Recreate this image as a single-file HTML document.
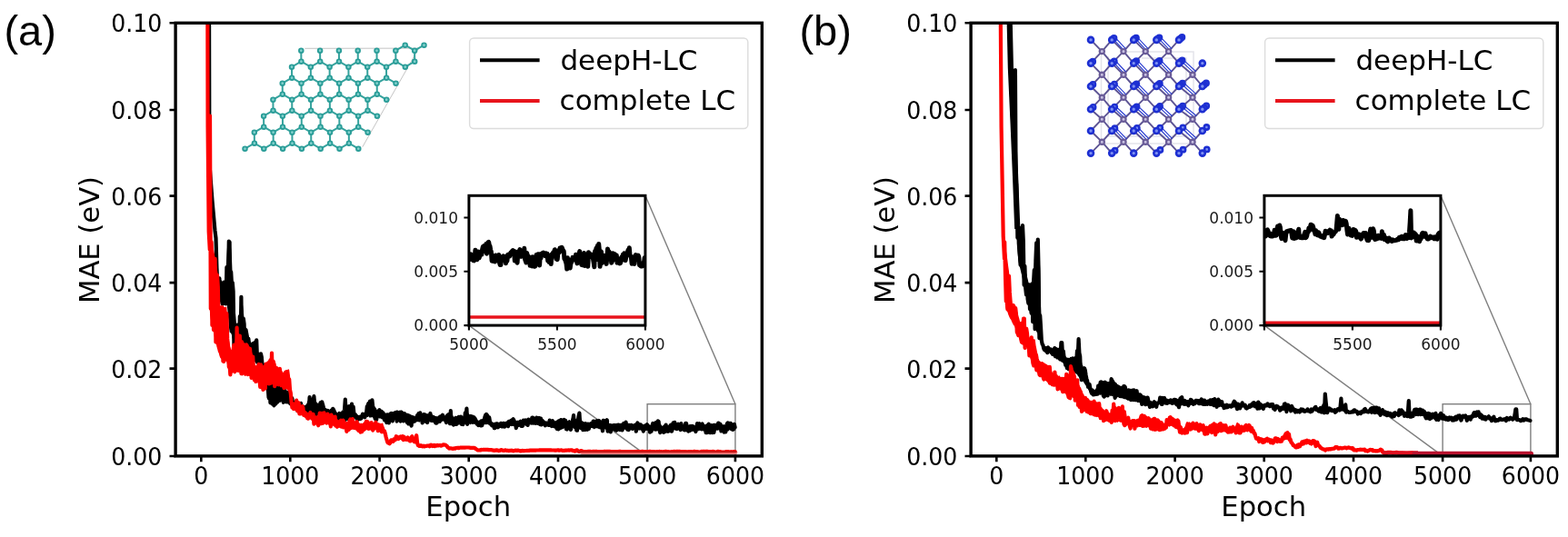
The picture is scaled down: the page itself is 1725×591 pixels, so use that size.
<!DOCTYPE html>
<html lang="en">
<head>
<meta charset="utf-8">
<title>MAE vs Epoch: deepH-LC and complete LC</title>
<style>
html,body{margin:0;padding:0;background:#fff;}
body{width:1725px;height:591px;overflow:hidden;}
svg{display:block;filter:blur(0.65px);}
</style>
</head>
<body>
<svg width="1725" height="591" viewBox="0 0 1725 591" role="img" aria-label="MAE versus epoch for deepH-LC and complete LC">
<rect width="1725" height="591" fill="#fff"/>
<g transform="translate(0.0,0)">
<path d="M221.30,501.9v6.4M319.30,501.9v6.4M417.60,501.9v6.4M515.70,501.9v6.4M614.00,501.9v6.4M712.10,501.9v6.4M808.90,501.9v6.4M193.1,502.00h-6.6M193.1,405.60h-6.6M193.1,311.10h-6.6M193.1,215.60h-6.6M193.1,121.00h-6.6M193.1,25.30h-6.6" stroke="#000" stroke-width="2.6" fill="none"/>
<g font-family="'DejaVu Sans','Liberation Sans',sans-serif" font-size="25.2" fill="#000">
<text transform="translate(221.3,532.6) scale(1,1.050)" text-anchor="middle">0</text>
<text transform="translate(319.3,532.6) scale(1,1.050)" text-anchor="middle">1000</text>
<text transform="translate(417.6,532.6) scale(1,1.050)" text-anchor="middle">2000</text>
<text transform="translate(515.7,532.6) scale(1,1.050)" text-anchor="middle">3000</text>
<text transform="translate(614.0,532.6) scale(1,1.050)" text-anchor="middle">4000</text>
<text transform="translate(712.1,532.6) scale(1,1.050)" text-anchor="middle">5000</text>
<text transform="translate(808.9,532.6) scale(1,1.050)" text-anchor="middle">6000</text>
<text transform="translate(178.4,511.9) scale(1,1.050)" text-anchor="end">0.00</text>
<text transform="translate(178.4,415.5) scale(1,1.050)" text-anchor="end">0.02</text>
<text transform="translate(178.4,321.0) scale(1,1.050)" text-anchor="end">0.04</text>
<text transform="translate(178.4,225.5) scale(1,1.050)" text-anchor="end">0.06</text>
<text transform="translate(178.4,130.9) scale(1,1.050)" text-anchor="end">0.08</text>
<text transform="translate(178.4,35.2) scale(1,1.050)" text-anchor="end">0.10</text>
</g>
<text x="515.2" y="567.8" text-anchor="middle" font-family="'DejaVu Sans','Liberation Sans',sans-serif" font-size="30.6">Epoch</text>
<text transform="translate(109.3,264) rotate(-90)" text-anchor="middle" font-family="'DejaVu Sans','Liberation Sans',sans-serif" font-size="30.6">MAE (eV)</text>
<g stroke="#7f7f7f" stroke-width="1.4" fill="none">
<rect x="712.1" y="444.7" width="96.8" height="57.2"/>
<path d="M515.9,358.1L712.1,501.9M709.9,215.3L808.9,444.7"/>
</g>
<rect x="516.6" y="42" width="306.2" height="99.5" rx="4.5" fill="#fff" fill-opacity="0.8" stroke="#dcdcdc" stroke-width="1.4"/>
<path d="M528,66.2H593.6" stroke="#000" stroke-width="3.9"/>
<path d="M528,111H593.6" stroke="#e8141c" stroke-width="3.9"/>
<g font-family="'DejaVu Sans','Liberation Sans',sans-serif" font-size="31.0" fill="#000"><text x="616.4" y="76.8">deepH-LC</text><text x="615.6" y="121.4">complete LC</text></g>
<path d="M515.9,358.1v5.5M515.9,358.1h-5.5M612.9,358.1v5.5M515.9,298.8h-5.5M709.9,358.1v5.5M515.9,239.5h-5.5" stroke="#000" stroke-width="2.1" fill="none"/>
<g font-family="'DejaVu Sans','Liberation Sans',sans-serif" font-size="17.0" fill="#1a1a1a">
<text x="515.9" y="384.8" text-anchor="middle">5000</text>
<text x="612.9" y="384.8" text-anchor="middle">5500</text>
<text x="709.9" y="384.8" text-anchor="middle">6000</text>
<text x="504" y="364.3" text-anchor="end">0.000</text>
<text x="504" y="305.0" text-anchor="end">0.005</text>
<text x="504" y="245.7" text-anchor="end">0.010</text>
</g>
</g>
<g transform="translate(875.0,0)">
<path d="M221.30,501.9v6.4M319.30,501.9v6.4M417.60,501.9v6.4M515.70,501.9v6.4M614.00,501.9v6.4M712.10,501.9v6.4M808.90,501.9v6.4M193.1,502.00h-6.6M193.1,405.60h-6.6M193.1,311.10h-6.6M193.1,215.60h-6.6M193.1,121.00h-6.6M193.1,25.30h-6.6" stroke="#000" stroke-width="2.6" fill="none"/>
<g font-family="'DejaVu Sans','Liberation Sans',sans-serif" font-size="25.2" fill="#000">
<text transform="translate(221.3,532.6) scale(1,1.050)" text-anchor="middle">0</text>
<text transform="translate(319.3,532.6) scale(1,1.050)" text-anchor="middle">1000</text>
<text transform="translate(417.6,532.6) scale(1,1.050)" text-anchor="middle">2000</text>
<text transform="translate(515.7,532.6) scale(1,1.050)" text-anchor="middle">3000</text>
<text transform="translate(614.0,532.6) scale(1,1.050)" text-anchor="middle">4000</text>
<text transform="translate(712.1,532.6) scale(1,1.050)" text-anchor="middle">5000</text>
<text transform="translate(808.9,532.6) scale(1,1.050)" text-anchor="middle">6000</text>
<text transform="translate(178.4,511.9) scale(1,1.050)" text-anchor="end">0.00</text>
<text transform="translate(178.4,415.5) scale(1,1.050)" text-anchor="end">0.02</text>
<text transform="translate(178.4,321.0) scale(1,1.050)" text-anchor="end">0.04</text>
<text transform="translate(178.4,225.5) scale(1,1.050)" text-anchor="end">0.06</text>
<text transform="translate(178.4,130.9) scale(1,1.050)" text-anchor="end">0.08</text>
<text transform="translate(178.4,35.2) scale(1,1.050)" text-anchor="end">0.10</text>
</g>
<text x="515.2" y="567.8" text-anchor="middle" font-family="'DejaVu Sans','Liberation Sans',sans-serif" font-size="30.6">Epoch</text>
<text transform="translate(109.3,264) rotate(-90)" text-anchor="middle" font-family="'DejaVu Sans','Liberation Sans',sans-serif" font-size="30.6">MAE (eV)</text>
<g stroke="#7f7f7f" stroke-width="1.4" fill="none">
<rect x="712.1" y="444.7" width="96.8" height="57.2"/>
<path d="M515.9,358.1L712.1,501.9M709.9,215.3L808.9,444.7"/>
</g>
<rect x="516.6" y="42" width="306.2" height="99.5" rx="4.5" fill="#fff" fill-opacity="0.8" stroke="#dcdcdc" stroke-width="1.4"/>
<path d="M528,66.2H593.6" stroke="#000" stroke-width="3.9"/>
<path d="M528,111H593.6" stroke="#e8141c" stroke-width="3.9"/>
<g font-family="'DejaVu Sans','Liberation Sans',sans-serif" font-size="31.0" fill="#000"><text x="616.4" y="76.8">deepH-LC</text><text x="615.6" y="121.4">complete LC</text></g>
<path d="M515.9,358.1v5.5M515.9,358.1h-5.5M612.9,358.1v5.5M515.9,298.8h-5.5M709.9,358.1v5.5M515.9,239.5h-5.5" stroke="#000" stroke-width="2.1" fill="none"/>
<g font-family="'DejaVu Sans','Liberation Sans',sans-serif" font-size="17.0" fill="#1a1a1a">
<text x="612.9" y="384.8" text-anchor="middle">5500</text>
<text x="709.9" y="384.8" text-anchor="middle">6000</text>
<text x="504" y="364.3" text-anchor="end">0.000</text>
<text x="504" y="305.0" text-anchor="end">0.005</text>
<text x="504" y="245.7" text-anchor="end">0.010</text>
</g>
</g>
<path d="M335.3,53.3L460.6,53.1L398.8,161.7" stroke="#c4c4c4" stroke-width="1" fill="none"/>
<path d="M279.9,157.7L269.5,163.7M279.9,157.7L290.3,163.7M279.9,157.7L279.8,145.7M290.2,139.7L279.8,145.7M290.2,139.7L300.6,145.7M290.2,139.7L290.1,127.7M300.5,121.7L290.1,127.7M300.5,121.7L310.9,127.7M300.5,121.7L300.4,109.7M310.8,103.7L300.4,109.7M310.8,103.7L321.2,109.7M310.8,103.7L310.7,91.7M321.1,85.7L310.7,91.7M321.1,85.7L331.5,91.7M321.1,85.7L321.0,73.7M331.4,67.7L321.0,73.7M331.4,67.7L341.8,73.7M331.4,67.7L331.3,55.7M300.7,157.7L290.3,163.7M300.7,157.7L311.1,163.7M300.7,157.7L300.6,145.7M311.0,139.7L300.6,145.7M311.0,139.7L321.4,145.7M311.0,139.7L310.9,127.7M321.3,121.7L310.9,127.7M321.3,121.7L331.7,127.7M321.3,121.7L321.2,109.7M331.6,103.7L321.2,109.7M331.6,103.7L342.0,109.7M331.6,103.7L331.5,91.7M341.9,85.7L331.5,91.7M341.9,85.7L352.3,91.7M341.9,85.7L341.8,73.7M352.2,67.7L341.8,73.7M352.2,67.7L362.6,73.7M352.2,67.7L352.1,55.7M321.5,157.7L311.1,163.7M321.5,157.7L331.9,163.7M321.5,157.7L321.4,145.7M331.8,139.7L321.4,145.7M331.8,139.7L342.2,145.7M331.8,139.7L331.7,127.7M342.1,121.7L331.7,127.7M342.1,121.7L352.5,127.7M342.1,121.7L342.0,109.7M352.4,103.7L342.0,109.7M352.4,103.7L362.8,109.7M352.4,103.7L352.3,91.7M362.7,85.7L352.3,91.7M362.7,85.7L373.1,91.7M362.7,85.7L362.6,73.7M373.0,67.7L362.6,73.7M373.0,67.7L383.4,73.7M373.0,67.7L372.9,55.7M342.3,157.7L331.9,163.7M342.3,157.7L352.7,163.7M342.3,157.7L342.2,145.7M352.6,139.7L342.2,145.7M352.6,139.7L363.0,145.7M352.6,139.7L352.5,127.7M362.9,121.7L352.5,127.7M362.9,121.7L373.3,127.7M362.9,121.7L362.8,109.7M373.2,103.7L362.8,109.7M373.2,103.7L383.6,109.7M373.2,103.7L373.1,91.7M383.5,85.7L373.1,91.7M383.5,85.7L393.9,91.7M383.5,85.7L383.4,73.7M393.8,67.7L383.4,73.7M393.8,67.7L404.2,73.7M393.8,67.7L393.7,55.7M363.1,157.7L352.7,163.7M363.1,157.7L373.5,163.7M363.1,157.7L363.0,145.7M373.4,139.7L363.0,145.7M373.4,139.7L383.8,145.7M373.4,139.7L373.3,127.7M383.7,121.7L373.3,127.7M383.7,121.7L394.1,127.7M383.7,121.7L383.6,109.7M394.0,103.7L383.6,109.7M394.0,103.7L404.4,109.7M394.0,103.7L393.9,91.7M404.3,85.7L393.9,91.7M404.3,85.7L414.7,91.7M404.3,85.7L404.2,73.7M414.6,67.7L404.2,73.7M414.6,67.7L425.0,73.7M414.6,67.7L414.5,55.7M383.9,157.7L373.5,163.7M383.9,157.7L394.3,163.7M383.9,157.7L383.8,145.7M394.2,139.7L383.8,145.7M394.2,139.7L404.6,145.7M394.2,139.7L394.1,127.7M404.5,121.7L394.1,127.7M404.5,121.7L414.9,127.7M404.5,121.7L404.4,109.7M414.8,103.7L404.4,109.7M414.8,103.7L425.2,109.7M414.8,103.7L414.7,91.7M425.1,85.7L414.7,91.7M425.1,85.7L435.5,91.7M425.1,85.7L425.0,73.7M435.4,67.7L425.0,73.7M435.4,67.7L445.8,73.7M435.4,67.7L435.3,55.7M445.7,49.7L435.3,55.7M445.7,49.7L456.1,55.7M456.2,67.7L445.8,73.7M456.2,67.7L456.1,55.7M466.5,49.7L456.1,55.7" stroke="#35a29d" stroke-width="2.0" fill="none"/>
<g fill="#86d2ce" stroke="#2a9d98" stroke-width="1.9">
<circle cx="269.5" cy="163.7" r="2.3"/>
<circle cx="279.8" cy="145.7" r="2.3"/>
<circle cx="290.1" cy="127.7" r="2.3"/>
<circle cx="300.4" cy="109.7" r="2.3"/>
<circle cx="310.7" cy="91.7" r="2.3"/>
<circle cx="321.0" cy="73.7" r="2.3"/>
<circle cx="331.3" cy="55.7" r="2.3"/>
<circle cx="290.3" cy="163.7" r="2.3"/>
<circle cx="300.6" cy="145.7" r="2.3"/>
<circle cx="310.9" cy="127.7" r="2.3"/>
<circle cx="321.2" cy="109.7" r="2.3"/>
<circle cx="331.5" cy="91.7" r="2.3"/>
<circle cx="341.8" cy="73.7" r="2.3"/>
<circle cx="352.1" cy="55.7" r="2.3"/>
<circle cx="311.1" cy="163.7" r="2.3"/>
<circle cx="321.4" cy="145.7" r="2.3"/>
<circle cx="331.7" cy="127.7" r="2.3"/>
<circle cx="342.0" cy="109.7" r="2.3"/>
<circle cx="352.3" cy="91.7" r="2.3"/>
<circle cx="362.6" cy="73.7" r="2.3"/>
<circle cx="372.9" cy="55.7" r="2.3"/>
<circle cx="331.9" cy="163.7" r="2.3"/>
<circle cx="342.2" cy="145.7" r="2.3"/>
<circle cx="352.5" cy="127.7" r="2.3"/>
<circle cx="362.8" cy="109.7" r="2.3"/>
<circle cx="373.1" cy="91.7" r="2.3"/>
<circle cx="383.4" cy="73.7" r="2.3"/>
<circle cx="393.7" cy="55.7" r="2.3"/>
<circle cx="352.7" cy="163.7" r="2.3"/>
<circle cx="363.0" cy="145.7" r="2.3"/>
<circle cx="373.3" cy="127.7" r="2.3"/>
<circle cx="383.6" cy="109.7" r="2.3"/>
<circle cx="393.9" cy="91.7" r="2.3"/>
<circle cx="404.2" cy="73.7" r="2.3"/>
<circle cx="414.5" cy="55.7" r="2.3"/>
<circle cx="373.5" cy="163.7" r="2.3"/>
<circle cx="383.8" cy="145.7" r="2.3"/>
<circle cx="394.1" cy="127.7" r="2.3"/>
<circle cx="404.4" cy="109.7" r="2.3"/>
<circle cx="414.7" cy="91.7" r="2.3"/>
<circle cx="425.0" cy="73.7" r="2.3"/>
<circle cx="435.3" cy="55.7" r="2.3"/>
<circle cx="394.3" cy="163.7" r="2.3"/>
<circle cx="404.6" cy="145.7" r="2.3"/>
<circle cx="414.9" cy="127.7" r="2.3"/>
<circle cx="425.2" cy="109.7" r="2.3"/>
<circle cx="435.5" cy="91.7" r="2.3"/>
<circle cx="445.8" cy="73.7" r="2.3"/>
<circle cx="456.1" cy="55.7" r="2.3"/>
<circle cx="279.9" cy="157.7" r="2.3"/>
<circle cx="290.2" cy="139.7" r="2.3"/>
<circle cx="300.5" cy="121.7" r="2.3"/>
<circle cx="310.8" cy="103.7" r="2.3"/>
<circle cx="321.1" cy="85.7" r="2.3"/>
<circle cx="331.4" cy="67.7" r="2.3"/>
<circle cx="300.7" cy="157.7" r="2.3"/>
<circle cx="311.0" cy="139.7" r="2.3"/>
<circle cx="321.3" cy="121.7" r="2.3"/>
<circle cx="331.6" cy="103.7" r="2.3"/>
<circle cx="341.9" cy="85.7" r="2.3"/>
<circle cx="352.2" cy="67.7" r="2.3"/>
<circle cx="321.5" cy="157.7" r="2.3"/>
<circle cx="331.8" cy="139.7" r="2.3"/>
<circle cx="342.1" cy="121.7" r="2.3"/>
<circle cx="352.4" cy="103.7" r="2.3"/>
<circle cx="362.7" cy="85.7" r="2.3"/>
<circle cx="373.0" cy="67.7" r="2.3"/>
<circle cx="342.3" cy="157.7" r="2.3"/>
<circle cx="352.6" cy="139.7" r="2.3"/>
<circle cx="362.9" cy="121.7" r="2.3"/>
<circle cx="373.2" cy="103.7" r="2.3"/>
<circle cx="383.5" cy="85.7" r="2.3"/>
<circle cx="393.8" cy="67.7" r="2.3"/>
<circle cx="363.1" cy="157.7" r="2.3"/>
<circle cx="373.4" cy="139.7" r="2.3"/>
<circle cx="383.7" cy="121.7" r="2.3"/>
<circle cx="394.0" cy="103.7" r="2.3"/>
<circle cx="404.3" cy="85.7" r="2.3"/>
<circle cx="414.6" cy="67.7" r="2.3"/>
<circle cx="383.9" cy="157.7" r="2.3"/>
<circle cx="394.2" cy="139.7" r="2.3"/>
<circle cx="404.5" cy="121.7" r="2.3"/>
<circle cx="414.8" cy="103.7" r="2.3"/>
<circle cx="425.1" cy="85.7" r="2.3"/>
<circle cx="435.4" cy="67.7" r="2.3"/>
<circle cx="445.7" cy="49.7" r="2.3"/>
<circle cx="456.2" cy="67.7" r="2.3"/>
<circle cx="466.5" cy="49.7" r="2.3"/>
</g>
<g stroke="#e4e4ea" stroke-width="1.5" fill="none"><path d="M1211.5,57V158M1219,62V150M1240,57H1313V157M1256,64H1305V150M1219,150H1305M1211.5,158H1313"/></g>
<path d="M1212.3,56.6L1200.0,43.9M1212.3,56.6L1200.0,69.6M1212.3,56.6L1223.2,43.9M1212.3,56.6L1223.2,69.6M1212.3,82.2L1200.0,69.6M1212.3,82.2L1200.0,95.0M1212.3,82.2L1223.2,69.6M1212.3,82.2L1223.2,95.0M1212.3,107.2L1200.0,95.0M1212.3,107.2L1200.0,120.2M1212.3,107.2L1223.2,95.0M1212.3,107.2L1223.2,120.2M1212.3,131.2L1200.0,120.2M1212.3,131.2L1200.0,144.0M1212.3,131.2L1223.2,120.2M1212.3,131.2L1223.2,144.0M1212.3,156.2L1200.0,144.0M1212.3,156.2L1200.0,168.6M1212.3,156.2L1223.2,144.0M1212.3,156.2L1223.2,168.6M1236.0,56.6L1223.2,43.9M1236.0,56.6L1223.2,69.6M1236.0,56.6L1247.2,43.9M1236.0,56.6L1247.2,69.6M1236.0,82.2L1223.2,69.6M1236.0,82.2L1223.2,95.0M1236.0,82.2L1247.2,69.6M1236.0,82.2L1247.2,95.0M1236.0,107.2L1223.2,95.0M1236.0,107.2L1223.2,120.2M1236.0,107.2L1247.2,95.0M1236.0,107.2L1247.2,120.2M1236.0,131.2L1223.2,120.2M1236.0,131.2L1223.2,144.0M1236.0,131.2L1247.2,120.2M1236.0,131.2L1247.2,144.0M1236.0,156.2L1223.2,144.0M1236.0,156.2L1223.2,168.6M1236.0,156.2L1247.2,144.0M1236.0,156.2L1247.2,168.6M1260.2,56.6L1247.2,43.9M1260.2,56.6L1247.2,69.6M1260.2,56.6L1272.3,43.9M1260.2,56.6L1272.3,69.6M1260.2,82.2L1247.2,69.6M1260.2,82.2L1247.2,95.0M1260.2,82.2L1272.3,69.6M1260.2,82.2L1272.3,95.0M1260.2,107.2L1247.2,95.0M1260.2,107.2L1247.2,120.2M1260.2,107.2L1272.3,95.0M1260.2,107.2L1272.3,120.2M1260.2,131.2L1247.2,120.2M1260.2,131.2L1247.2,144.0M1260.2,131.2L1272.3,120.2M1260.2,131.2L1272.3,144.0M1260.2,156.2L1247.2,144.0M1260.2,156.2L1247.2,168.6M1260.2,156.2L1272.3,144.0M1260.2,156.2L1272.3,168.6M1285.6,56.6L1272.3,43.9M1285.6,56.6L1272.3,69.6M1285.6,56.6L1297.0,43.9M1285.6,56.6L1297.0,69.6M1285.6,82.2L1272.3,69.6M1285.6,82.2L1272.3,95.0M1285.6,82.2L1297.0,69.6M1285.6,82.2L1297.0,95.0M1285.6,107.2L1272.3,95.0M1285.6,107.2L1272.3,120.2M1285.6,107.2L1297.0,95.0M1285.6,107.2L1297.0,120.2M1285.6,131.2L1272.3,120.2M1285.6,131.2L1272.3,144.0M1285.6,131.2L1297.0,120.2M1285.6,131.2L1297.0,144.0M1285.6,156.2L1272.3,144.0M1285.6,156.2L1272.3,168.6M1285.6,156.2L1297.0,144.0M1285.6,156.2L1297.0,168.6M1312.0,82.2L1297.0,69.6M1312.0,82.2L1297.0,95.0M1312.0,82.2L1322.8,69.6M1312.0,82.2L1322.8,95.0M1312.0,107.2L1297.0,95.0M1312.0,107.2L1297.0,120.2M1312.0,107.2L1322.8,95.0M1312.0,107.2L1322.8,120.2M1312.0,131.2L1297.0,120.2M1312.0,131.2L1297.0,144.0M1312.0,131.2L1322.8,120.2M1312.0,131.2L1322.8,144.0M1312.0,156.2L1297.0,144.0M1312.0,156.2L1297.0,168.6M1312.0,156.2L1322.8,144.0M1312.0,156.2L1322.8,168.6" stroke="#5d5494" stroke-width="1.9" fill="none" stroke-linecap="round"/>
<path d="M1237.0,55.9L1224.6,42.8M1238.8,54.1L1226.5,41.0M1237.1,81.3L1224.8,68.3M1239.0,79.5L1226.7,66.5M1237.3,106.2L1225.1,93.5M1239.1,104.4L1226.9,91.7M1237.5,130.1L1225.3,118.5M1239.3,128.2L1227.1,116.7M1237.7,154.9L1225.5,142.2M1239.5,153.1L1227.3,140.3M1261.5,55.6L1249.0,42.5M1263.3,53.8L1250.8,40.7M1261.6,81.1L1249.2,68.0M1263.4,79.3L1251.0,66.2M1261.8,106.0L1249.4,93.2M1263.6,104.1L1251.2,91.4M1262.0,129.8L1249.6,118.2M1263.8,128.0L1251.5,116.4M1262.1,154.7L1249.9,141.8M1264.0,152.8L1251.7,140.0M1287.1,55.4L1274.4,42.2M1289.0,53.6L1276.3,40.4M1287.3,80.9L1274.7,67.7M1289.1,79.0L1276.5,65.9M1287.5,105.7L1274.9,92.9M1289.3,103.9L1276.7,91.1M1287.7,129.6L1275.1,117.9M1289.5,127.7L1276.9,116.1M1287.8,154.4L1275.3,141.5M1289.6,152.6L1277.1,139.7M1314.0,80.6L1299.7,67.4M1315.8,78.8L1301.5,65.6M1314.2,105.5L1299.9,92.6M1316.0,103.6L1301.8,90.8M1314.3,129.3L1300.2,117.6M1316.2,127.5L1302.0,115.8M1314.5,154.2L1300.4,141.2M1316.3,152.3L1302.2,139.4" stroke="#2d3fd0" stroke-width="1.2" fill="none"/>
<g fill="#c9c2e2" stroke="#6a5c98" stroke-width="2.2">
<circle cx="1212.3" cy="56.6" r="2.6"/>
<circle cx="1212.3" cy="82.2" r="2.6"/>
<circle cx="1212.3" cy="107.2" r="2.6"/>
<circle cx="1212.3" cy="131.2" r="2.6"/>
<circle cx="1212.3" cy="156.2" r="2.6"/>
<circle cx="1236.0" cy="56.6" r="2.6"/>
<circle cx="1236.0" cy="82.2" r="2.6"/>
<circle cx="1236.0" cy="107.2" r="2.6"/>
<circle cx="1236.0" cy="131.2" r="2.6"/>
<circle cx="1236.0" cy="156.2" r="2.6"/>
<circle cx="1260.2" cy="56.6" r="2.6"/>
<circle cx="1260.2" cy="82.2" r="2.6"/>
<circle cx="1260.2" cy="107.2" r="2.6"/>
<circle cx="1260.2" cy="131.2" r="2.6"/>
<circle cx="1260.2" cy="156.2" r="2.6"/>
<circle cx="1285.6" cy="56.6" r="2.6"/>
<circle cx="1285.6" cy="82.2" r="2.6"/>
<circle cx="1285.6" cy="107.2" r="2.6"/>
<circle cx="1285.6" cy="131.2" r="2.6"/>
<circle cx="1285.6" cy="156.2" r="2.6"/>
<circle cx="1312.0" cy="82.2" r="2.6"/>
<circle cx="1312.0" cy="107.2" r="2.6"/>
<circle cx="1312.0" cy="131.2" r="2.6"/>
<circle cx="1312.0" cy="156.2" r="2.6"/>
</g>
<g fill="#7f92f2" stroke="#1d2fd2" stroke-width="2.6">
<circle cx="1200.0" cy="43.9" r="3.0"/>
<circle cx="1202.2" cy="67.7" r="2.6"/>
<circle cx="1200.0" cy="69.6" r="3.0"/>
<circle cx="1202.4" cy="92.9" r="2.6"/>
<circle cx="1200.0" cy="95.0" r="3.0"/>
<circle cx="1202.6" cy="117.9" r="2.6"/>
<circle cx="1200.0" cy="120.2" r="3.0"/>
<circle cx="1200.0" cy="144.0" r="3.0"/>
<circle cx="1200.0" cy="168.6" r="3.0"/>
<circle cx="1225.5" cy="41.9" r="2.6"/>
<circle cx="1223.2" cy="43.9" r="3.0"/>
<circle cx="1225.8" cy="67.4" r="2.6"/>
<circle cx="1223.2" cy="69.6" r="3.0"/>
<circle cx="1226.0" cy="92.6" r="2.6"/>
<circle cx="1223.2" cy="95.0" r="3.0"/>
<circle cx="1226.2" cy="117.6" r="2.6"/>
<circle cx="1223.2" cy="120.2" r="3.0"/>
<circle cx="1226.4" cy="141.2" r="2.6"/>
<circle cx="1223.2" cy="144.0" r="3.0"/>
<circle cx="1226.6" cy="165.7" r="2.6"/>
<circle cx="1223.2" cy="168.6" r="3.0"/>
<circle cx="1249.9" cy="41.6" r="2.6"/>
<circle cx="1248.5" cy="42.7" r="2.6"/>
<circle cx="1247.2" cy="43.9" r="3.0"/>
<circle cx="1250.1" cy="67.1" r="2.6"/>
<circle cx="1248.7" cy="68.3" r="2.6"/>
<circle cx="1247.2" cy="69.6" r="3.0"/>
<circle cx="1250.3" cy="92.3" r="2.6"/>
<circle cx="1248.8" cy="93.7" r="2.6"/>
<circle cx="1247.2" cy="95.0" r="3.0"/>
<circle cx="1250.5" cy="117.3" r="2.6"/>
<circle cx="1248.9" cy="118.8" r="2.6"/>
<circle cx="1247.2" cy="120.2" r="3.0"/>
<circle cx="1250.8" cy="140.9" r="2.6"/>
<circle cx="1247.2" cy="144.0" r="3.0"/>
<circle cx="1247.2" cy="168.6" r="3.0"/>
<circle cx="1275.4" cy="41.3" r="2.6"/>
<circle cx="1273.8" cy="42.6" r="2.6"/>
<circle cx="1272.3" cy="43.9" r="3.0"/>
<circle cx="1275.6" cy="66.8" r="2.6"/>
<circle cx="1273.9" cy="68.2" r="2.6"/>
<circle cx="1272.3" cy="69.6" r="3.0"/>
<circle cx="1275.8" cy="92.0" r="2.6"/>
<circle cx="1274.0" cy="93.5" r="2.6"/>
<circle cx="1272.3" cy="95.0" r="3.0"/>
<circle cx="1276.0" cy="117.0" r="2.6"/>
<circle cx="1274.2" cy="118.6" r="2.6"/>
<circle cx="1272.3" cy="120.2" r="3.0"/>
<circle cx="1276.2" cy="140.6" r="2.6"/>
<circle cx="1272.3" cy="144.0" r="3.0"/>
<circle cx="1276.4" cy="165.0" r="2.6"/>
<circle cx="1272.3" cy="168.6" r="3.0"/>
<circle cx="1300.4" cy="41.0" r="2.6"/>
<circle cx="1298.7" cy="42.4" r="2.6"/>
<circle cx="1297.0" cy="43.9" r="3.0"/>
<circle cx="1300.6" cy="66.5" r="2.6"/>
<circle cx="1298.8" cy="68.0" r="2.6"/>
<circle cx="1297.0" cy="69.6" r="3.0"/>
<circle cx="1300.9" cy="91.7" r="2.6"/>
<circle cx="1298.9" cy="93.3" r="2.6"/>
<circle cx="1297.0" cy="95.0" r="3.0"/>
<circle cx="1301.1" cy="116.7" r="2.6"/>
<circle cx="1299.0" cy="118.4" r="2.6"/>
<circle cx="1297.0" cy="120.2" r="3.0"/>
<circle cx="1301.3" cy="140.3" r="2.6"/>
<circle cx="1297.0" cy="144.0" r="3.0"/>
<circle cx="1301.5" cy="164.7" r="2.6"/>
<circle cx="1297.0" cy="168.6" r="3.0"/>
<circle cx="1322.8" cy="69.6" r="3.0"/>
<circle cx="1327.0" cy="91.4" r="2.6"/>
<circle cx="1324.9" cy="93.2" r="2.6"/>
<circle cx="1322.8" cy="95.0" r="3.0"/>
<circle cx="1327.2" cy="116.4" r="2.6"/>
<circle cx="1325.0" cy="118.3" r="2.6"/>
<circle cx="1322.8" cy="120.2" r="3.0"/>
<circle cx="1327.4" cy="140.0" r="2.6"/>
<circle cx="1322.8" cy="144.0" r="3.0"/>
<circle cx="1327.7" cy="164.4" r="2.6"/>
<circle cx="1322.8" cy="168.6" r="3.0"/>
</g>
<clipPath id="ca"><rect x="193.1" y="25.3" width="645.2" height="476.6"/></clipPath>
<clipPath id="cb"><rect x="1068.1" y="25.3" width="645.2" height="476.6"/></clipPath>
<g clip-path="url(#ca)">
<path d="M239.0,290.6L239.8,303.0L240.6,307.5L241.4,308.1L242.2,308.7L243.0,308.7L243.8,310.5L244.6,311.1L245.4,310.9L246.2,310.5L247.0,310.8L247.8,308.0L248.6,304.2L249.4,295.5L250.2,281.5L251.0,268.5L251.8,268.8L252.6,268.7L253.4,273.6L254.2,283.9L255.0,304.2L255.8,313.2L256.6,323.6L257.4,333.7L258.2,343.3L259.0,353.8L259.8,358.7L260.6,359.7L261.4,360.2L262.2,360.4L263.0,359.3L263.8,351.3L264.6,341.1L265.4,333.5L266.2,335.1L267.0,341.0L267.8,351.0L268.6,359.2L269.4,361.2L270.2,361.0L271.0,361.9L271.8,362.6L272.6,366.9L273.4,371.3L274.2,374.2L275.0,376.3L275.8,379.1L276.6,381.2L277.4,381.1L278.2,380.6L279.0,380.8L279.8,379.5L280.6,377.3L281.4,376.7L282.2,383.5L283.0,390.3L283.8,391.1L284.6,391.8L285.4,391.8L286.2,391.6L287.0,392.6L287.8,391.9L288.6,394.4L289.4,399.5L290.2,402.3L291.0,404.2L291.8,405.3L292.6,406.7L293.4,408.3L294.2,410.0L295.0,410.4L295.8,413.0L296.6,413.5L297.4,415.7L298.2,416.9L299.0,418.0L299.8,417.8L300.6,418.6L301.4,419.9L302.2,420.4L303.0,421.2L303.8,422.1L304.6,421.7L305.4,422.8L306.2,423.0L307.0,423.9L307.8,424.7L308.6,425.1L309.4,425.1L310.2,426.3L311.0,426.4L311.8,427.1L312.6,427.9L313.4,428.3L314.2,428.8L315.0,430.3L315.8,430.4L316.6,431.1L317.4,432.0L318.2,431.9L319.0,434.6L319.8,437.5L320.6,440.4L321.4,441.1L322.2,441.3L323.0,442.2L323.8,441.9L324.6,442.5L325.4,442.4L326.2,442.8L327.0,443.4L327.8,444.6L328.6,444.5L329.4,444.6L330.2,445.4L331.0,446.1L331.8,445.6L332.6,446.3L333.4,445.9L334.2,447.0L335.0,447.7L335.8,446.6L336.6,446.3L337.4,445.5L338.2,444.0L339.0,441.8L339.8,441.1L340.6,439.2L341.4,439.0L342.2,439.0L343.0,438.5L343.8,437.9L344.6,437.3L345.4,439.1L346.2,439.7L347.0,441.5L347.8,443.2L348.6,443.8L349.4,444.7L350.2,444.7L351.0,445.6L351.8,445.4L352.6,443.1L353.4,442.3L354.2,444.1L355.0,446.0L355.8,448.2L356.6,448.9L357.4,450.0L358.2,449.7L359.0,450.1L359.8,451.5L360.6,452.5L361.4,452.7L362.2,453.0L363.0,452.8L363.8,453.4L364.6,452.5L365.4,452.4L366.2,453.3L367.0,451.9L367.8,453.2L368.6,453.9L369.4,453.3L370.2,454.3L371.0,454.9L371.8,455.9L372.6,455.8L373.4,455.9L374.2,454.7L375.0,454.9L375.8,454.0L376.6,454.0L377.4,454.7L378.2,453.6L379.0,452.4L379.8,448.0L380.6,446.6L381.4,449.5L382.2,450.6L383.0,450.6L383.8,449.4L384.6,449.0L385.4,448.7L386.2,448.4L387.0,447.5L387.8,449.1L388.6,450.3L389.4,451.5L390.2,453.8L391.0,456.1L391.8,455.2L392.6,456.8L393.4,457.2L394.2,457.6L395.0,458.0L395.8,458.0L396.6,457.9L397.4,457.8L398.2,457.7L399.0,457.5L399.8,457.5L400.6,457.4L401.4,456.9L402.2,453.5L403.0,450.9L403.8,449.7L404.6,446.0L405.4,445.6L406.2,445.1L407.0,444.9L407.8,443.8L408.6,443.5L409.4,444.1L410.2,445.0L411.0,446.6L411.8,447.9L412.6,449.3L413.4,450.0L414.2,451.8L415.0,451.9L415.8,453.9L416.6,454.3L417.4,454.0L418.2,454.2L419.0,454.2L419.8,454.2L420.6,455.1L421.4,454.9L422.2,454.6L423.0,454.9L423.8,456.0L424.6,455.2L425.4,455.2L426.2,455.0L427.0,455.9L427.8,454.9L428.6,454.8L429.4,453.8L430.2,453.8L431.0,453.4L431.8,454.4L432.6,453.8L433.4,453.7L434.2,452.8L435.0,453.6L435.8,452.5L436.6,452.2L437.4,452.3L438.2,452.8L439.0,452.8L439.8,452.3L440.6,452.4L441.4,452.1L442.2,452.5L443.0,453.1L443.8,454.0L444.6,453.9L445.4,453.7L446.2,454.5L447.0,455.5L447.8,455.6L448.6,455.5L449.4,456.0L450.2,456.2L451.0,456.5L451.8,457.3L452.6,457.6L453.4,457.5L454.2,458.3L455.0,457.9L455.8,458.9L456.6,458.8L457.4,458.6L458.2,458.8L459.0,459.0L459.8,458.7L460.6,458.4L461.4,456.9L462.2,456.4L463.0,456.9L463.8,456.8L464.6,455.6L465.4,456.6L466.2,456.2L467.0,455.7L467.8,455.3L468.6,456.8L469.4,456.2L470.2,456.1L471.0,456.3L471.8,456.8L472.6,457.4L473.4,456.4L474.2,456.8L475.0,456.9L475.8,457.1L476.6,458.6L477.4,457.8L478.2,458.9L479.0,458.9L479.8,458.7L480.6,459.2L481.4,459.8L482.2,459.9L483.0,460.8L483.8,460.2L484.6,460.1L485.4,459.8L486.2,459.9L487.0,459.5L487.8,458.3L488.6,459.0L489.4,458.4L490.2,457.8L491.0,457.1L491.8,455.9L492.6,456.3L493.4,455.6L494.2,455.0L495.0,454.5L495.8,455.3L496.6,457.0L497.4,457.5L498.2,458.8L499.0,459.4L499.8,460.4L500.6,461.5L501.4,461.7L502.2,462.2L503.0,462.3L503.8,461.4L504.6,461.1L505.4,461.8L506.2,461.0L507.0,461.4L507.8,461.2L508.6,460.1L509.4,459.6L510.2,458.1L511.0,457.1L511.8,455.4L512.6,453.8L513.4,452.7L514.2,454.9L515.0,455.6L515.8,456.9L516.6,458.5L517.4,459.4L518.2,460.2L519.0,461.2L519.8,461.2L520.6,461.0L521.4,462.2L522.2,462.1L523.0,462.6L523.8,462.2L524.6,463.6L525.4,463.3L526.2,463.7L527.0,463.4L527.8,463.2L528.6,463.5L529.4,462.7L530.2,462.8L531.0,461.6L531.8,460.7L532.6,460.4L533.4,460.5L534.2,459.0L535.0,458.3L535.8,458.9L536.6,460.0L537.4,461.5L538.2,461.6L539.0,463.1L539.8,463.8L540.6,464.7L541.4,466.2L542.2,466.2L543.0,466.3L543.8,466.4L544.6,465.2L545.4,465.7L546.2,465.1L547.0,465.7L547.8,465.5L548.6,465.5L549.4,466.6L550.2,466.5L551.0,466.4L551.8,466.4L552.6,466.3L553.4,466.3L554.2,466.2L555.0,466.1L555.8,465.1L556.6,464.7L557.4,464.6L558.2,465.3L559.0,464.1L559.8,463.6L560.6,463.5L561.4,463.9L562.2,463.9L563.0,463.4L563.8,464.0L564.6,463.8L565.4,464.0L566.2,464.3L567.0,463.5L567.8,463.4L568.6,464.7L569.4,463.4L570.2,464.5L571.0,463.6L571.8,463.7L572.6,462.2L573.4,463.3L574.2,462.8L575.0,461.9L575.8,461.9L576.6,462.4L577.4,462.7L578.2,461.8L579.0,462.2L579.8,462.7L580.6,461.7L581.4,463.0L582.2,461.7L583.0,462.5L583.8,462.4L584.6,462.6L585.4,461.8L586.2,462.3L587.0,461.3L587.8,461.4L588.6,461.8L589.4,460.9L590.2,460.9L591.0,461.6L591.8,461.7L592.6,462.0L593.4,461.5L594.2,462.0L595.0,462.0L595.8,462.6L596.6,463.6L597.4,462.7L598.2,464.3L599.0,463.6L599.8,464.7L600.6,465.0L601.4,464.3L602.2,465.9L603.0,465.9L603.8,465.5L604.6,465.0L605.4,464.8L606.2,465.7L607.0,464.3L607.8,465.4L608.6,464.0L609.4,464.7L610.2,463.9L611.0,464.0L611.8,463.7L612.6,463.3L613.4,462.6L614.2,462.1L615.0,461.9L615.8,461.5L616.6,461.3L617.4,461.6L618.2,463.1L619.0,464.2L619.8,464.0L620.6,464.9L621.4,464.8L622.2,464.2L623.0,463.6L623.8,463.5L624.6,464.2L625.4,463.8L626.2,462.7L627.0,463.7L627.8,463.7L628.6,462.7L629.4,460.8L630.2,460.4L631.0,459.6L631.8,460.1L632.6,461.0L633.4,462.7L634.2,461.5L635.0,462.3L635.8,460.6L636.6,458.2L637.4,459.5L638.2,461.2L639.0,461.9L639.8,464.1L640.6,463.9L641.4,464.9L642.2,464.9L643.0,465.0L643.8,465.0L644.6,464.8L645.4,465.6L646.2,466.0L647.0,465.1L647.8,466.2L648.6,465.5L649.4,465.8L650.2,466.6L651.0,466.9L651.8,466.4L652.6,466.8L653.4,466.9L654.2,466.9L655.0,466.0L655.8,466.1L656.6,466.3L657.4,466.6L658.2,465.4L659.0,466.3L659.8,465.8L660.6,465.0L661.4,463.4L662.2,462.9L663.0,461.4L663.8,461.6L664.6,461.6L665.4,462.2L666.2,461.8L667.0,462.6L667.8,464.4L668.6,465.6L669.4,466.3L670.2,466.7L671.0,466.8L671.8,466.7L672.6,467.2L673.4,467.9L674.2,466.7L675.0,467.7L675.8,467.7L676.6,466.6L677.4,467.2L678.2,466.8L679.0,466.5L679.8,466.4L680.6,467.5L681.4,467.5L682.2,466.5L683.0,467.3L683.8,466.3L684.6,467.3L685.4,466.9L686.2,466.7L687.0,466.1L687.8,467.0L688.6,466.4L689.4,467.4L690.2,466.9L691.0,466.4L691.8,466.8L692.6,466.6L693.4,466.9L694.2,466.7L695.0,466.5L695.8,467.3L696.6,467.4L697.4,467.0L698.2,467.8L699.0,466.6L699.8,467.2L700.6,467.7L701.4,467.2L702.2,467.8L703.0,467.8L703.8,467.5L704.6,466.9L705.4,467.5L706.2,467.8L707.0,467.8L707.8,468.5L708.6,467.5L709.4,467.3L710.2,468.4L711.0,468.1L711.8,468.3L712.6,468.0L713.4,468.3L714.2,468.2L715.0,468.4L715.8,468.5L716.6,468.8L717.4,468.3L718.2,468.8L719.0,468.2L719.8,468.3L720.6,467.8L721.4,467.1L722.2,466.8L723.0,466.0L723.8,465.9L724.6,466.4L725.4,467.1L726.2,468.1L727.0,468.0L727.8,469.2L728.6,469.5L729.4,469.7L730.2,468.3L731.0,468.4L731.8,468.6L732.6,468.9L733.4,469.2L734.2,468.8L735.0,469.0L735.8,468.6L736.6,467.2L737.4,467.4L738.2,467.7L739.0,467.0L739.8,467.6L740.6,466.7L741.4,466.4L742.2,466.7L743.0,467.3L743.8,468.0L744.6,467.2L745.4,468.9L746.2,468.9L747.0,469.2L747.8,469.4L748.6,468.9L749.4,468.8L750.2,469.2L751.0,468.4L751.8,468.9L752.6,468.8L753.4,468.2L754.2,468.8L755.0,468.7L755.8,469.3L756.6,468.1L757.4,468.5L758.2,468.9L759.0,467.6L759.8,468.2L760.6,468.3L761.4,468.9L762.2,467.7L763.0,468.2L763.8,468.8L764.6,469.2L765.4,468.1L766.2,468.5L767.0,468.8L767.8,468.5L768.6,469.2L769.4,468.3L770.2,469.4L771.0,469.3L771.8,468.9L772.6,469.1L773.4,468.7L774.2,467.8L775.0,468.1L775.8,468.0L776.6,467.8L777.4,467.0L778.2,467.3L779.0,468.0L779.8,466.6L780.6,467.8L781.4,467.8L782.2,467.0L783.0,466.7L783.8,467.4L784.6,466.8L785.4,466.6L786.2,466.5L787.0,467.1L787.8,467.1L788.6,467.8L789.4,467.9L790.2,468.3L791.0,468.1L791.8,468.3L792.6,467.7L793.4,468.5L794.2,468.2L795.0,468.8L795.8,467.9L796.6,468.0L797.4,468.5L798.2,468.1L799.0,468.5L799.8,468.8L800.6,467.7L801.4,467.8L802.2,468.7L803.0,468.8L803.8,468.2L804.6,468.7L805.4,468.9L806.2,469.2L807.0,468.5L807.8,469.2L808.6,469.1L808.6,473.1L807.8,472.7L807.0,473.5L806.2,472.6L805.4,472.7L804.6,472.8L803.8,473.1L803.0,472.3L802.2,472.2L801.4,473.6L800.6,472.7L799.8,472.2L799.0,473.5L798.2,473.3L797.4,472.5L796.6,472.4L795.8,473.1L795.0,473.2L794.2,472.8L793.4,472.3L792.6,472.8L791.8,472.8L791.0,472.3L790.2,472.7L789.4,472.9L788.6,472.6L787.8,473.0L787.0,473.7L786.2,472.6L785.4,473.2L784.6,472.9L783.8,472.8L783.0,474.1L782.2,473.7L781.4,473.2L780.6,473.5L779.8,474.2L779.0,472.9L778.2,473.7L777.4,473.5L776.6,473.4L775.8,472.7L775.0,473.7L774.2,473.0L773.4,473.7L772.6,472.6L771.8,473.8L771.0,473.4L770.2,473.1L769.4,473.0L768.6,473.5L767.8,473.4L767.0,472.8L766.2,472.8L765.4,473.1L764.6,472.3L763.8,472.4L763.0,472.6L762.2,473.4L761.4,473.4L760.6,472.8L759.8,472.5L759.0,473.6L758.2,473.5L757.4,472.8L756.6,472.7L755.8,473.0L755.0,472.8L754.2,473.8L753.4,472.8L752.6,473.3L751.8,473.4L751.0,473.1L750.2,472.9L749.4,473.7L748.6,472.8L747.8,472.4L747.0,472.4L746.2,472.1L745.4,472.4L744.6,473.2L743.8,472.8L743.0,471.9L742.2,472.8L741.4,472.6L740.6,471.9L739.8,472.8L739.0,472.6L738.2,471.3L737.4,472.5L736.6,472.5L735.8,471.7L735.0,471.9L734.2,473.1L733.4,472.3L732.6,473.1L731.8,473.4L731.0,472.6L730.2,472.7L729.4,473.6L728.6,473.8L727.8,473.6L727.0,473.4L726.2,473.8L725.4,473.5L724.6,473.0L723.8,473.5L723.0,473.5L722.2,473.9L721.4,473.6L720.6,473.8L719.8,472.9L719.0,473.4L718.2,472.6L717.4,472.8L716.6,472.4L715.8,473.2L715.0,473.2L714.2,472.7L713.4,473.0L712.6,473.3L711.8,472.7L711.0,472.5L710.2,472.2L709.4,472.6L708.6,473.0L707.8,471.9L707.0,473.1L706.2,472.8L705.4,473.0L704.6,472.5L703.8,472.6L703.0,473.0L702.2,472.1L701.4,472.7L700.6,472.6L699.8,471.5L699.0,472.7L698.2,472.3L697.4,472.0L696.6,472.7L695.8,471.4L695.0,471.9L694.2,471.4L693.4,471.2L692.6,470.9L691.8,471.0L691.0,471.7L690.2,471.5L689.4,471.7L688.6,470.5L687.8,471.3L687.0,470.2L686.2,471.1L685.4,470.6L684.6,470.1L683.8,470.1L683.0,471.1L682.2,471.1L681.4,469.8L680.6,470.8L679.8,470.3L679.0,470.1L678.2,471.4L677.4,471.1L676.6,471.7L675.8,471.6L675.0,471.2L674.2,471.4L673.4,472.3L672.6,472.2L671.8,473.1L671.0,472.3L670.2,472.0L669.4,473.2L668.6,473.0L667.8,473.0L667.0,472.2L666.2,471.8L665.4,471.3L664.6,471.5L663.8,472.3L663.0,472.3L662.2,471.3L661.4,472.0L660.6,471.6L659.8,471.4L659.0,471.5L658.2,470.5L657.4,470.8L656.6,470.3L655.8,470.4L655.0,470.7L654.2,471.0L653.4,471.5L652.6,470.2L651.8,470.4L651.0,470.3L650.2,469.9L649.4,470.2L648.6,470.8L647.8,470.7L647.0,470.3L646.2,469.8L645.4,469.5L644.6,470.9L643.8,470.9L643.0,470.6L642.2,469.7L641.4,471.1L640.6,470.1L639.8,470.7L639.0,470.2L638.2,471.1L637.4,470.6L636.6,471.4L635.8,470.8L635.0,470.4L634.2,471.6L633.4,471.2L632.6,470.3L631.8,471.2L631.0,470.1L630.2,470.1L629.4,470.2L628.6,470.8L627.8,470.4L627.0,470.6L626.2,470.5L625.4,470.3L624.6,469.4L623.8,469.7L623.0,470.1L622.2,469.0L621.4,469.8L620.6,469.4L619.8,468.9L619.0,470.0L618.2,469.1L617.4,469.5L616.6,469.9L615.8,469.1L615.0,469.1L614.2,469.6L613.4,470.0L612.6,469.4L611.8,470.3L611.0,470.0L610.2,470.0L609.4,470.3L608.6,469.8L607.8,469.6L607.0,469.2L606.2,468.9L605.4,469.2L604.6,468.5L603.8,469.0L603.0,468.8L602.2,468.0L601.4,468.5L600.6,467.6L599.8,468.3L599.0,468.2L598.2,467.3L597.4,466.9L596.6,467.3L595.8,467.7L595.0,466.9L594.2,466.9L593.4,467.7L592.6,467.3L591.8,467.3L591.0,467.0L590.2,466.5L589.4,467.0L588.6,467.1L587.8,466.1L587.0,466.6L586.2,467.1L585.4,466.0L584.6,467.0L583.8,466.3L583.0,466.4L582.2,466.5L581.4,466.4L580.6,465.6L579.8,465.7L579.0,466.0L578.2,465.4L577.4,465.6L576.6,466.0L575.8,466.3L575.0,466.7L574.2,466.8L573.4,467.6L572.6,467.9L571.8,468.0L571.0,468.5L570.2,467.9L569.4,468.0L568.6,469.1L567.8,468.3L567.0,467.8L566.2,468.7L565.4,468.2L564.6,468.3L563.8,467.4L563.0,468.4L562.2,467.4L561.4,468.0L560.6,467.9L559.8,467.0L559.0,468.0L558.2,467.5L557.4,467.0L556.6,467.5L555.8,467.7L555.0,466.4L554.2,466.2L553.4,466.3L552.6,466.3L551.8,466.4L551.0,466.4L550.2,466.5L549.4,466.6L548.6,466.8L547.8,468.0L547.0,467.1L546.2,467.3L545.4,468.4L544.6,468.7L543.8,468.7L543.0,468.8L542.2,467.6L541.4,468.2L540.6,467.9L539.8,467.4L539.0,466.8L538.2,467.2L537.4,466.1L536.6,466.4L535.8,466.0L535.0,466.4L534.2,466.6L533.4,466.0L532.6,466.3L531.8,465.6L531.0,466.1L530.2,466.1L529.4,465.3L528.6,466.6L527.8,465.6L527.0,465.3L526.2,466.5L525.4,466.0L524.6,465.4L523.8,466.0L523.0,466.0L522.2,465.2L521.4,466.1L520.6,465.3L519.8,466.3L519.0,465.6L518.2,465.8L517.4,466.4L516.6,465.5L515.8,465.5L515.0,465.7L514.2,465.2L513.4,464.2L512.6,465.5L511.8,464.3L511.0,463.7L510.2,465.1L509.4,464.2L508.6,464.6L507.8,464.9L507.0,464.5L506.2,466.0L505.4,465.6L504.6,465.6L503.8,466.0L503.0,466.4L502.2,466.7L501.4,466.3L500.6,466.2L499.8,465.5L499.0,464.7L498.2,465.0L497.4,464.7L496.6,464.8L495.8,463.9L495.0,462.7L494.2,463.4L493.4,463.2L492.6,463.1L491.8,462.6L491.0,463.2L490.2,463.1L489.4,462.6L488.6,463.0L487.8,462.7L487.0,462.7L486.2,463.2L485.4,463.3L484.6,463.1L483.8,462.8L483.0,463.3L482.2,463.6L481.4,463.8L480.6,463.8L479.8,463.7L479.0,464.4L478.2,464.3L477.4,464.5L476.6,463.7L475.8,464.2L475.0,463.4L474.2,463.4L473.4,463.8L472.6,463.2L471.8,463.2L471.0,462.6L470.2,462.3L469.4,462.4L468.6,462.7L467.8,462.4L467.0,462.5L466.2,462.2L465.4,463.5L464.6,463.0L463.8,463.1L463.0,463.2L462.2,462.6L461.4,463.9L460.6,463.6L459.8,463.6L459.0,462.8L458.2,463.4L457.4,464.3L456.6,464.9L455.8,464.5L455.0,465.1L454.2,464.9L453.4,464.9L452.6,466.0L451.8,465.1L451.0,465.2L450.2,464.1L449.4,464.6L448.6,463.5L447.8,463.8L447.0,462.4L446.2,462.9L445.4,462.1L444.6,461.5L443.8,460.7L443.0,460.5L442.2,461.6L441.4,460.2L440.6,460.2L439.8,461.0L439.0,460.8L438.2,461.2L437.4,460.2L436.6,460.2L435.8,460.3L435.0,461.2L434.2,461.5L433.4,460.4L432.6,461.8L431.8,461.5L431.0,461.5L430.2,462.5L429.4,463.3L428.6,462.9L427.8,463.4L427.0,464.7L426.2,464.2L425.4,462.6L424.6,462.4L423.8,462.3L423.0,462.0L422.2,461.4L421.4,461.2L420.6,460.4L419.8,460.4L419.0,459.6L418.2,459.8L417.4,459.8L416.6,459.0L415.8,458.5L415.0,459.7L414.2,458.9L413.4,459.4L412.6,458.6L411.8,459.1L411.0,459.2L410.2,458.8L409.4,457.7L408.6,458.4L407.8,458.2L407.0,458.9L406.2,457.6L405.4,457.5L404.6,458.3L403.8,457.3L403.0,458.2L402.2,457.8L401.4,456.9L400.6,457.4L399.8,457.5L399.0,457.5L398.2,457.7L397.4,457.8L396.6,457.9L395.8,458.0L395.0,458.0L394.2,458.9L393.4,459.1L392.6,458.6L391.8,460.0L391.0,460.1L390.2,459.8L389.4,460.2L388.6,460.1L387.8,461.1L387.0,460.9L386.2,460.5L385.4,461.7L384.6,460.9L383.8,461.2L383.0,462.4L382.2,462.2L381.4,461.6L380.6,463.1L379.8,462.4L379.0,461.7L378.2,462.3L377.4,461.2L376.6,461.0L375.8,461.3L375.0,461.5L374.2,460.4L373.4,460.5L372.6,459.6L371.8,459.6L371.0,459.9L370.2,458.9L369.4,459.4L368.6,458.2L367.8,458.0L367.0,459.0L366.2,457.9L365.4,458.4L364.6,457.9L363.8,457.3L363.0,457.6L362.2,457.3L361.4,457.5L360.6,457.4L359.8,457.4L359.0,457.3L358.2,457.2L357.4,457.3L356.6,456.6L355.8,456.9L355.0,456.4L354.2,456.5L353.4,457.3L352.6,457.4L351.8,456.2L351.0,457.0L350.2,456.2L349.4,456.2L348.6,457.1L347.8,456.6L347.0,456.7L346.2,456.7L345.4,456.7L344.6,456.0L343.8,455.4L343.0,454.9L342.2,454.5L341.4,455.5L340.6,454.3L339.8,454.5L339.0,453.7L338.2,452.8L337.4,453.4L336.6,452.0L335.8,451.6L335.0,452.4L334.2,451.2L333.4,451.0L332.6,450.9L331.8,450.6L331.0,450.6L330.2,450.4L329.4,450.1L328.6,450.8L327.8,450.4L327.0,449.6L326.2,449.0L325.4,448.9L324.6,449.2L323.8,449.0L323.0,449.7L322.2,448.5L321.4,447.1L320.6,446.1L319.8,446.3L319.0,445.5L318.2,445.0L317.4,443.4L316.6,443.7L315.8,442.6L315.0,443.2L314.2,442.4L313.4,442.1L312.6,440.6L311.8,440.5L311.0,440.7L310.2,441.3L309.4,441.3L308.6,442.1L307.8,442.0L307.0,442.2L306.2,443.6L305.4,443.6L304.6,445.0L303.8,445.7L303.0,445.7L302.2,443.9L301.4,443.0L300.6,443.5L299.8,442.9L299.0,442.5L298.2,441.2L297.4,440.5L296.6,440.3L295.8,439.1L295.0,439.4L294.2,437.5L293.4,425.6L292.6,409.7L291.8,408.6L291.0,407.6L290.2,407.4L289.4,406.6L288.6,405.6L287.8,405.4L287.0,404.8L286.2,403.6L285.4,401.9L284.6,401.1L283.8,400.4L283.0,400.1L282.2,399.6L281.4,398.4L280.6,397.5L279.8,396.5L279.0,397.1L278.2,396.1L277.4,394.9L276.6,393.6L275.8,392.8L275.0,392.1L274.2,392.2L273.4,391.9L272.6,390.4L271.8,389.4L271.0,389.7L270.2,389.0L269.4,388.6L268.6,388.1L267.8,388.5L267.0,387.8L266.2,387.9L265.4,387.8L264.6,387.4L263.8,387.9L263.0,387.2L262.2,386.1L261.4,385.4L260.6,384.0L259.8,383.6L259.0,383.0L258.2,381.4L257.4,377.0L256.6,372.5L255.8,368.9L255.0,366.8L254.2,365.8L253.4,365.4L252.6,359.6L251.8,349.1L251.0,339.8L250.2,334.1L249.4,332.6L248.6,332.0L247.8,332.7L247.0,332.5L246.2,332.6L245.4,331.2L244.6,331.4L243.8,331.5L243.0,330.9L242.2,330.7L241.4,329.6L240.6,326.7L239.8,324.2L239.0,320.1Z" fill="#000" stroke="#000" stroke-width="1.5" stroke-linejoin="round"/>
<path d="M230.0,-10.0L230.4,180.0L233.5,221.0L236.5,254.0L237.5,262.0L238.6,300.0L239.0,314.3L239.8,325.0L240.6,328.2L241.4,306.3L242.2,328.3L243.0,326.0L243.8,330.2L244.6,334.4L245.4,334.3L246.2,310.7L247.0,322.7L247.8,326.2L248.6,334.3L249.4,294.1L250.2,327.8L251.0,318.6L251.8,265.5L252.6,266.5L253.4,341.9L254.2,299.3L255.0,313.7L255.8,311.1L256.6,320.7L257.4,379.5L258.2,374.3L259.0,376.9L259.8,359.4L260.6,375.0L261.4,357.6L262.2,357.5L263.0,384.3L263.8,348.2L264.6,375.2L265.4,326.9L266.2,384.7L267.0,383.8L267.8,350.6L268.6,356.5L269.4,390.3L270.2,384.3L271.0,379.1L271.8,391.2L272.6,391.2L273.4,372.9L274.2,386.6L275.0,378.9L275.8,390.2L276.6,389.0L277.4,390.2L278.2,378.1L279.0,387.6L279.8,387.3L280.6,376.7L281.4,390.4L282.2,374.3L283.0,395.8L283.8,389.3L284.6,399.8L285.4,392.8L286.2,398.1L287.0,389.4L287.8,392.9L288.6,402.4L289.4,407.8L290.2,402.2L291.0,403.4L291.8,409.2L292.6,410.5L293.4,411.2L294.2,410.8L295.0,419.0L295.8,417.9L296.6,411.5L297.4,443.3L298.2,413.8L299.0,416.0L299.8,444.6L300.6,444.3L301.4,446.3L302.2,417.5L303.0,444.3L303.8,424.3L304.6,422.7L305.4,427.2L306.2,420.5L307.0,428.4L307.8,433.8L308.6,430.8L309.4,437.9L310.2,434.6L311.0,430.6L311.8,442.8L312.6,436.7L313.4,435.3L314.2,433.3L315.0,442.4L315.8,435.6L316.6,437.3L317.4,437.7L318.2,438.3L319.0,431.4L319.8,440.2L320.6,438.8L321.4,438.5L322.2,445.9L323.0,446.9L323.8,447.8L324.6,443.6L325.4,449.0L326.2,448.4L327.0,451.8L327.8,446.8L328.6,449.8L329.4,450.1L330.2,444.3L331.0,444.0L331.8,449.9L332.6,447.6L333.4,450.0L334.2,448.8L335.0,450.0L335.8,451.1L336.6,448.5L337.4,450.2L338.2,449.4L339.0,455.9L339.8,450.7L340.6,437.0L341.4,450.5L342.2,447.9L343.0,445.6L343.8,440.0L344.6,443.9L345.4,436.2L346.2,445.3L347.0,456.4L347.8,447.8L348.6,446.1L349.4,448.7L350.2,448.0L351.0,454.5L351.8,445.9L352.6,443.2L353.4,443.9L354.2,442.4L355.0,445.0L355.8,448.1L356.6,454.0L357.4,456.0L358.2,454.2L359.0,452.3L359.8,452.8L360.6,451.9L361.4,457.2L362.2,456.2L363.0,453.7L363.8,458.3L364.6,451.5L365.4,457.2L366.2,449.8L367.0,451.0L367.8,452.8L368.6,461.6L369.4,459.2L370.2,456.5L371.0,460.0L371.8,462.2L372.6,457.4L373.4,455.0L374.2,459.5L375.0,459.4L375.8,456.8L376.6,456.5L377.4,453.3L378.2,456.4L379.0,451.2L379.8,439.6L380.6,453.3L381.4,449.1L382.2,457.2L383.0,447.8L383.8,447.3L384.6,455.4L385.4,464.0L386.2,450.3L387.0,444.6L387.8,455.0L388.6,447.6L389.4,454.8L390.2,457.9L391.0,457.0L391.8,458.1L392.6,461.3L393.4,458.9L394.2,461.5L395.0,459.2L395.8,458.8L396.6,460.9L397.4,460.4L398.2,458.3L399.0,455.7L399.8,457.9L400.6,456.0L401.4,459.3L402.2,456.1L403.0,455.4L403.8,447.5L404.6,446.3L405.4,443.8L406.2,450.3L407.0,441.7L407.8,442.3L408.6,457.1L409.4,440.3L410.2,448.0L411.0,451.3L411.8,450.1L412.6,460.6L413.4,461.3L414.2,461.7L415.0,457.4L415.8,454.8L416.6,452.3L417.4,451.2L418.2,452.2L419.0,453.2L419.8,453.0L420.6,457.5L421.4,454.2L422.2,457.9L423.0,462.4L423.8,459.7L424.6,460.8L425.4,465.0L426.2,456.9L427.0,460.3L427.8,465.5L428.6,458.4L429.4,458.6L430.2,458.6L431.0,459.0L431.8,463.5L432.6,458.4L433.4,457.3L434.2,459.2L435.0,457.5L435.8,457.2L436.6,463.6L437.4,460.2L438.2,456.8L439.0,455.3L439.8,461.5L440.6,463.6L441.4,460.9L442.2,462.8L443.0,457.7L443.8,463.5L444.6,458.3L445.4,457.7L446.2,456.6L447.0,459.2L447.8,464.9L448.6,458.7L449.4,466.5L450.2,462.1L451.0,462.1L451.8,460.7L452.6,468.6L453.4,461.3L454.2,462.2L455.0,463.6L455.8,462.1L456.6,461.7L457.4,461.6L458.2,460.7L459.0,457.1L459.8,457.2L460.6,455.1L461.4,458.0L462.2,454.4L463.0,458.1L463.8,457.4L464.6,465.4L465.4,459.0L466.2,456.1L467.0,461.8L467.8,456.6L468.6,464.0L469.4,463.8L470.2,465.0L471.0,457.9L471.8,458.7L472.6,458.7L473.4,455.0L474.2,461.6L475.0,462.9L475.8,463.0L476.6,461.4L477.4,459.7L478.2,460.7L479.0,465.2L479.8,465.7L480.6,465.5L481.4,461.9L482.2,462.8L483.0,459.5L483.8,464.0L484.6,458.4L485.4,461.4L486.2,461.1L487.0,456.7L487.8,459.0L488.6,460.7L489.4,460.8L490.2,462.8L491.0,465.0L491.8,458.2L492.6,457.1L493.4,456.2L494.2,463.1L495.0,466.1L495.8,452.1L496.6,466.1L497.4,462.4L498.2,462.7L499.0,467.6L499.8,466.5L500.6,463.9L501.4,459.8L502.2,466.9L503.0,466.2L503.8,462.1L504.6,458.9L505.4,464.7L506.2,465.4L507.0,458.6L507.8,466.8L508.6,466.8L509.4,467.1L510.2,460.9L511.0,464.9L511.8,454.4L512.6,457.5L513.4,449.6L514.2,466.8L515.0,458.8L515.8,458.5L516.6,460.5L517.4,458.1L518.2,458.2L519.0,461.6L519.8,458.6L520.6,462.1L521.4,459.2L522.2,460.2L523.0,461.5L523.8,463.4L524.6,466.6L525.4,465.8L526.2,468.1L527.0,465.6L527.8,467.5L528.6,468.2L529.4,463.4L530.2,468.3L531.0,466.0L531.8,464.5L532.6,463.6L533.4,458.9L534.2,456.7L535.0,455.9L535.8,456.9L536.6,458.0L537.4,459.3L538.2,459.4L539.0,464.0L539.8,466.3L540.6,467.6L541.4,468.3L542.2,466.8L543.0,468.2L543.8,471.2L544.6,471.1L545.4,467.9L546.2,467.9L547.0,466.5L547.8,470.3L548.6,467.6L549.4,469.0L550.2,468.9L551.0,465.8L551.8,469.3L552.6,469.4L553.4,466.0L554.2,465.8L555.0,469.7L555.8,468.6L556.6,468.2L557.4,465.6L558.2,467.2L559.0,469.2L559.8,463.9L560.6,466.9L561.4,466.6L562.2,462.9L563.0,466.6L563.8,462.1L564.6,461.3L565.4,462.8L566.2,466.0L567.0,465.5L567.8,471.1L568.6,467.9L569.4,465.3L570.2,468.0L571.0,465.3L571.8,464.4L572.6,465.8L573.4,468.9L574.2,469.0L575.0,468.7L575.8,462.7L576.6,464.0L577.4,465.5L578.2,462.5L579.0,466.8L579.8,462.5L580.6,467.9L581.4,461.6L582.2,463.4L583.0,463.0L583.8,465.0L584.6,463.9L585.4,459.5L586.2,459.5L587.0,462.4L587.8,463.3L588.6,465.6L589.4,465.4L590.2,459.6L591.0,463.7L591.8,463.2L592.6,460.1L593.4,460.2L594.2,467.1L595.0,460.7L595.8,467.4L596.6,462.9L597.4,464.9L598.2,465.9L599.0,465.1L599.8,468.3L600.6,465.7L601.4,465.9L602.2,466.6L603.0,466.9L603.8,467.9L604.6,462.7L605.4,464.1L606.2,465.4L607.0,469.0L607.8,463.0L608.6,466.1L609.4,468.0L610.2,469.4L611.0,466.2L611.8,467.6L612.6,471.8L613.4,471.2L614.2,472.3L615.0,471.6L615.8,465.7L616.6,471.1L617.4,462.2L618.2,468.3L619.0,470.0L619.8,465.0L620.6,462.0L621.4,466.3L622.2,462.9L623.0,472.3L623.8,472.5L624.6,470.7L625.4,466.0L626.2,467.8L627.0,467.5L627.8,473.0L628.6,470.3L629.4,465.7L630.2,462.7L631.0,457.2L631.8,467.4L632.6,466.4L633.4,466.9L634.2,473.6L635.0,473.7L635.8,463.6L636.6,458.0L637.4,454.6L638.2,467.0L639.0,471.2L639.8,468.6L640.6,466.0L641.4,473.2L642.2,469.1L643.0,473.0L643.8,473.0L644.6,468.7L645.4,472.2L646.2,472.7L647.0,468.8L647.8,472.0L648.6,468.7L649.4,469.2L650.2,466.2L651.0,466.3L651.8,468.2L652.6,463.6L653.4,463.5L654.2,467.3L655.0,468.4L655.8,463.8L656.6,463.2L657.4,463.4L658.2,467.2L659.0,463.0L659.8,467.2L660.6,468.8L661.4,469.9L662.2,469.5L663.0,474.3L663.8,467.1L664.6,466.6L665.4,469.1L666.2,464.8L667.0,465.8L667.8,462.2L668.6,474.7L669.4,473.1L670.2,472.7L671.0,469.3L671.8,475.3L672.6,471.3L673.4,472.2L674.2,470.9L675.0,469.5L675.8,468.2L676.6,472.8L677.4,471.9L678.2,473.7L679.0,469.5L679.8,472.7L680.6,467.6L681.4,469.9L682.2,473.0L683.0,470.6L683.8,470.5L684.6,473.4L685.4,469.6L686.2,466.0L687.0,470.7L687.8,466.4L688.6,464.7L689.4,470.8L690.2,472.5L691.0,470.5L691.8,473.0L692.6,468.3L693.4,469.0L694.2,468.1L695.0,470.0L695.8,471.8L696.6,469.8L697.4,470.7L698.2,470.1L699.0,467.6L699.8,474.7L700.6,467.8L701.4,465.4L702.2,467.3L703.0,469.3L703.8,470.0L704.6,467.3L705.4,468.1L706.2,469.6L707.0,471.0L707.8,474.6L708.6,471.1L709.4,469.6L710.2,472.1L711.0,468.1L711.8,467.2L712.6,468.1L713.4,472.0L714.2,470.3L715.0,475.7L715.8,471.0L716.6,474.8L717.4,469.1L718.2,466.0L719.0,470.1L719.8,471.0L720.6,472.4L721.4,465.1L722.2,469.4L723.0,468.4L723.8,463.4L724.6,464.0L725.4,472.2L726.2,476.1L727.0,472.3L727.8,475.2L728.6,474.5L729.4,471.8L730.2,475.9L731.0,472.1L731.8,474.9L732.6,467.5L733.4,474.3L734.2,471.3L735.0,474.8L735.8,472.2L736.6,473.9L737.4,470.3L738.2,467.6L739.0,474.7L739.8,471.5L740.6,465.4L741.4,468.8L742.2,464.8L743.0,468.1L743.8,469.5L744.6,472.1L745.4,469.5L746.2,466.7L747.0,470.5L747.8,471.0L748.6,473.0L749.4,466.2L750.2,469.3L751.0,471.8L751.8,472.6L752.6,473.0L753.4,473.4L754.2,465.9L755.0,465.9L755.8,469.7L756.6,473.9L757.4,474.5L758.2,470.6L759.0,473.9L759.8,472.2L760.6,472.9L761.4,469.0L762.2,472.4L763.0,472.7L763.8,472.5L764.6,471.3L765.4,475.0L766.2,471.9L767.0,466.1L767.8,468.8L768.6,467.2L769.4,466.3L770.2,469.1L771.0,470.1L771.8,467.3L772.6,466.5L773.4,470.3L774.2,469.4L775.0,469.3L775.8,470.8L776.6,476.2L777.4,473.2L778.2,476.1L779.0,471.4L779.8,466.7L780.6,472.7L781.4,476.2L782.2,471.0L783.0,470.3L783.8,476.1L784.6,470.4L785.4,476.0L786.2,470.2L787.0,470.2L787.8,469.3L788.6,467.7L789.4,471.2L790.2,465.6L791.0,466.0L791.8,468.8L792.6,466.9L793.4,474.5L794.2,469.3L795.0,471.6L795.8,473.9L796.6,475.5L797.4,475.2L798.2,475.4L799.0,473.3L799.8,466.4L800.6,465.5L801.4,465.9L802.2,465.8L803.0,469.1L803.8,465.9L804.6,467.5L805.4,472.6L806.2,472.9L807.0,471.7L807.8,466.9L808.6,470.2" fill="none" stroke="#000" stroke-width="4.2" stroke-linejoin="round" stroke-linecap="round"/>
<path d="M231.0,130.1L231.8,218.0L232.6,264.2L233.4,268.2L234.2,274.0L235.0,278.4L235.8,283.1L236.6,287.1L237.4,292.4L238.2,297.2L239.0,301.9L239.8,318.4L240.6,335.2L241.4,336.6L242.2,337.3L243.0,337.6L243.8,336.8L244.6,337.8L245.4,337.1L246.2,338.6L247.0,338.8L247.8,338.9L248.6,338.3L249.4,348.7L250.2,370.9L251.0,373.7L251.8,377.6L252.6,381.6L253.4,384.7L254.2,386.3L255.0,385.8L255.8,386.7L256.6,384.3L257.4,382.8L258.2,380.7L259.0,377.6L259.8,372.9L260.6,370.0L261.4,366.9L262.2,368.7L263.0,371.2L263.8,370.9L264.6,371.9L265.4,373.8L266.2,375.4L267.0,375.2L267.8,377.4L268.6,377.9L269.4,378.7L270.2,380.7L271.0,382.5L271.8,383.9L272.6,385.1L273.4,385.7L274.2,386.9L275.0,387.2L275.8,386.8L276.6,388.6L277.4,391.7L278.2,395.9L279.0,398.8L279.8,401.1L280.6,403.6L281.4,403.3L282.2,403.0L283.0,403.6L283.8,403.8L284.6,403.1L285.4,403.9L286.2,403.3L287.0,403.8L287.8,403.5L288.6,404.7L289.4,403.5L290.2,402.2L291.0,402.3L291.8,401.1L292.6,400.8L293.4,400.5L294.2,398.8L295.0,397.7L295.8,397.6L296.6,395.3L297.4,395.1L298.2,392.6L299.0,393.3L299.8,394.1L300.6,396.5L301.4,397.6L302.2,399.2L303.0,401.7L303.8,403.5L304.6,404.0L305.4,404.0L306.2,405.9L307.0,406.4L307.8,406.2L308.6,408.4L309.4,408.2L310.2,409.7L311.0,410.5L311.8,410.4L312.6,410.1L313.4,409.4L314.2,408.5L315.0,407.8L315.8,407.7L316.6,407.7L317.4,407.1L318.2,412.9L319.0,421.2L319.8,433.1L320.6,441.3L321.4,443.0L322.2,444.1L323.0,443.2L323.8,443.3L324.6,442.8L325.4,443.1L326.2,443.6L327.0,443.9L327.8,443.1L328.6,444.0L329.4,445.1L330.2,445.9L331.0,447.0L331.8,448.7L332.6,449.8L333.4,450.3L334.2,452.0L335.0,452.0L335.8,453.4L336.6,453.3L337.4,453.9L338.2,455.3L339.0,454.5L339.8,455.1L340.6,456.2L341.4,457.2L342.2,456.7L343.0,458.0L343.8,458.6L344.6,458.4L345.4,459.5L346.2,458.6L347.0,458.1L347.8,457.9L348.6,458.5L349.4,458.5L350.2,457.7L351.0,457.8L351.8,457.7L352.6,456.9L353.4,456.2L354.2,457.3L355.0,456.9L355.8,456.9L356.6,457.3L357.4,456.6L358.2,456.8L359.0,457.3L359.8,458.3L360.6,458.6L361.4,458.0L362.2,457.7L363.0,458.6L363.8,459.5L364.6,460.1L365.4,459.8L366.2,460.4L367.0,460.8L367.8,460.3L368.6,460.9L369.4,461.8L370.2,462.0L371.0,462.1L371.8,462.8L372.6,463.2L373.4,464.1L374.2,464.4L375.0,463.8L375.8,464.4L376.6,465.4L377.4,465.7L378.2,464.8L379.0,466.0L379.8,465.6L380.6,465.8L381.4,464.6L382.2,464.9L383.0,464.6L383.8,464.4L384.6,464.2L385.4,463.5L386.2,463.3L387.0,464.0L387.8,463.3L388.6,464.4L389.4,464.0L390.2,464.6L391.0,464.1L391.8,465.4L392.6,465.2L393.4,466.3L394.2,466.5L395.0,466.1L395.8,466.8L396.6,467.1L397.4,466.4L398.2,467.0L399.0,466.7L399.8,466.0L400.6,465.8L401.4,465.9L402.2,465.7L403.0,466.6L403.8,466.4L404.6,465.7L405.4,465.9L406.2,466.4L407.0,465.7L407.8,465.7L408.6,465.5L409.4,465.2L410.2,466.2L411.0,465.9L411.8,465.6L412.6,466.2L413.4,466.5L414.2,466.2L415.0,467.0L415.8,467.2L416.6,466.9L417.4,467.4L418.2,466.8L419.0,466.7L419.8,467.2L420.6,466.4L421.4,469.1L422.2,470.5L423.0,473.9L423.8,476.7L424.6,480.1L425.4,483.5L426.2,485.8L427.0,486.6L427.8,486.7L428.6,486.8L429.4,486.6L430.2,485.9L431.0,485.3L431.8,484.8L432.6,484.2L433.4,483.7L434.2,483.3L435.0,483.3L435.8,483.3L436.6,483.3L437.4,483.3L438.2,483.3L439.0,483.3L439.8,483.3L440.6,483.3L441.4,483.3L442.2,483.3L443.0,483.3L443.8,483.3L444.6,483.3L445.4,483.3L446.2,483.3L447.0,483.3L447.8,483.3L448.6,483.3L449.4,483.3L450.2,483.3L451.0,483.3L451.8,483.3L452.6,483.3L453.4,483.3L454.2,483.3L455.0,483.3L455.8,483.3L456.6,483.3L457.4,483.3L458.2,485.7L459.0,488.3L459.8,490.0L460.6,490.4L461.4,490.4L462.2,490.4L463.0,490.4L463.8,490.4L464.6,490.4L465.4,490.4L466.2,490.4L467.0,490.4L467.8,490.4L468.6,490.4L469.4,490.4L470.2,490.4L471.0,490.4L471.8,490.4L472.6,490.4L473.4,490.4L474.2,490.4L475.0,490.4L475.8,490.4L476.6,490.4L477.4,490.4L478.2,490.4L479.0,490.4L479.8,490.4L480.6,490.4L481.4,490.4L482.2,490.4L483.0,490.4L483.8,490.4L484.6,490.4L485.4,490.4L486.2,490.4L487.0,490.4L487.8,490.4L488.6,490.4L489.4,490.4L490.2,490.4L491.0,490.8L491.8,491.7L492.6,492.3L493.4,493.0L494.2,493.3L495.0,493.3L495.8,493.2L496.6,493.2L497.4,493.2L498.2,493.2L499.0,493.2L499.8,493.2L500.6,493.2L501.4,493.1L502.2,493.1L503.0,493.1L503.8,493.1L504.6,493.1L505.4,493.1L506.2,493.0L507.0,493.0L507.8,493.0L508.6,493.0L509.4,493.0L510.2,493.0L511.0,493.0L511.8,492.9L512.6,492.9L513.4,492.9L514.2,492.9L515.0,492.9L515.8,492.9L516.6,492.8L517.4,492.8L518.2,492.8L519.0,492.8L519.8,492.8L520.6,492.8L521.4,492.8L522.2,493.1L523.0,493.6L523.8,494.1L524.6,494.7L525.4,495.1L526.2,495.2L527.0,495.2L527.8,495.2L528.6,495.2L529.4,495.2L530.2,495.3L531.0,495.3L531.8,495.3L532.6,495.3L533.4,495.3L534.2,495.3L535.0,495.4L535.8,495.4L536.6,495.4L537.4,495.4L538.2,495.4L539.0,495.4L539.8,495.4L540.6,495.5L541.4,495.5L542.2,495.5L543.0,495.5L543.8,495.5L544.6,495.5L545.4,495.6L546.2,495.6L547.0,495.6L547.8,495.6L548.6,495.6L549.4,495.6L550.2,495.7L551.0,495.7L551.8,495.7L552.6,495.7L553.4,495.7L554.2,495.7L555.0,495.8L555.8,495.8L556.6,495.8L557.4,495.8L558.2,495.8L559.0,495.8L559.8,495.9L560.6,495.9L561.4,495.9L562.2,495.9L563.0,495.9L563.8,495.9L564.6,496.0L565.4,496.0L566.2,496.0L567.0,496.0L567.8,496.0L568.6,496.0L569.4,496.0L570.2,496.0L571.0,496.0L571.8,496.0L572.6,496.0L573.4,495.9L574.2,495.9L575.0,495.9L575.8,495.9L576.6,495.9L577.4,495.8L578.2,495.8L579.0,495.8L579.8,495.8L580.6,495.8L581.4,495.7L582.2,495.7L583.0,495.7L583.8,495.7L584.6,495.7L585.4,495.6L586.2,495.6L587.0,495.6L587.8,495.6L588.6,495.6L589.4,495.5L590.2,495.5L591.0,495.5L591.8,495.5L592.6,495.5L593.4,495.4L594.2,495.4L595.0,495.4L595.8,495.4L596.6,495.4L597.4,495.3L598.2,495.3L599.0,495.3L599.8,495.3L600.6,495.3L601.4,495.3L602.2,495.3L603.0,495.4L603.8,495.4L604.6,495.4L605.4,495.4L606.2,495.4L607.0,495.5L607.8,495.5L608.6,495.5L609.4,495.5L610.2,495.5L611.0,495.5L611.8,495.6L612.6,495.6L613.4,495.6L614.2,495.6L615.0,495.6L615.8,495.7L616.6,495.7L617.4,495.7L618.2,495.7L619.0,495.7L619.8,495.7L620.6,495.8L621.4,495.8L622.2,495.8L623.0,495.8L623.8,495.8L624.6,495.9L625.4,495.9L626.2,495.9L627.0,495.9L627.8,495.9L628.6,495.9L629.4,496.0L630.2,496.0L631.0,496.0L631.8,496.0L632.6,496.0L633.4,496.1L634.2,496.1L635.0,496.1L635.8,496.1L636.6,496.1L637.4,496.1L638.2,496.2L639.0,496.2L639.8,496.6L640.6,496.9L641.4,497.0L642.2,497.0L643.0,497.0L643.8,497.0L644.6,497.0L645.4,497.0L646.2,497.0L647.0,497.0L647.8,497.0L648.6,497.0L649.4,497.0L650.2,497.0L651.0,497.0L651.8,497.0L652.6,497.0L653.4,497.0L654.2,497.0L655.0,497.0L655.8,497.0L656.6,497.0L657.4,497.0L658.2,497.0L659.0,497.0L659.8,497.0L660.6,497.0L661.4,497.0L662.2,497.0L663.0,497.0L663.8,497.0L664.6,497.0L665.4,497.0L666.2,497.0L667.0,497.0L667.8,497.0L668.6,497.1L669.4,497.1L670.2,497.1L671.0,497.1L671.8,497.1L672.6,497.1L673.4,497.1L674.2,497.1L675.0,497.1L675.8,497.1L676.6,497.1L677.4,497.1L678.2,497.1L679.0,497.1L679.8,497.1L680.6,497.1L681.4,497.1L682.2,497.1L683.0,497.1L683.8,497.1L684.6,497.1L685.4,497.1L686.2,497.1L687.0,497.1L687.8,497.1L688.6,497.1L689.4,497.1L690.2,497.1L691.0,497.1L691.8,497.1L692.6,497.1L693.4,497.1L694.2,497.1L695.0,497.1L695.8,497.1L696.6,497.1L697.4,497.1L698.2,497.1L699.0,497.1L699.8,497.1L700.6,497.1L701.4,497.1L702.2,497.1L703.0,497.1L703.8,497.1L704.6,497.1L705.4,497.1L706.2,497.1L707.0,497.1L707.8,497.1L708.6,497.1L709.4,497.1L710.2,497.1L711.0,497.1L711.8,497.1L712.6,497.1L713.4,497.1L714.2,497.1L715.0,497.1L715.8,497.1L716.6,497.1L717.4,497.1L718.2,497.1L719.0,497.1L719.8,497.1L720.6,497.1L721.4,497.1L722.2,497.1L723.0,497.1L723.8,497.1L724.6,497.1L725.4,497.2L726.2,497.2L727.0,497.2L727.8,497.2L728.6,497.2L729.4,497.2L730.2,497.2L731.0,497.2L731.8,497.2L732.6,497.2L733.4,497.2L734.2,497.2L735.0,497.2L735.8,497.2L736.6,497.2L737.4,497.2L738.2,497.2L739.0,497.2L739.8,497.2L740.6,497.2L741.4,497.2L742.2,497.2L743.0,497.2L743.8,497.2L744.6,497.2L745.4,497.2L746.2,497.2L747.0,497.2L747.8,497.2L748.6,497.2L749.4,497.2L750.2,497.2L751.0,497.2L751.8,497.2L752.6,497.2L753.4,497.2L754.2,497.2L755.0,497.2L755.8,497.2L756.6,497.2L757.4,497.2L758.2,497.2L759.0,497.2L759.8,497.2L760.6,497.2L761.4,497.2L762.2,497.2L763.0,497.2L763.8,497.2L764.6,497.2L765.4,497.2L766.2,497.2L767.0,497.2L767.8,497.2L768.6,497.2L769.4,497.2L770.2,497.2L771.0,497.2L771.8,497.2L772.6,497.2L773.4,497.2L774.2,497.2L775.0,497.2L775.8,497.2L776.6,497.2L777.4,497.2L778.2,497.2L779.0,497.2L779.8,497.2L780.6,497.2L781.4,497.2L782.2,497.3L783.0,497.3L783.8,497.3L784.6,497.3L785.4,497.3L786.2,497.3L787.0,497.3L787.8,497.3L788.6,497.3L789.4,497.3L790.2,497.3L791.0,497.3L791.8,497.3L792.6,497.3L793.4,497.3L794.2,497.3L795.0,497.3L795.8,497.3L796.6,497.3L797.4,497.3L798.2,497.3L799.0,497.3L799.8,497.3L800.6,497.3L801.4,497.3L802.2,497.3L803.0,497.3L803.8,497.3L804.6,497.3L805.4,497.3L806.2,497.3L807.0,497.3L807.8,497.3L808.6,497.3L808.6,497.3L807.8,497.3L807.0,497.3L806.2,497.3L805.4,497.3L804.6,497.3L803.8,497.3L803.0,497.3L802.2,497.3L801.4,497.3L800.6,497.3L799.8,497.3L799.0,497.3L798.2,497.3L797.4,497.3L796.6,497.3L795.8,497.3L795.0,497.3L794.2,497.3L793.4,497.3L792.6,497.3L791.8,497.3L791.0,497.3L790.2,497.3L789.4,497.3L788.6,497.3L787.8,497.3L787.0,497.3L786.2,497.3L785.4,497.3L784.6,497.3L783.8,497.3L783.0,497.3L782.2,497.3L781.4,497.2L780.6,497.2L779.8,497.2L779.0,497.2L778.2,497.2L777.4,497.2L776.6,497.2L775.8,497.2L775.0,497.2L774.2,497.2L773.4,497.2L772.6,497.2L771.8,497.2L771.0,497.2L770.2,497.2L769.4,497.2L768.6,497.2L767.8,497.2L767.0,497.2L766.2,497.2L765.4,497.2L764.6,497.2L763.8,497.2L763.0,497.2L762.2,497.2L761.4,497.2L760.6,497.2L759.8,497.2L759.0,497.2L758.2,497.2L757.4,497.2L756.6,497.2L755.8,497.2L755.0,497.2L754.2,497.2L753.4,497.2L752.6,497.2L751.8,497.2L751.0,497.2L750.2,497.2L749.4,497.2L748.6,497.2L747.8,497.2L747.0,497.2L746.2,497.2L745.4,497.2L744.6,497.2L743.8,497.2L743.0,497.2L742.2,497.2L741.4,497.2L740.6,497.2L739.8,497.2L739.0,497.2L738.2,497.2L737.4,497.2L736.6,497.2L735.8,497.2L735.0,497.2L734.2,497.2L733.4,497.2L732.6,497.2L731.8,497.2L731.0,497.2L730.2,497.2L729.4,497.2L728.6,497.2L727.8,497.2L727.0,497.2L726.2,497.2L725.4,497.2L724.6,497.1L723.8,497.1L723.0,497.1L722.2,497.1L721.4,497.1L720.6,497.1L719.8,497.1L719.0,497.1L718.2,497.1L717.4,497.1L716.6,497.1L715.8,497.1L715.0,497.1L714.2,497.1L713.4,497.1L712.6,497.1L711.8,497.1L711.0,497.1L710.2,497.1L709.4,497.1L708.6,497.1L707.8,497.1L707.0,497.1L706.2,497.1L705.4,497.1L704.6,497.1L703.8,497.1L703.0,497.1L702.2,497.1L701.4,497.1L700.6,497.1L699.8,497.1L699.0,497.1L698.2,497.1L697.4,497.1L696.6,497.1L695.8,497.1L695.0,497.1L694.2,497.1L693.4,497.1L692.6,497.1L691.8,497.1L691.0,497.1L690.2,497.1L689.4,497.1L688.6,497.1L687.8,497.1L687.0,497.1L686.2,497.1L685.4,497.1L684.6,497.1L683.8,497.1L683.0,497.1L682.2,497.1L681.4,497.1L680.6,497.1L679.8,497.1L679.0,497.1L678.2,497.1L677.4,497.1L676.6,497.1L675.8,497.1L675.0,497.1L674.2,497.1L673.4,497.1L672.6,497.1L671.8,497.1L671.0,497.1L670.2,497.1L669.4,497.1L668.6,497.1L667.8,497.0L667.0,497.0L666.2,497.0L665.4,497.0L664.6,497.0L663.8,497.0L663.0,497.0L662.2,497.0L661.4,497.0L660.6,497.0L659.8,497.0L659.0,497.0L658.2,497.0L657.4,497.0L656.6,497.0L655.8,497.0L655.0,497.0L654.2,497.0L653.4,497.0L652.6,497.0L651.8,497.0L651.0,497.0L650.2,497.0L649.4,497.0L648.6,497.0L647.8,497.0L647.0,497.0L646.2,497.0L645.4,497.0L644.6,497.0L643.8,497.0L643.0,497.0L642.2,497.0L641.4,497.0L640.6,496.9L639.8,496.6L639.0,496.2L638.2,496.2L637.4,496.1L636.6,496.1L635.8,496.1L635.0,496.1L634.2,496.1L633.4,496.1L632.6,496.0L631.8,496.0L631.0,496.0L630.2,496.0L629.4,496.0L628.6,495.9L627.8,495.9L627.0,495.9L626.2,495.9L625.4,495.9L624.6,495.9L623.8,495.8L623.0,495.8L622.2,495.8L621.4,495.8L620.6,495.8L619.8,495.7L619.0,495.7L618.2,495.7L617.4,495.7L616.6,495.7L615.8,495.7L615.0,495.6L614.2,495.6L613.4,495.6L612.6,495.6L611.8,495.6L611.0,495.5L610.2,495.5L609.4,495.5L608.6,495.5L607.8,495.5L607.0,495.5L606.2,495.4L605.4,495.4L604.6,495.4L603.8,495.4L603.0,495.4L602.2,495.3L601.4,495.3L600.6,495.3L599.8,495.3L599.0,495.3L598.2,495.3L597.4,495.3L596.6,495.4L595.8,495.4L595.0,495.4L594.2,495.4L593.4,495.4L592.6,495.5L591.8,495.5L591.0,495.5L590.2,495.5L589.4,495.5L588.6,495.6L587.8,495.6L587.0,495.6L586.2,495.6L585.4,495.6L584.6,495.7L583.8,495.7L583.0,495.7L582.2,495.7L581.4,495.7L580.6,495.8L579.8,495.8L579.0,495.8L578.2,495.8L577.4,495.8L576.6,495.9L575.8,495.9L575.0,495.9L574.2,495.9L573.4,495.9L572.6,496.0L571.8,496.0L571.0,496.0L570.2,496.0L569.4,496.0L568.6,496.0L567.8,496.0L567.0,496.0L566.2,496.0L565.4,496.0L564.6,496.0L563.8,495.9L563.0,495.9L562.2,495.9L561.4,495.9L560.6,495.9L559.8,495.9L559.0,495.8L558.2,495.8L557.4,495.8L556.6,495.8L555.8,495.8L555.0,495.8L554.2,495.7L553.4,495.7L552.6,495.7L551.8,495.7L551.0,495.7L550.2,495.7L549.4,495.6L548.6,495.6L547.8,495.6L547.0,495.6L546.2,495.6L545.4,495.6L544.6,495.5L543.8,495.5L543.0,495.5L542.2,495.5L541.4,495.5L540.6,495.5L539.8,495.4L539.0,495.4L538.2,495.4L537.4,495.4L536.6,495.4L535.8,495.4L535.0,495.4L534.2,495.3L533.4,495.3L532.6,495.3L531.8,495.3L531.0,495.3L530.2,495.3L529.4,495.2L528.6,495.2L527.8,495.2L527.0,495.2L526.2,495.2L525.4,495.1L524.6,494.7L523.8,494.1L523.0,493.6L522.2,493.1L521.4,492.8L520.6,492.8L519.8,492.8L519.0,492.8L518.2,492.8L517.4,492.8L516.6,492.8L515.8,492.9L515.0,492.9L514.2,492.9L513.4,492.9L512.6,492.9L511.8,492.9L511.0,493.0L510.2,493.0L509.4,493.0L508.6,493.0L507.8,493.0L507.0,493.0L506.2,493.0L505.4,493.1L504.6,493.1L503.8,493.1L503.0,493.1L502.2,493.1L501.4,493.1L500.6,493.2L499.8,493.2L499.0,493.2L498.2,493.2L497.4,493.2L496.6,493.2L495.8,493.2L495.0,493.3L494.2,493.3L493.4,493.0L492.6,492.3L491.8,491.7L491.0,490.8L490.2,490.4L489.4,490.4L488.6,490.4L487.8,490.4L487.0,490.4L486.2,490.4L485.4,490.4L484.6,490.4L483.8,490.4L483.0,490.4L482.2,490.4L481.4,490.4L480.6,490.4L479.8,490.4L479.0,490.4L478.2,490.4L477.4,490.4L476.6,490.4L475.8,490.4L475.0,490.4L474.2,490.4L473.4,490.4L472.6,490.4L471.8,490.4L471.0,490.4L470.2,490.4L469.4,490.4L468.6,490.4L467.8,490.4L467.0,490.4L466.2,490.4L465.4,490.4L464.6,490.4L463.8,490.4L463.0,490.4L462.2,490.4L461.4,490.4L460.6,490.4L459.8,490.0L459.0,488.3L458.2,485.7L457.4,483.3L456.6,483.3L455.8,483.3L455.0,483.3L454.2,483.3L453.4,483.3L452.6,483.3L451.8,483.3L451.0,483.3L450.2,483.3L449.4,483.3L448.6,483.3L447.8,483.3L447.0,483.3L446.2,483.3L445.4,483.3L444.6,483.3L443.8,483.3L443.0,483.3L442.2,483.3L441.4,483.3L440.6,483.3L439.8,483.3L439.0,483.3L438.2,483.3L437.4,483.3L436.6,483.3L435.8,483.3L435.0,483.3L434.2,483.3L433.4,483.7L432.6,484.2L431.8,484.8L431.0,485.3L430.2,485.9L429.4,486.6L428.6,486.8L427.8,486.7L427.0,486.6L426.2,485.8L425.4,483.5L424.6,480.1L423.8,476.7L423.0,473.9L422.2,472.1L421.4,472.9L420.6,472.7L419.8,472.8L419.0,471.9L418.2,472.9L417.4,472.1L416.6,471.9L415.8,471.3L415.0,472.4L414.2,471.7L413.4,472.0L412.6,471.1L411.8,471.6L411.0,470.9L410.2,470.8L409.4,470.8L408.6,471.4L407.8,471.2L407.0,472.2L406.2,471.0L405.4,471.6L404.6,471.4L403.8,472.4L403.0,471.8L402.2,472.8L401.4,471.8L400.6,471.8L399.8,473.1L399.0,473.0L398.2,472.0L397.4,472.7L396.6,472.4L395.8,472.6L395.0,473.3L394.2,472.8L393.4,473.3L392.6,472.8L391.8,473.0L391.0,472.0L390.2,472.4L389.4,472.2L388.6,471.9L387.8,471.8L387.0,471.8L386.2,472.4L385.4,472.5L384.6,472.0L383.8,471.9L383.0,472.0L382.2,471.8L381.4,472.9L380.6,472.4L379.8,472.5L379.0,471.8L378.2,471.1L377.4,471.8L376.6,470.6L375.8,471.1L375.0,470.8L374.2,470.3L373.4,469.7L372.6,469.6L371.8,469.9L371.0,468.7L370.2,468.9L369.4,469.2L368.6,468.1L367.8,468.6L367.0,468.4L366.2,467.2L365.4,467.3L364.6,466.1L363.8,467.0L363.0,465.7L362.2,466.3L361.4,466.9L360.6,465.7L359.8,466.7L359.0,467.0L358.2,465.7L357.4,466.0L356.6,465.8L355.8,467.1L355.0,466.5L354.2,467.0L353.4,466.9L352.6,467.0L351.8,467.3L351.0,467.5L350.2,467.3L349.4,466.9L348.6,466.6L347.8,466.6L347.0,465.5L346.2,464.3L345.4,463.6L344.6,464.0L343.8,461.9L343.0,462.1L342.2,461.6L341.4,460.1L340.6,459.7L339.8,459.5L339.0,457.8L338.2,457.4L337.4,456.2L336.6,455.5L335.8,456.1L335.0,454.5L334.2,453.9L333.4,452.8L332.6,452.1L331.8,453.1L331.0,453.0L330.2,451.8L329.4,452.9L328.6,452.5L327.8,452.4L327.0,452.9L326.2,452.6L325.4,451.7L324.6,451.1L323.8,450.0L323.0,449.0L322.2,448.5L321.4,445.9L320.6,441.3L319.8,433.1L319.0,430.1L318.2,430.0L317.4,429.2L316.6,428.8L315.8,427.8L315.0,427.6L314.2,426.9L313.4,426.4L312.6,426.3L311.8,425.1L311.0,424.8L310.2,425.7L309.4,425.0L308.6,425.5L307.8,424.2L307.0,424.1L306.2,424.8L305.4,423.8L304.6,424.0L303.8,423.4L303.0,422.8L302.2,423.0L301.4,422.2L300.6,420.0L299.8,419.5L299.0,419.7L298.2,418.2L297.4,418.8L296.6,418.6L295.8,419.9L295.0,420.0L294.2,420.0L293.4,420.5L292.6,423.2L291.8,424.6L291.0,426.3L290.2,426.6L289.4,426.0L288.6,426.0L287.8,424.2L287.0,424.4L286.2,423.3L285.4,422.4L284.6,420.7L283.8,420.7L283.0,419.3L282.2,417.7L281.4,417.6L280.6,416.1L279.8,415.7L279.0,414.0L278.2,413.5L277.4,413.9L276.6,414.0L275.8,413.0L275.0,413.0L274.2,413.3L273.4,412.5L272.6,413.5L271.8,412.6L271.0,413.0L270.2,412.4L269.4,413.1L268.6,411.0L267.8,411.3L267.0,409.5L266.2,409.9L265.4,408.0L264.6,408.1L263.8,406.2L263.0,405.3L262.2,405.5L261.4,404.6L260.6,404.8L259.8,404.3L259.0,405.2L258.2,406.7L257.4,408.0L256.6,408.9L255.8,408.8L255.0,410.4L254.2,410.7L253.4,412.8L252.6,412.3L251.8,408.1L251.0,402.1L250.2,398.4L249.4,397.1L248.6,396.9L247.8,395.8L247.0,395.1L246.2,394.8L245.4,394.4L244.6,394.7L243.8,394.3L243.0,393.4L242.2,391.4L241.4,388.3L240.6,386.9L239.8,383.6L239.0,380.7L238.2,376.6L237.4,374.0L236.6,370.3L235.8,366.6L235.0,362.9L234.2,359.7L233.4,355.7L232.6,351.6L231.8,346.6L231.0,324.7Z" fill="#ff0000" stroke="#ff0000" stroke-width="1.5" stroke-linejoin="round"/>
<path d="M228.3,-10.0L228.6,140.0L229.7,255.0L230.8,275.0L231.0,127.5L231.8,339.7L232.6,266.4L233.4,358.0L234.2,287.0L235.0,363.1L235.8,328.5L236.6,284.9L237.4,376.5L238.2,376.7L239.0,302.8L239.8,315.9L240.6,355.4L241.4,338.3L242.2,347.9L243.0,374.9L243.8,390.0L244.6,347.3L245.4,397.4L246.2,397.9L247.0,353.9L247.8,394.8L248.6,352.0L249.4,345.2L250.2,372.9L251.0,382.2L251.8,403.7L252.6,395.0L253.4,412.3L254.2,396.2L255.0,387.2L255.8,397.2L256.6,385.0L257.4,379.5L258.2,409.3L259.0,404.1L259.8,407.6L260.6,360.7L261.4,397.9L262.2,407.9L263.0,400.5L263.8,369.5L264.6,400.7L265.4,411.1L266.2,411.3L267.0,409.1L267.8,405.8L268.6,410.5L269.4,404.1L270.2,405.5L271.0,379.3L271.8,380.6L272.6,385.5L273.4,383.0L274.2,394.2L275.0,383.9L275.8,394.3L276.6,415.8L277.4,406.2L278.2,392.5L279.0,407.0L279.8,418.1L280.6,411.8L281.4,420.0L282.2,409.1L283.0,403.7L283.8,405.0L284.6,400.9L285.4,416.1L286.2,425.9L287.0,401.3L287.8,426.2L288.6,420.1L289.4,428.9L290.2,423.8L291.0,427.7L291.8,427.5L292.6,400.6L293.4,404.5L294.2,400.3L295.0,418.0L295.8,422.4L296.6,422.0L297.4,397.1L298.2,421.6L299.0,388.6L299.8,416.9L300.6,397.6L301.4,400.8L302.2,425.1L303.0,420.0L303.8,422.7L304.6,414.5L305.4,412.6L306.2,409.2L307.0,413.9L307.8,405.8L308.6,412.9L309.4,422.2L310.2,418.6L311.0,421.1L311.8,424.2L312.6,427.1L313.4,418.0L314.2,409.6L315.0,409.9L315.8,425.5L316.6,420.9L317.4,418.1L318.2,417.5L319.0,428.9L319.8,432.7L320.6,442.0L321.4,448.5L322.2,447.3L323.0,450.0L323.8,448.9L324.6,447.1L325.4,446.6L326.2,440.6L327.0,451.3L327.8,452.6L328.6,443.3L329.4,455.3L330.2,450.3L331.0,455.3L331.8,451.1L332.6,447.1L333.4,449.0L334.2,456.9L335.0,453.8L335.8,454.9L336.6,458.2L337.4,456.1L338.2,460.4L339.0,460.7L339.8,457.8L340.6,457.5L341.4,454.0L342.2,458.1L343.0,457.6L343.8,456.9L344.6,456.1L345.4,466.7L346.2,461.5L347.0,462.0L347.8,463.1L348.6,460.8L349.4,466.4L350.2,468.2L351.0,459.9L351.8,454.5L352.6,462.5L353.4,466.2L354.2,454.9L355.0,455.3L355.8,461.1L356.6,454.4L357.4,461.2L358.2,460.7L359.0,457.2L359.8,457.3L360.6,455.7L361.4,463.1L362.2,462.6L363.0,457.8L363.8,469.3L364.6,456.7L365.4,459.7L366.2,465.1L367.0,459.4L367.8,463.5L368.6,458.5L369.4,468.6L370.2,466.5L371.0,469.8L371.8,467.9L372.6,468.6L373.4,467.7L374.2,463.5L375.0,462.7L375.8,467.2L376.6,465.5L377.4,462.6L378.2,464.1L379.0,465.7L379.8,467.6L380.6,469.2L381.4,474.9L382.2,472.6L383.0,468.5L383.8,472.9L384.6,462.9L385.4,461.5L386.2,471.0L387.0,466.5L387.8,461.0L388.6,468.1L389.4,468.2L390.2,468.2L391.0,466.6L391.8,465.2L392.6,464.2L393.4,468.6L394.2,473.8L395.0,469.8L395.8,473.8L396.6,475.5L397.4,475.2L398.2,475.1L399.0,472.5L399.8,471.5L400.6,472.7L401.4,470.7L402.2,465.4L403.0,463.8L403.8,464.0L404.6,464.4L405.4,471.8L406.2,468.8L407.0,471.5L407.8,470.4L408.6,465.1L409.4,469.8L410.2,473.6L411.0,470.1L411.8,471.7L412.6,468.7L413.4,464.7L414.2,470.1L415.0,468.7L415.8,474.2L416.6,467.4L417.4,469.2L418.2,471.6L419.0,473.9L419.8,475.2L420.6,474.2L421.4,475.0L422.2,475.5L423.0,474.5L423.8,477.2L424.6,480.8L425.4,483.6L426.2,486.4L427.0,487.5L427.8,487.4L428.6,488.2L429.4,487.3L430.2,484.3L431.0,484.6L431.8,485.2L432.6,485.8L433.4,483.2L434.2,483.0L435.0,483.9L435.8,480.2L436.6,481.7L437.4,480.9L438.2,483.0L439.0,481.3L439.8,481.3L440.6,480.5L441.4,481.0L442.2,482.5L443.0,480.2L443.8,484.2L444.6,480.7L445.4,482.8L446.2,483.2L447.0,483.8L447.8,482.7L448.6,481.5L449.4,484.2L450.2,482.6L451.0,485.3L451.8,485.3L452.6,481.1L453.4,480.2L454.2,484.3L455.0,484.7L455.8,486.2L456.6,486.3L457.4,483.4L458.2,479.2L459.0,486.7L459.8,490.0L460.6,490.4L461.4,491.0L462.2,490.9L463.0,490.2L463.8,490.8L464.6,491.4L465.4,490.9L466.2,490.7L467.0,491.4L467.8,491.0L468.6,490.9L469.4,490.8L470.2,490.6L471.0,490.7L471.8,490.5L472.6,491.3L473.4,490.1L474.2,489.6L475.0,490.4L475.8,491.0L476.6,490.4L477.4,490.0L478.2,491.0L479.0,490.1L479.8,490.6L480.6,490.4L481.4,489.9L482.2,490.5L483.0,490.3L483.8,490.0L484.6,490.4L485.4,490.6L486.2,490.3L487.0,489.7L487.8,489.3L488.6,489.5L489.4,489.5L490.2,489.7L491.0,490.5L491.8,491.0L492.6,492.4L493.4,492.7L494.2,493.6L495.0,493.3L495.8,493.3L496.6,493.5L497.4,493.7L498.2,493.8L499.0,493.7L499.8,493.4L500.6,493.6L501.4,493.1L502.2,493.0L503.0,492.9L503.8,492.9L504.6,493.1L505.4,492.9L506.2,492.6L507.0,492.6L507.8,492.7L508.6,492.7L509.4,492.6L510.2,492.6L511.0,492.5L511.8,492.6L512.6,492.5L513.4,492.5L514.2,492.5L515.0,492.5L515.8,492.5L516.6,492.7L517.4,492.8L518.2,492.9L519.0,492.9L519.8,492.8L520.6,492.9L521.4,492.8L522.2,493.1L523.0,493.6L523.8,494.2L524.6,494.7L525.4,495.4L526.2,495.5L527.0,495.5L527.8,495.4L528.6,495.5L529.4,494.9L530.2,495.0L531.0,495.0L531.8,494.8L532.6,494.9L533.4,494.9L534.2,494.9L535.0,494.9L535.8,494.9L536.6,494.9L537.4,495.1L538.2,495.2L539.0,495.0L539.8,495.0L540.6,495.2L541.4,495.3L542.2,495.6L543.0,495.7L543.8,495.8L544.6,495.7L545.4,495.6L546.2,495.4L547.0,495.4L547.8,495.7L548.6,496.1L549.4,496.0L550.2,495.7L551.0,495.2L551.8,495.2L552.6,495.6L553.4,495.8L554.2,496.0L555.0,495.7L555.8,495.4L556.6,495.6L557.4,495.9L558.2,495.7L559.0,495.9L559.8,496.2L560.6,495.8L561.4,495.9L562.2,496.0L563.0,495.7L563.8,496.1L564.6,496.4L565.4,496.1L566.2,495.9L567.0,495.6L567.8,495.6L568.6,496.0L569.4,495.6L570.2,495.6L571.0,495.9L571.8,496.2L572.6,496.3L573.4,496.3L574.2,496.0L575.0,495.9L575.8,496.2L576.6,496.2L577.4,496.0L578.2,496.0L579.0,496.0L579.8,495.9L580.6,496.0L581.4,495.9L582.2,495.8L583.0,495.7L583.8,495.6L584.6,495.6L585.4,495.7L586.2,495.7L587.0,495.7L587.8,495.6L588.6,495.6L589.4,495.6L590.2,495.5L591.0,495.5L591.8,495.5L592.6,495.5L593.4,495.4L594.2,495.4L595.0,495.4L595.8,495.4L596.6,495.4L597.4,495.3L598.2,495.3L599.0,495.3L599.8,495.3L600.6,495.3L601.4,495.3L602.2,495.3L603.0,495.4L603.8,495.4L604.6,495.4L605.4,495.4L606.2,495.4L607.0,495.5L607.8,495.5L608.6,495.5L609.4,495.5L610.2,495.6L611.0,495.5L611.8,495.6L612.6,495.5L613.4,495.4L614.2,495.4L615.0,495.6L615.8,495.6L616.6,495.5L617.4,495.4L618.2,495.5L619.0,496.0L619.8,495.8L620.6,495.8L621.4,495.8L622.2,495.6L623.0,495.7L623.8,495.6L624.6,495.5L625.4,495.4L626.2,495.7L627.0,495.5L627.8,495.4L628.6,495.4L629.4,495.4L630.2,496.0L631.0,496.2L631.8,496.1L632.6,496.6L633.4,495.7L634.2,495.4L635.0,495.4L635.8,496.5L636.6,496.3L637.4,497.0L638.2,496.7L639.0,496.2L639.8,496.1L640.6,496.8L641.4,496.9L642.2,497.0L643.0,497.0L643.8,497.0L644.6,497.1L645.4,497.0L646.2,497.0L647.0,496.9L647.8,496.9L648.6,496.9L649.4,496.9L650.2,497.0L651.0,497.0L651.8,497.1L652.6,496.9L653.4,497.0L654.2,496.9L655.0,497.0L655.8,496.9L656.6,496.9L657.4,497.2L658.2,497.2L659.0,497.1L659.8,497.2L660.6,497.1L661.4,497.1L662.2,497.1L663.0,497.0L663.8,497.0L664.6,496.9L665.4,496.9L666.2,497.0L667.0,496.9L667.8,496.9L668.6,496.9L669.4,496.9L670.2,496.9L671.0,496.9L671.8,497.0L672.6,497.1L673.4,497.0L674.2,497.0L675.0,497.2L675.8,497.2L676.6,497.0L677.4,497.1L678.2,497.2L679.0,497.1L679.8,497.1L680.6,497.1L681.4,496.9L682.2,496.9L683.0,497.1L683.8,497.1L684.6,497.0L685.4,497.1L686.2,497.0L687.0,497.0L687.8,497.1L688.6,497.1L689.4,497.1L690.2,497.1L691.0,497.1L691.8,497.2L692.6,497.1L693.4,497.2L694.2,497.1L695.0,497.0L695.8,497.1L696.6,497.0L697.4,497.2L698.2,497.2L699.0,496.9L699.8,497.2L700.6,496.9L701.4,497.0L702.2,497.0L703.0,497.0L703.8,497.2L704.6,497.0L705.4,497.0L706.2,496.9L707.0,496.9L707.8,497.0L708.6,497.1L709.4,497.3L710.2,497.0L711.0,497.3L711.8,497.1L712.6,497.3L713.4,497.2L714.2,496.9L715.0,496.9L715.8,497.1L716.6,497.3L717.4,497.2L718.2,497.2L719.0,497.2L719.8,497.2L720.6,497.3L721.4,497.3L722.2,497.2L723.0,497.2L723.8,497.1L724.6,497.2L725.4,496.9L726.2,497.4L727.0,497.2L727.8,497.2L728.6,497.3L729.4,497.3L730.2,497.2L731.0,497.3L731.8,496.9L732.6,496.9L733.4,497.1L734.2,497.2L735.0,497.0L735.8,497.4L736.6,497.4L737.4,497.4L738.2,497.2L739.0,497.2L739.8,497.2L740.6,497.0L741.4,496.9L742.2,496.9L743.0,497.2L743.8,496.9L744.6,496.9L745.4,496.9L746.2,497.0L747.0,496.9L747.8,496.9L748.6,497.0L749.4,497.2L750.2,497.3L751.0,497.2L751.8,497.1L752.6,497.0L753.4,497.3L754.2,497.2L755.0,497.1L755.8,497.4L756.6,497.5L757.4,497.2L758.2,497.3L759.0,497.0L759.8,497.2L760.6,497.2L761.4,497.3L762.2,497.3L763.0,497.1L763.8,496.9L764.6,497.1L765.4,497.0L766.2,497.1L767.0,497.0L767.8,497.2L768.6,497.4L769.4,497.6L770.2,497.5L771.0,497.4L771.8,496.9L772.6,497.0L773.4,496.9L774.2,496.9L775.0,496.9L775.8,497.0L776.6,496.9L777.4,497.1L778.2,496.9L779.0,497.1L779.8,497.2L780.6,497.0L781.4,497.1L782.2,497.1L783.0,497.4L783.8,497.1L784.6,496.9L785.4,497.2L786.2,497.3L787.0,497.6L787.8,497.6L788.6,497.3L789.4,496.9L790.2,496.9L791.0,497.3L791.8,497.2L792.6,497.1L793.4,497.4L794.2,497.6L795.0,497.6L795.8,497.6L796.6,497.7L797.4,497.5L798.2,497.3L799.0,497.0L799.8,497.1L800.6,497.0L801.4,497.1L802.2,497.4L803.0,497.6L803.8,497.4L804.6,497.2L805.4,497.6L806.2,497.6L807.0,497.2L807.8,497.1L808.6,497.2" fill="none" stroke="#ff0000" stroke-width="4.2" stroke-linejoin="round" stroke-linecap="round"/>
<path d="M640,498.1H809.5" stroke="#ee7c7c" stroke-width="3.8" stroke-linecap="round"/>
<path d="M636,497.1H809.5" stroke="#cc1212" stroke-width="2.3" stroke-linecap="round"/>
</g>
<g clip-path="url(#cb)">
<path d="M1109.9,-10L1111.9,75L1114.6,135L1116.9,190L1119.3,252" stroke="#000" stroke-width="6.2" fill="none" stroke-linejoin="round"/>
<path d="M1119.4,202.2L1120.2,238.7L1121.0,253.1L1121.8,252.5L1122.6,252.5L1123.4,251.8L1124.2,250.2L1125.0,255.6L1125.8,263.8L1126.6,267.9L1127.4,294.6L1128.2,300.3L1129.0,303.7L1129.8,307.0L1130.6,310.3L1131.4,312.5L1132.2,313.6L1133.0,317.0L1133.8,316.2L1134.6,316.5L1135.4,314.4L1136.2,310.4L1137.0,304.1L1137.8,297.0L1138.6,290.0L1139.4,280.3L1140.2,270.0L1141.0,265.9L1141.8,265.6L1142.6,265.7L1143.4,296.0L1144.2,335.1L1145.0,358.4L1145.8,369.2L1146.6,377.1L1147.4,379.9L1148.2,381.1L1149.0,381.9L1149.8,382.3L1150.6,382.2L1151.4,381.8L1152.2,382.6L1153.0,381.8L1153.8,382.9L1154.6,382.8L1155.4,384.0L1156.2,384.6L1157.0,384.3L1157.8,385.0L1158.6,384.6L1159.4,385.7L1160.2,386.2L1161.0,385.9L1161.8,386.0L1162.6,386.8L1163.4,386.8L1164.2,387.3L1165.0,387.4L1165.8,386.5L1166.6,383.4L1167.4,381.3L1168.2,383.0L1169.0,388.4L1169.8,389.1L1170.6,390.5L1171.4,392.0L1172.2,393.2L1173.0,394.1L1173.8,394.3L1174.6,394.6L1175.4,394.4L1176.2,394.8L1177.0,394.6L1177.8,393.5L1178.6,394.1L1179.4,393.1L1180.2,393.3L1181.0,393.2L1181.8,393.2L1182.6,393.1L1183.4,393.2L1184.2,393.1L1185.0,388.4L1185.8,383.9L1186.6,378.6L1187.4,384.3L1188.2,392.6L1189.0,397.1L1189.8,401.4L1190.6,402.5L1191.4,405.1L1192.2,407.0L1193.0,408.1L1193.8,410.1L1194.6,414.5L1195.4,417.2L1196.2,420.4L1197.0,424.2L1197.8,424.9L1198.6,426.2L1199.4,426.8L1200.2,427.3L1201.0,427.8L1201.8,428.3L1202.6,428.3L1203.4,429.8L1204.2,430.7L1205.0,430.2L1205.8,430.1L1206.6,429.5L1207.4,428.0L1208.2,426.4L1209.0,425.7L1209.8,423.0L1210.6,422.4L1211.4,420.9L1212.2,420.6L1213.0,420.3L1213.8,420.0L1214.6,420.1L1215.4,419.3L1216.2,419.5L1217.0,420.2L1217.8,420.5L1218.6,420.7L1219.4,422.3L1220.2,421.2L1221.0,421.0L1221.8,420.3L1222.6,419.9L1223.4,418.7L1224.2,418.6L1225.0,419.1L1225.8,420.4L1226.6,421.8L1227.4,421.5L1228.2,422.6L1229.0,424.2L1229.8,423.7L1230.6,425.1L1231.4,424.7L1232.2,425.6L1233.0,425.4L1233.8,425.7L1234.6,427.2L1235.4,427.2L1236.2,427.8L1237.0,428.3L1237.8,427.9L1238.6,428.0L1239.4,428.3L1240.2,429.8L1241.0,429.2L1241.8,430.2L1242.6,430.3L1243.4,430.7L1244.2,430.4L1245.0,431.4L1245.8,431.5L1246.6,432.0L1247.4,431.4L1248.2,431.4L1249.0,431.9L1249.8,433.1L1250.6,433.5L1251.4,432.9L1252.2,434.2L1253.0,434.7L1253.8,434.6L1254.6,434.8L1255.4,435.3L1256.2,436.5L1257.0,436.2L1257.8,436.7L1258.6,436.4L1259.4,438.0L1260.2,438.6L1261.0,439.2L1261.8,439.9L1262.6,440.2L1263.4,440.7L1264.2,441.0L1265.0,442.0L1265.8,442.8L1266.6,443.1L1267.4,444.4L1268.2,443.5L1269.0,445.0L1269.8,445.3L1270.6,445.2L1271.4,445.4L1272.2,445.1L1273.0,446.1L1273.8,445.5L1274.6,444.4L1275.4,442.6L1276.2,441.0L1277.0,438.4L1277.8,436.6L1278.6,436.6L1279.4,436.9L1280.2,436.6L1281.0,438.0L1281.8,438.1L1282.6,438.5L1283.4,439.9L1284.2,439.4L1285.0,440.0L1285.8,440.7L1286.6,441.4L1287.4,441.1L1288.2,442.2L1289.0,442.5L1289.8,441.7L1290.6,439.3L1291.4,438.6L1292.2,438.6L1293.0,439.1L1293.8,439.2L1294.6,439.7L1295.4,439.6L1296.2,439.9L1297.0,439.4L1297.8,440.3L1298.6,440.5L1299.4,439.5L1300.2,439.4L1301.0,439.8L1301.8,440.6L1302.6,439.7L1303.4,439.8L1304.2,441.0L1305.0,441.6L1305.8,440.6L1306.6,441.6L1307.4,441.9L1308.2,442.0L1309.0,442.8L1309.8,442.0L1310.6,442.8L1311.4,443.5L1312.2,444.1L1313.0,444.3L1313.8,444.3L1314.6,444.3L1315.4,444.2L1316.2,444.1L1317.0,443.0L1317.8,442.4L1318.6,442.9L1319.4,442.3L1320.2,442.0L1321.0,442.6L1321.8,442.0L1322.6,442.2L1323.4,440.7L1324.2,441.7L1325.0,440.5L1325.8,441.3L1326.6,440.6L1327.4,441.1L1328.2,441.5L1329.0,441.6L1329.8,440.4L1330.6,440.7L1331.4,441.8L1332.2,441.1L1333.0,440.7L1333.8,441.3L1334.6,440.8L1335.4,441.4L1336.2,441.7L1337.0,441.8L1337.8,441.4L1338.6,440.6L1339.4,441.3L1340.2,441.5L1341.0,440.9L1341.8,441.7L1342.6,441.4L1343.4,442.1L1344.2,442.9L1345.0,445.1L1345.8,444.7L1346.6,446.6L1347.4,446.8L1348.2,446.9L1349.0,446.8L1349.8,446.7L1350.6,446.6L1351.4,446.6L1352.2,445.5L1353.0,446.2L1353.8,446.0L1354.6,444.9L1355.4,445.2L1356.2,444.3L1357.0,444.2L1357.8,444.1L1358.6,444.8L1359.4,444.3L1360.2,445.1L1361.0,444.8L1361.8,444.7L1362.6,445.6L1363.4,444.8L1364.2,445.6L1365.0,445.6L1365.8,446.7L1366.6,446.8L1367.4,446.8L1368.2,446.9L1369.0,447.0L1369.8,447.1L1370.6,447.2L1371.4,447.2L1372.2,447.3L1373.0,447.4L1373.8,447.5L1374.6,447.5L1375.4,447.5L1376.2,447.4L1377.0,447.3L1377.8,447.2L1378.6,446.1L1379.4,445.5L1380.2,446.0L1381.0,445.2L1381.8,445.4L1382.6,445.2L1383.4,443.8L1384.2,443.8L1385.0,443.4L1385.8,443.7L1386.6,444.7L1387.4,443.9L1388.2,444.5L1389.0,445.3L1389.8,445.5L1390.6,445.5L1391.4,445.3L1392.2,446.2L1393.0,446.7L1393.8,446.8L1394.6,446.9L1395.4,447.0L1396.2,447.1L1397.0,447.2L1397.8,447.2L1398.6,447.3L1399.4,447.5L1400.2,447.6L1401.0,447.8L1401.8,448.0L1402.6,448.1L1403.4,448.3L1404.2,448.5L1405.0,448.6L1405.8,448.8L1406.6,449.0L1407.4,449.1L1408.2,449.3L1409.0,449.4L1409.8,449.4L1410.6,448.8L1411.4,447.4L1412.2,447.8L1413.0,447.2L1413.8,446.3L1414.6,446.4L1415.4,445.8L1416.2,445.5L1417.0,445.2L1417.8,446.1L1418.6,446.1L1419.4,447.2L1420.2,447.8L1421.0,448.4L1421.8,448.9L1422.6,450.4L1423.4,450.7L1424.2,451.0L1425.0,451.3L1425.8,451.4L1426.6,451.5L1427.4,451.6L1428.2,451.6L1429.0,451.7L1429.8,451.8L1430.6,451.9L1431.4,452.0L1432.2,452.0L1433.0,452.1L1433.8,452.2L1434.6,452.2L1435.4,452.3L1436.2,452.3L1437.0,452.2L1437.8,452.1L1438.6,452.0L1439.4,451.9L1440.2,451.8L1441.0,451.7L1441.8,451.5L1442.6,451.3L1443.4,451.1L1444.2,451.0L1445.0,450.8L1445.8,450.6L1446.6,450.4L1447.4,450.2L1448.2,450.1L1449.0,449.9L1449.8,449.8L1450.6,449.6L1451.4,449.4L1452.2,447.5L1453.0,448.3L1453.8,447.6L1454.6,446.7L1455.4,444.9L1456.2,444.9L1457.0,442.0L1457.8,436.9L1458.6,440.1L1459.4,447.1L1460.2,450.8L1461.0,450.6L1461.8,451.8L1462.6,452.0L1463.4,452.2L1464.2,452.3L1465.0,452.5L1465.8,452.6L1466.6,452.6L1467.4,452.5L1468.2,452.5L1469.0,452.4L1469.8,452.3L1470.6,452.3L1471.4,452.2L1472.2,452.1L1473.0,452.1L1473.8,452.0L1474.6,449.5L1475.4,442.1L1476.2,446.9L1477.0,451.2L1477.8,451.5L1478.6,451.6L1479.4,451.7L1480.2,449.7L1481.0,451.5L1481.8,452.3L1482.6,452.9L1483.4,453.0L1484.2,453.0L1485.0,453.1L1485.8,453.1L1486.6,453.1L1487.4,453.2L1488.2,453.2L1489.0,453.3L1489.8,453.3L1490.6,453.3L1491.4,453.4L1492.2,453.4L1493.0,453.4L1493.8,453.5L1494.6,453.5L1495.4,453.6L1496.2,453.6L1497.0,453.6L1497.8,453.6L1498.6,453.6L1499.4,453.6L1500.2,453.6L1501.0,453.5L1501.8,453.5L1502.6,453.1L1503.4,452.0L1504.2,452.8L1505.0,452.3L1505.8,452.7L1506.6,452.4L1507.4,452.8L1508.2,451.3L1509.0,451.9L1509.8,451.5L1510.6,452.0L1511.4,451.3L1512.2,450.9L1513.0,451.2L1513.8,451.5L1514.6,450.9L1515.4,451.5L1516.2,452.4L1517.0,451.7L1517.8,452.3L1518.6,451.8L1519.4,452.9L1520.2,451.7L1521.0,453.1L1521.8,453.0L1522.6,453.5L1523.4,453.1L1524.2,452.3L1525.0,452.4L1525.8,453.2L1526.6,453.3L1527.4,453.2L1528.2,454.2L1529.0,454.2L1529.8,453.5L1530.6,454.6L1531.4,454.4L1532.2,454.6L1533.0,453.7L1533.8,453.4L1534.6,454.6L1535.4,453.5L1536.2,453.8L1537.0,454.4L1537.8,454.6L1538.6,454.2L1539.4,453.9L1540.2,454.7L1541.0,453.9L1541.8,454.6L1542.6,453.9L1543.4,453.7L1544.2,454.0L1545.0,454.4L1545.8,454.1L1546.6,453.5L1547.4,453.5L1548.2,452.3L1549.0,447.6L1549.8,443.4L1550.6,450.4L1551.4,453.0L1552.2,453.5L1553.0,453.8L1553.8,453.4L1554.6,454.4L1555.4,454.3L1556.2,453.9L1557.0,454.1L1557.8,453.5L1558.6,453.6L1559.4,453.6L1560.2,453.5L1561.0,452.3L1561.8,453.2L1562.6,453.3L1563.4,453.3L1564.2,453.6L1565.0,453.1L1565.8,453.3L1566.6,453.6L1567.4,454.0L1568.2,453.1L1569.0,454.3L1569.8,453.7L1570.6,453.9L1571.4,453.5L1572.2,454.2L1573.0,453.9L1573.8,455.0L1574.6,454.8L1575.4,455.3L1576.2,454.3L1577.0,454.6L1577.8,455.3L1578.6,455.9L1579.4,455.8L1580.2,456.4L1581.0,456.4L1581.8,456.9L1582.6,456.4L1583.4,457.8L1584.2,456.9L1585.0,457.3L1585.8,457.5L1586.6,458.9L1587.4,459.1L1588.2,459.2L1589.0,459.4L1589.8,459.5L1590.6,459.6L1591.4,459.7L1592.2,459.7L1593.0,459.8L1593.8,459.9L1594.6,459.9L1595.4,460.0L1596.2,460.1L1597.0,460.1L1597.8,460.2L1598.6,460.2L1599.4,460.2L1600.2,460.2L1601.0,460.2L1601.8,460.2L1602.6,460.2L1603.4,460.2L1604.2,460.2L1605.0,460.2L1605.8,460.2L1606.6,460.2L1607.4,460.2L1608.2,460.1L1609.0,460.0L1609.8,459.9L1610.6,459.8L1611.4,459.7L1612.2,459.6L1613.0,459.5L1613.8,459.4L1614.6,457.8L1615.4,457.9L1616.2,457.5L1617.0,458.0L1617.8,457.9L1618.6,457.3L1619.4,457.8L1620.2,456.6L1621.0,456.4L1621.8,457.2L1622.6,456.2L1623.4,456.4L1624.2,456.1L1625.0,455.8L1625.8,455.5L1626.6,455.5L1627.4,455.1L1628.2,455.0L1629.0,454.7L1629.8,455.3L1630.6,455.8L1631.4,457.4L1632.2,457.8L1633.0,458.2L1633.8,458.5L1634.6,458.9L1635.4,459.2L1636.2,459.4L1637.0,459.6L1637.8,459.8L1638.6,460.0L1639.4,460.2L1640.2,460.5L1641.0,460.7L1641.8,460.8L1642.6,460.9L1643.4,461.0L1644.2,461.1L1645.0,461.3L1645.8,461.4L1646.6,461.5L1647.4,461.6L1648.2,461.7L1649.0,461.8L1649.8,461.8L1650.6,461.8L1651.4,461.8L1652.2,461.8L1653.0,461.8L1653.8,461.8L1654.6,461.8L1655.4,461.8L1656.2,461.8L1657.0,461.8L1657.8,461.8L1658.6,461.8L1659.4,461.8L1660.2,461.8L1661.0,461.8L1661.8,461.7L1662.6,461.7L1663.4,461.7L1664.2,461.7L1665.0,461.6L1665.8,461.1L1666.6,457.1L1667.4,453.9L1668.2,454.6L1669.0,458.9L1669.8,462.0L1670.6,462.1L1671.4,462.1L1672.2,462.1L1673.0,462.2L1673.8,462.2L1674.6,462.2L1675.4,462.3L1676.2,462.3L1677.0,462.3L1677.8,462.4L1678.6,462.4L1679.4,462.4L1680.2,462.5L1681.0,462.5L1681.8,462.5L1682.6,462.5L1683.4,462.5L1683.4,462.5L1682.6,462.5L1681.8,462.5L1681.0,462.5L1680.2,462.5L1679.4,462.4L1678.6,462.4L1677.8,462.4L1677.0,462.3L1676.2,462.3L1675.4,462.3L1674.6,462.2L1673.8,462.2L1673.0,462.2L1672.2,462.1L1671.4,462.1L1670.6,462.1L1669.8,462.0L1669.0,461.1L1668.2,461.0L1667.4,462.0L1666.6,461.3L1665.8,461.1L1665.0,461.6L1664.2,461.7L1663.4,461.7L1662.6,461.7L1661.8,461.7L1661.0,461.8L1660.2,461.8L1659.4,461.8L1658.6,461.8L1657.8,461.8L1657.0,461.8L1656.2,461.8L1655.4,461.8L1654.6,461.8L1653.8,461.8L1653.0,461.8L1652.2,461.8L1651.4,461.8L1650.6,461.8L1649.8,461.8L1649.0,461.8L1648.2,461.7L1647.4,461.6L1646.6,461.5L1645.8,461.4L1645.0,461.3L1644.2,461.1L1643.4,461.0L1642.6,460.9L1641.8,460.8L1641.0,460.7L1640.2,460.5L1639.4,460.2L1638.6,460.0L1637.8,459.8L1637.0,459.6L1636.2,459.4L1635.4,459.2L1634.6,458.9L1633.8,458.5L1633.0,458.2L1632.2,457.8L1631.4,457.4L1630.6,458.4L1629.8,457.7L1629.0,457.9L1628.2,457.5L1627.4,457.9L1626.6,457.8L1625.8,457.6L1625.0,458.2L1624.2,458.5L1623.4,458.0L1622.6,458.7L1621.8,458.7L1621.0,459.3L1620.2,459.0L1619.4,459.4L1618.6,459.6L1617.8,459.0L1617.0,460.3L1616.2,460.4L1615.4,460.6L1614.6,460.7L1613.8,459.4L1613.0,459.5L1612.2,459.6L1611.4,459.7L1610.6,459.8L1609.8,459.9L1609.0,460.0L1608.2,460.1L1607.4,460.2L1606.6,460.2L1605.8,460.2L1605.0,460.2L1604.2,460.2L1603.4,460.2L1602.6,460.2L1601.8,460.2L1601.0,460.2L1600.2,460.2L1599.4,460.2L1598.6,460.2L1597.8,460.2L1597.0,460.1L1596.2,460.1L1595.4,460.0L1594.6,459.9L1593.8,459.9L1593.0,459.8L1592.2,459.7L1591.4,459.7L1590.6,459.6L1589.8,459.5L1589.0,459.4L1588.2,459.2L1587.4,459.1L1586.6,458.9L1585.8,459.5L1585.0,459.3L1584.2,459.1L1583.4,458.6L1582.6,459.5L1581.8,458.9L1581.0,458.6L1580.2,459.8L1579.4,458.5L1578.6,458.8L1577.8,458.6L1577.0,458.8L1576.2,458.5L1575.4,458.5L1574.6,457.9L1573.8,458.2L1573.0,458.5L1572.2,457.9L1571.4,457.7L1570.6,458.7L1569.8,457.8L1569.0,457.9L1568.2,457.8L1567.4,457.9L1566.6,457.2L1565.8,457.4L1565.0,457.3L1564.2,457.3L1563.4,457.2L1562.6,457.6L1561.8,456.5L1561.0,457.0L1560.2,457.5L1559.4,457.2L1558.6,457.1L1557.8,457.4L1557.0,456.7L1556.2,456.6L1555.4,456.6L1554.6,456.3L1553.8,457.1L1553.0,456.3L1552.2,456.6L1551.4,456.0L1550.6,455.9L1549.8,455.8L1549.0,455.6L1548.2,456.0L1547.4,456.2L1546.6,456.5L1545.8,455.4L1545.0,455.2L1544.2,455.5L1543.4,455.7L1542.6,456.2L1541.8,455.2L1541.0,456.2L1540.2,455.1L1539.4,456.3L1538.6,455.9L1537.8,456.4L1537.0,455.2L1536.2,456.2L1535.4,456.2L1534.6,455.5L1533.8,456.2L1533.0,455.2L1532.2,456.1L1531.4,456.4L1530.6,455.2L1529.8,456.4L1529.0,455.6L1528.2,455.0L1527.4,455.3L1526.6,456.3L1525.8,456.0L1525.0,455.3L1524.2,456.1L1523.4,455.2L1522.6,455.2L1521.8,455.8L1521.0,455.4L1520.2,455.4L1519.4,455.2L1518.6,455.3L1517.8,454.7L1517.0,455.9L1516.2,455.8L1515.4,454.7L1514.6,454.6L1513.8,455.0L1513.0,455.3L1512.2,455.4L1511.4,455.0L1510.6,454.7L1509.8,454.3L1509.0,455.4L1508.2,453.9L1507.4,454.6L1506.6,454.0L1505.8,454.7L1505.0,453.8L1504.2,453.7L1503.4,454.4L1502.6,454.1L1501.8,453.5L1501.0,453.5L1500.2,453.6L1499.4,453.6L1498.6,453.6L1497.8,453.6L1497.0,453.6L1496.2,453.6L1495.4,453.6L1494.6,453.5L1493.8,453.5L1493.0,453.4L1492.2,453.4L1491.4,453.4L1490.6,453.3L1489.8,453.3L1489.0,453.3L1488.2,453.2L1487.4,453.2L1486.6,453.1L1485.8,453.1L1485.0,453.1L1484.2,453.0L1483.4,453.0L1482.6,452.9L1481.8,452.3L1481.0,451.5L1480.2,452.3L1479.4,451.7L1478.6,451.6L1477.8,451.5L1477.0,451.2L1476.2,451.6L1475.4,451.6L1474.6,451.3L1473.8,452.0L1473.0,452.1L1472.2,452.1L1471.4,452.2L1470.6,452.3L1469.8,452.3L1469.0,452.4L1468.2,452.5L1467.4,452.5L1466.6,452.6L1465.8,452.6L1465.0,452.5L1464.2,452.3L1463.4,452.2L1462.6,452.0L1461.8,451.8L1461.0,452.6L1460.2,451.9L1459.4,452.4L1458.6,451.9L1457.8,451.9L1457.0,451.2L1456.2,452.1L1455.4,451.7L1454.6,450.5L1453.8,450.4L1453.0,450.8L1452.2,450.8L1451.4,449.4L1450.6,449.6L1449.8,449.8L1449.0,449.9L1448.2,450.1L1447.4,450.2L1446.6,450.4L1445.8,450.6L1445.0,450.8L1444.2,451.0L1443.4,451.1L1442.6,451.3L1441.8,451.5L1441.0,451.7L1440.2,451.8L1439.4,451.9L1438.6,452.0L1437.8,452.1L1437.0,452.2L1436.2,452.3L1435.4,452.3L1434.6,452.2L1433.8,452.2L1433.0,452.1L1432.2,452.0L1431.4,452.0L1430.6,451.9L1429.8,451.8L1429.0,451.7L1428.2,451.6L1427.4,451.6L1426.6,451.5L1425.8,451.4L1425.0,451.3L1424.2,451.0L1423.4,450.7L1422.6,450.4L1421.8,451.1L1421.0,451.0L1420.2,450.7L1419.4,451.2L1418.6,451.3L1417.8,451.1L1417.0,450.4L1416.2,451.2L1415.4,451.1L1414.6,451.5L1413.8,450.6L1413.0,450.9L1412.2,451.4L1411.4,450.5L1410.6,450.5L1409.8,449.4L1409.0,449.4L1408.2,449.3L1407.4,449.1L1406.6,449.0L1405.8,448.8L1405.0,448.6L1404.2,448.5L1403.4,448.3L1402.6,448.1L1401.8,448.0L1401.0,447.8L1400.2,447.6L1399.4,447.5L1398.6,447.3L1397.8,447.2L1397.0,447.2L1396.2,447.1L1395.4,447.0L1394.6,446.9L1393.8,446.8L1393.0,446.7L1392.2,447.9L1391.4,447.9L1390.6,447.0L1389.8,447.8L1389.0,447.4L1388.2,447.4L1387.4,448.0L1386.6,447.3L1385.8,448.3L1385.0,448.5L1384.2,448.7L1383.4,447.5L1382.6,448.0L1381.8,447.8L1381.0,447.7L1380.2,448.7L1379.4,447.5L1378.6,447.7L1377.8,447.2L1377.0,447.3L1376.2,447.4L1375.4,447.5L1374.6,447.5L1373.8,447.5L1373.0,447.4L1372.2,447.3L1371.4,447.2L1370.6,447.2L1369.8,447.1L1369.0,447.0L1368.2,446.9L1367.4,446.8L1366.6,446.8L1365.8,446.7L1365.0,447.0L1364.2,446.9L1363.4,446.7L1362.6,447.0L1361.8,447.5L1361.0,447.6L1360.2,447.2L1359.4,447.0L1358.6,447.7L1357.8,447.1L1357.0,448.0L1356.2,446.6L1355.4,447.9L1354.6,447.3L1353.8,447.2L1353.0,447.3L1352.2,446.8L1351.4,446.6L1350.6,446.6L1349.8,446.7L1349.0,446.8L1348.2,446.9L1347.4,446.8L1346.6,446.6L1345.8,446.7L1345.0,446.3L1344.2,446.9L1343.4,447.0L1342.6,446.2L1341.8,447.4L1341.0,447.3L1340.2,447.0L1339.4,447.2L1338.6,446.3L1337.8,445.7L1337.0,446.6L1336.2,446.5L1335.4,446.3L1334.6,446.1L1333.8,445.4L1333.0,446.4L1332.2,445.6L1331.4,446.2L1330.6,446.1L1329.8,445.2L1329.0,445.9L1328.2,446.2L1327.4,445.3L1326.6,446.1L1325.8,445.8L1325.0,445.2L1324.2,445.3L1323.4,444.9L1322.6,445.7L1321.8,445.6L1321.0,444.9L1320.2,445.4L1319.4,445.6L1318.6,445.4L1317.8,445.1L1317.0,444.2L1316.2,444.1L1315.4,444.2L1314.6,444.3L1313.8,444.3L1313.0,444.3L1312.2,444.1L1311.4,444.2L1310.6,445.1L1309.8,444.9L1309.0,445.1L1308.2,444.7L1307.4,445.4L1306.6,444.4L1305.8,445.0L1305.0,444.9L1304.2,445.5L1303.4,445.4L1302.6,445.8L1301.8,444.7L1301.0,444.9L1300.2,445.6L1299.4,445.6L1298.6,446.0L1297.8,446.2L1297.0,444.9L1296.2,445.6L1295.4,446.0L1294.6,445.2L1293.8,445.6L1293.0,445.4L1292.2,443.9L1291.4,444.5L1290.6,444.5L1289.8,444.8L1289.0,444.0L1288.2,444.6L1287.4,443.9L1286.6,444.0L1285.8,443.3L1285.0,443.1L1284.2,443.9L1283.4,442.6L1282.6,442.8L1281.8,442.9L1281.0,442.5L1280.2,443.4L1279.4,442.0L1278.6,442.1L1277.8,442.1L1277.0,443.2L1276.2,443.5L1275.4,444.0L1274.6,444.4L1273.8,445.5L1273.0,446.1L1272.2,447.3L1271.4,447.2L1270.6,446.5L1269.8,447.4L1269.0,446.7L1268.2,446.8L1267.4,447.3L1266.6,447.1L1265.8,446.2L1265.0,446.9L1264.2,445.8L1263.4,446.5L1262.6,444.9L1261.8,445.0L1261.0,444.2L1260.2,445.3L1259.4,444.1L1258.6,444.3L1257.8,443.6L1257.0,443.1L1256.2,442.9L1255.4,442.8L1254.6,443.1L1253.8,442.4L1253.0,442.1L1252.2,442.3L1251.4,442.3L1250.6,441.5L1249.8,440.8L1249.0,441.6L1248.2,440.9L1247.4,441.3L1246.6,441.4L1245.8,440.6L1245.0,440.3L1244.2,440.2L1243.4,440.6L1242.6,439.9L1241.8,439.3L1241.0,440.2L1240.2,439.1L1239.4,439.3L1238.6,438.5L1237.8,438.4L1237.0,438.6L1236.2,437.8L1235.4,438.0L1234.6,437.4L1233.8,437.5L1233.0,437.5L1232.2,437.3L1231.4,437.3L1230.6,435.9L1229.8,436.4L1229.0,436.2L1228.2,435.5L1227.4,436.1L1226.6,435.0L1225.8,435.5L1225.0,434.8L1224.2,435.0L1223.4,435.3L1222.6,433.9L1221.8,435.1L1221.0,434.3L1220.2,433.9L1219.4,434.0L1218.6,434.5L1217.8,434.1L1217.0,433.3L1216.2,434.4L1215.4,433.6L1214.6,433.8L1213.8,433.0L1213.0,434.0L1212.2,433.8L1211.4,433.6L1210.6,433.9L1209.8,433.3L1209.0,433.2L1208.2,433.6L1207.4,432.7L1206.6,432.2L1205.8,433.0L1205.0,432.6L1204.2,432.6L1203.4,432.2L1202.6,432.1L1201.8,431.7L1201.0,431.6L1200.2,431.6L1199.4,431.3L1198.6,429.6L1197.8,428.2L1197.0,426.9L1196.2,425.2L1195.4,423.9L1194.6,423.2L1193.8,421.9L1193.0,420.6L1192.2,419.3L1191.4,418.5L1190.6,416.7L1189.8,415.6L1189.0,415.1L1188.2,415.4L1187.4,414.0L1186.6,413.7L1185.8,412.1L1185.0,411.1L1184.2,410.9L1183.4,409.7L1182.6,409.9L1181.8,407.9L1181.0,407.5L1180.2,407.2L1179.4,406.2L1178.6,405.8L1177.8,404.6L1177.0,405.1L1176.2,404.8L1175.4,403.8L1174.6,403.1L1173.8,402.5L1173.0,401.4L1172.2,401.1L1171.4,400.5L1170.6,400.2L1169.8,398.5L1169.0,397.7L1168.2,398.0L1167.4,397.3L1166.6,396.5L1165.8,396.8L1165.0,396.0L1164.2,394.6L1163.4,394.7L1162.6,394.7L1161.8,393.8L1161.0,393.0L1160.2,393.5L1159.4,391.9L1158.6,391.4L1157.8,390.7L1157.0,390.7L1156.2,388.7L1155.4,388.9L1154.6,387.6L1153.8,387.0L1153.0,386.1L1152.2,385.7L1151.4,384.5L1150.6,383.5L1149.8,382.3L1149.0,381.9L1148.2,381.1L1147.4,379.9L1146.6,377.1L1145.8,375.3L1145.0,373.5L1144.2,370.6L1143.4,369.5L1142.6,368.1L1141.8,365.1L1141.0,364.9L1140.2,362.7L1139.4,361.1L1138.6,360.0L1137.8,357.4L1137.0,354.4L1136.2,351.3L1135.4,348.1L1134.6,346.7L1133.8,343.7L1133.0,341.2L1132.2,338.1L1131.4,334.2L1130.6,330.3L1129.8,325.9L1129.0,321.9L1128.2,318.2L1127.4,314.9L1126.6,310.7L1125.8,307.3L1125.0,303.4L1124.2,300.2L1123.4,296.9L1122.6,293.3L1121.8,290.4L1121.0,285.3L1120.2,277.3L1119.4,267.8Z" fill="#000" stroke="#000" stroke-width="1.5" stroke-linejoin="round"/>
<path d="M1109.7,-10.0L1112.0,80.0L1114.2,135.0L1116.2,165.0L1116.9,77.0L1117.5,180.0L1119.2,250.0L1119.4,261.8L1120.2,252.3L1121.0,264.5L1121.8,279.5L1122.6,291.7L1123.4,250.9L1124.2,252.9L1125.0,248.1L1125.8,265.0L1126.6,313.8L1127.4,292.9L1128.2,316.8L1129.0,324.4L1129.8,314.4L1130.6,329.2L1131.4,333.9L1132.2,313.3L1133.0,340.1L1133.8,333.0L1134.6,344.5L1135.4,312.4L1136.2,354.2L1137.0,311.6L1137.8,297.0L1138.6,362.1L1139.4,287.0L1140.2,267.4L1141.0,310.3L1141.8,263.5L1142.6,298.1L1143.4,372.2L1144.2,347.1L1145.0,359.7L1145.8,374.4L1146.6,378.6L1147.4,379.8L1148.2,383.4L1149.0,384.9L1149.8,383.0L1150.6,386.3L1151.4,384.3L1152.2,388.1L1153.0,382.4L1153.8,384.2L1154.6,384.4L1155.4,385.4L1156.2,384.5L1157.0,386.6L1157.8,389.5L1158.6,387.9L1159.4,387.5L1160.2,383.1L1161.0,387.8L1161.8,384.1L1162.6,386.9L1163.4,389.4L1164.2,384.9L1165.0,386.3L1165.8,394.3L1166.6,392.9L1167.4,377.0L1168.2,377.0L1169.0,390.3L1169.8,386.6L1170.6,394.0L1171.4,395.8L1172.2,401.8L1173.0,398.8L1173.8,405.0L1174.6,402.1L1175.4,406.1L1176.2,404.4L1177.0,401.2L1177.8,401.7L1178.6,408.3L1179.4,398.2L1180.2,395.5L1181.0,399.0L1181.8,407.4L1182.6,407.5L1183.4,394.9L1184.2,398.4L1185.0,386.0L1185.8,391.9L1186.6,373.0L1187.4,388.5L1188.2,392.3L1189.0,413.3L1189.8,418.2L1190.6,411.8L1191.4,409.3L1192.2,409.5L1193.0,405.2L1193.8,407.5L1194.6,412.9L1195.4,417.0L1196.2,419.2L1197.0,425.7L1197.8,422.7L1198.6,423.1L1199.4,427.5L1200.2,430.8L1201.0,432.9L1201.8,433.2L1202.6,434.4L1203.4,431.0L1204.2,434.1L1205.0,432.3L1205.8,433.9L1206.6,429.4L1207.4,433.7L1208.2,424.5L1209.0,430.5L1209.8,432.3L1210.6,420.8L1211.4,420.3L1212.2,421.0L1213.0,422.9L1213.8,435.4L1214.6,436.5L1215.4,435.9L1216.2,427.1L1217.0,430.2L1217.8,429.6L1218.6,435.5L1219.4,422.1L1220.2,423.8L1221.0,431.4L1221.8,427.0L1222.6,417.1L1223.4,419.1L1224.2,420.2L1225.0,430.9L1225.8,430.2L1226.6,437.9L1227.4,435.3L1228.2,435.2L1229.0,430.8L1229.8,428.9L1230.6,427.0L1231.4,430.1L1232.2,428.6L1233.0,430.3L1233.8,428.5L1234.6,434.9L1235.4,431.3L1236.2,425.2L1237.0,425.1L1237.8,426.1L1238.6,430.4L1239.4,435.6L1240.2,429.9L1241.0,431.6L1241.8,429.4L1242.6,435.5L1243.4,429.8L1244.2,440.2L1245.0,438.7L1245.8,429.5L1246.6,434.8L1247.4,429.3L1248.2,430.2L1249.0,436.6L1249.8,434.6L1250.6,430.2L1251.4,437.3L1252.2,440.2L1253.0,439.8L1253.8,434.3L1254.6,434.6L1255.4,436.1L1256.2,444.9L1257.0,437.7L1257.8,437.1L1258.6,438.2L1259.4,437.7L1260.2,445.2L1261.0,444.7L1261.8,437.8L1262.6,437.6L1263.4,441.1L1264.2,445.0L1265.0,447.9L1265.8,443.1L1266.6,447.2L1267.4,446.1L1268.2,447.3L1269.0,443.3L1269.8,442.3L1270.6,443.3L1271.4,444.8L1272.2,447.8L1273.0,443.5L1273.8,443.5L1274.6,443.3L1275.4,443.0L1276.2,437.7L1277.0,439.9L1277.8,444.9L1278.6,444.8L1279.4,440.1L1280.2,440.8L1281.0,438.1L1281.8,441.8L1282.6,443.6L1283.4,441.5L1284.2,443.8L1285.0,442.9L1285.8,441.7L1286.6,441.0L1287.4,442.5L1288.2,440.5L1289.0,443.1L1289.8,443.8L1290.6,440.7L1291.4,441.7L1292.2,440.9L1293.0,439.9L1293.8,444.1L1294.6,445.2L1295.4,442.5L1296.2,446.1L1297.0,448.2L1297.8,441.7L1298.6,438.3L1299.4,437.9L1300.2,437.2L1301.0,442.3L1301.8,441.9L1302.6,444.7L1303.4,441.0L1304.2,444.8L1305.0,442.2L1305.8,444.7L1306.6,442.1L1307.4,446.4L1308.2,442.6L1309.0,443.6L1309.8,439.9L1310.6,440.2L1311.4,441.1L1312.2,444.1L1313.0,444.8L1313.8,444.3L1314.6,444.1L1315.4,440.9L1316.2,442.5L1317.0,440.9L1317.8,441.7L1318.6,441.1L1319.4,443.7L1320.2,443.8L1321.0,441.4L1321.8,439.4L1322.6,441.2L1323.4,442.1L1324.2,444.9L1325.0,440.5L1325.8,445.0L1326.6,442.0L1327.4,443.6L1328.2,443.7L1329.0,441.8L1329.8,442.7L1330.6,443.3L1331.4,440.3L1332.2,443.9L1333.0,443.4L1333.8,440.1L1334.6,441.2L1335.4,446.2L1336.2,439.2L1337.0,443.6L1337.8,442.8L1338.6,447.8L1339.4,445.3L1340.2,439.6L1341.0,440.8L1341.8,441.4L1342.6,443.5L1343.4,443.2L1344.2,442.2L1345.0,446.3L1345.8,446.5L1346.6,449.1L1347.4,447.5L1348.2,446.3L1349.0,448.3L1349.8,445.7L1350.6,448.0L1351.4,446.4L1352.2,447.1L1353.0,446.4L1353.8,447.3L1354.6,447.7L1355.4,446.8L1356.2,445.4L1357.0,443.1L1357.8,441.8L1358.6,442.6L1359.4,443.8L1360.2,446.3L1361.0,450.1L1361.8,444.7L1362.6,448.2L1363.4,445.4L1364.2,449.4L1365.0,445.8L1365.8,446.9L1366.6,443.4L1367.4,446.3L1368.2,446.6L1369.0,446.5L1369.8,445.8L1370.6,449.0L1371.4,449.5L1372.2,448.9L1373.0,448.4L1373.8,448.1L1374.6,446.3L1375.4,447.7L1376.2,445.7L1377.0,446.6L1377.8,444.6L1378.6,443.4L1379.4,443.1L1380.2,444.0L1381.0,444.1L1381.8,445.5L1382.6,446.4L1383.4,449.7L1384.2,442.6L1385.0,443.7L1385.8,449.4L1386.6,447.5L1387.4,446.4L1388.2,447.8L1389.0,448.3L1389.8,449.9L1390.6,446.8L1391.4,445.8L1392.2,446.2L1393.0,445.4L1393.8,446.4L1394.6,444.5L1395.4,445.1L1396.2,446.4L1397.0,447.2L1397.8,446.9L1398.6,445.2L1399.4,445.1L1400.2,445.2L1401.0,449.7L1401.8,449.1L1402.6,450.8L1403.4,448.5L1404.2,446.8L1405.0,447.1L1405.8,447.6L1406.6,449.0L1407.4,448.9L1408.2,451.7L1409.0,451.0L1409.8,448.6L1410.6,448.7L1411.4,449.5L1412.2,448.1L1413.0,444.5L1413.8,444.4L1414.6,446.9L1415.4,453.1L1416.2,446.7L1417.0,445.7L1417.8,447.9L1418.6,450.3L1419.4,449.5L1420.2,452.3L1421.0,446.8L1421.8,448.8L1422.6,449.6L1423.4,451.6L1424.2,450.9L1425.0,453.5L1425.8,451.5L1426.6,451.9L1427.4,453.3L1428.2,451.9L1429.0,452.2L1429.8,453.5L1430.6,452.3L1431.4,450.4L1432.2,450.9L1433.0,450.7L1433.8,452.3L1434.6,451.7L1435.4,452.8L1436.2,451.8L1437.0,452.0L1437.8,452.1L1438.6,450.5L1439.4,452.3L1440.2,451.9L1441.0,451.7L1441.8,453.2L1442.6,450.5L1443.4,452.6L1444.2,450.8L1445.0,450.4L1445.8,450.2L1446.6,448.4L1447.4,448.0L1448.2,450.9L1449.0,450.2L1449.8,451.4L1450.6,452.5L1451.4,452.7L1452.2,449.6L1453.0,449.8L1453.8,453.5L1454.6,449.6L1455.4,453.5L1456.2,449.6L1457.0,454.3L1457.8,433.5L1458.6,441.9L1459.4,449.3L1460.2,454.2L1461.0,451.6L1461.8,451.6L1462.6,449.4L1463.4,451.2L1464.2,450.4L1465.0,452.0L1465.8,452.2L1466.6,451.7L1467.4,452.0L1468.2,451.3L1469.0,453.8L1469.8,453.0L1470.6,452.2L1471.4,450.3L1472.2,450.2L1473.0,450.1L1473.8,451.5L1474.6,447.1L1475.4,438.6L1476.2,449.2L1477.0,450.4L1477.8,449.3L1478.6,450.3L1479.4,451.7L1480.2,445.3L1481.0,453.6L1481.8,452.4L1482.6,453.0L1483.4,453.4L1484.2,453.8L1485.0,453.8L1485.8,453.7L1486.6,453.7L1487.4,453.5L1488.2,452.5L1489.0,453.3L1489.8,451.4L1490.6,451.6L1491.4,452.8L1492.2,452.6L1493.0,453.1L1493.8,455.5L1494.6,454.2L1495.4,454.4L1496.2,453.7L1497.0,455.1L1497.8,453.9L1498.6,452.7L1499.4,453.4L1500.2,453.5L1501.0,450.5L1501.8,450.0L1502.6,451.9L1503.4,452.2L1504.2,452.9L1505.0,453.3L1505.8,452.7L1506.6,452.5L1507.4,450.9L1508.2,449.7L1509.0,449.2L1509.8,449.2L1510.6,452.9L1511.4,448.9L1512.2,449.3L1513.0,450.6L1513.8,448.6L1514.6,448.7L1515.4,451.3L1516.2,453.8L1517.0,449.3L1517.8,452.9L1518.6,456.8L1519.4,454.1L1520.2,454.7L1521.0,451.1L1521.8,452.7L1522.6,455.4L1523.4,456.1L1524.2,453.7L1525.0,454.3L1525.8,457.2L1526.6,454.7L1527.4,454.7L1528.2,456.7L1529.0,455.3L1529.8,457.3L1530.6,456.8L1531.4,458.6L1532.2,458.6L1533.0,457.8L1533.8,458.1L1534.6,454.3L1535.4,455.1L1536.2,455.6L1537.0,455.0L1537.8,454.9L1538.6,457.1L1539.4,451.3L1540.2,452.4L1541.0,455.7L1541.8,451.3L1542.6,454.8L1543.4,453.2L1544.2,454.6L1545.0,457.8L1545.8,456.9L1546.6,457.3L1547.4,454.9L1548.2,458.1L1549.0,452.7L1549.8,441.1L1550.6,458.4L1551.4,458.7L1552.2,456.1L1553.0,458.5L1553.8,455.4L1554.6,457.9L1555.4,453.4L1556.2,450.8L1557.0,455.2L1557.8,450.6L1558.6,450.5L1559.4,451.7L1560.2,453.8L1561.0,454.3L1561.8,450.5L1562.6,450.6L1563.4,455.0L1564.2,451.6L1565.0,451.6L1565.8,454.2L1566.6,452.6L1567.4,455.4L1568.2,459.0L1569.0,460.3L1569.8,457.4L1570.6,460.0L1571.4,455.5L1572.2,457.6L1573.0,461.1L1573.8,457.4L1574.6,460.2L1575.4,457.1L1576.2,456.8L1577.0,457.1L1577.8,458.2L1578.6,459.9L1579.4,454.8L1580.2,461.8L1581.0,461.5L1581.8,459.8L1582.6,462.0L1583.4,456.9L1584.2,458.1L1585.0,454.9L1585.8,456.8L1586.6,460.6L1587.4,457.2L1588.2,457.3L1589.0,461.2L1589.8,459.5L1590.6,461.6L1591.4,459.7L1592.2,460.4L1593.0,462.1L1593.8,462.0L1594.6,459.4L1595.4,460.3L1596.2,461.1L1597.0,459.7L1597.8,462.5L1598.6,461.2L1599.4,462.5L1600.2,459.7L1601.0,461.9L1601.8,458.7L1602.6,461.5L1603.4,459.6L1604.2,457.7L1605.0,458.8L1605.8,457.4L1606.6,460.0L1607.4,462.6L1608.2,460.7L1609.0,459.5L1609.8,457.7L1610.6,458.4L1611.4,458.5L1612.2,457.5L1613.0,459.7L1613.8,462.8L1614.6,460.3L1615.4,459.8L1616.2,460.8L1617.0,461.2L1617.8,461.6L1618.6,458.5L1619.4,458.9L1620.2,458.4L1621.0,455.5L1621.8,454.1L1622.6,454.1L1623.4,457.6L1624.2,457.1L1625.0,453.5L1625.8,456.2L1626.6,453.3L1627.4,457.5L1628.2,459.0L1629.0,458.0L1629.8,457.7L1630.6,460.6L1631.4,460.6L1632.2,458.8L1633.0,461.2L1633.8,459.0L1634.6,461.5L1635.4,460.0L1636.2,459.6L1637.0,459.2L1637.8,458.3L1638.6,460.6L1639.4,460.0L1640.2,461.2L1641.0,463.1L1641.8,461.8L1642.6,459.9L1643.4,458.8L1644.2,461.8L1645.0,463.3L1645.8,463.1L1646.6,462.2L1647.4,462.5L1648.2,462.6L1649.0,461.9L1649.8,460.8L1650.6,460.7L1651.4,461.8L1652.2,461.9L1653.0,461.8L1653.8,461.7L1654.6,461.4L1655.4,461.3L1656.2,461.1L1657.0,463.1L1657.8,460.0L1658.6,460.5L1659.4,461.5L1660.2,461.6L1661.0,460.4L1661.8,459.7L1662.6,460.7L1663.4,460.6L1664.2,461.6L1665.0,461.0L1665.8,460.0L1666.6,455.5L1667.4,450.4L1668.2,450.4L1669.0,462.1L1669.8,461.9L1670.6,462.0L1671.4,462.1L1672.2,462.5L1673.0,463.2L1673.8,462.7L1674.6,462.2L1675.4,461.1L1676.2,462.6L1677.0,462.1L1677.8,461.4L1678.6,461.3L1679.4,461.4L1680.2,462.0L1681.0,462.3L1681.8,462.5L1682.6,462.6L1683.4,462.9" fill="none" stroke="#000" stroke-width="4.2" stroke-linejoin="round" stroke-linecap="round"/>
<path d="M1105.2,269.0L1106.0,275.1L1106.8,280.3L1107.6,286.3L1108.4,292.8L1109.2,298.4L1110.0,307.0L1110.8,318.8L1111.6,327.9L1112.4,332.1L1113.2,335.0L1114.0,337.2L1114.8,339.4L1115.6,340.1L1116.4,340.4L1117.2,341.1L1118.0,342.9L1118.8,344.7L1119.6,348.1L1120.4,350.3L1121.2,353.5L1122.0,356.5L1122.8,358.6L1123.6,359.0L1124.4,358.2L1125.2,358.5L1126.0,355.4L1126.8,356.0L1127.6,359.1L1128.4,361.0L1129.2,363.9L1130.0,365.0L1130.8,367.5L1131.6,371.0L1132.4,372.7L1133.2,374.5L1134.0,373.8L1134.8,373.6L1135.6,373.8L1136.4,373.9L1137.2,374.0L1138.0,373.9L1138.8,380.1L1139.6,384.1L1140.4,388.2L1141.2,390.2L1142.0,394.7L1142.8,397.3L1143.6,397.8L1144.4,398.8L1145.2,399.1L1146.0,399.1L1146.8,398.8L1147.6,399.6L1148.4,399.9L1149.2,400.6L1150.0,401.5L1150.8,401.3L1151.6,402.0L1152.4,402.6L1153.2,402.4L1154.0,403.7L1154.8,405.4L1155.6,407.7L1156.4,408.9L1157.2,410.5L1158.0,411.3L1158.8,411.4L1159.6,411.5L1160.4,412.5L1161.2,413.1L1162.0,413.5L1162.8,412.9L1163.6,414.7L1164.4,414.9L1165.2,414.1L1166.0,415.3L1166.8,415.5L1167.6,415.9L1168.4,415.5L1169.2,416.0L1170.0,415.7L1170.8,415.5L1171.6,415.1L1172.4,414.9L1173.2,413.8L1174.0,413.5L1174.8,412.8L1175.6,412.8L1176.4,411.7L1177.2,409.2L1178.0,407.7L1178.8,408.4L1179.6,411.2L1180.4,413.2L1181.2,415.5L1182.0,416.4L1182.8,416.8L1183.6,418.0L1184.4,420.3L1185.2,421.8L1186.0,423.3L1186.8,424.0L1187.6,426.1L1188.4,427.0L1189.2,429.0L1190.0,430.6L1190.8,433.1L1191.6,434.4L1192.4,436.4L1193.2,437.6L1194.0,440.0L1194.8,441.2L1195.6,442.5L1196.4,442.5L1197.2,442.2L1198.0,443.0L1198.8,442.9L1199.6,441.7L1200.4,441.6L1201.2,441.7L1202.0,442.0L1202.8,441.9L1203.6,442.5L1204.4,443.9L1205.2,444.0L1206.0,443.7L1206.8,444.3L1207.6,445.2L1208.4,446.5L1209.2,447.5L1210.0,447.1L1210.8,448.7L1211.6,448.7L1212.4,450.1L1213.2,450.4L1214.0,451.5L1214.8,452.7L1215.6,452.8L1216.4,453.6L1217.2,455.1L1218.0,456.3L1218.8,456.0L1219.6,456.9L1220.4,456.9L1221.2,457.5L1222.0,455.6L1222.8,453.4L1223.6,452.1L1224.4,451.0L1225.2,449.2L1226.0,448.7L1226.8,450.5L1227.6,452.0L1228.4,453.0L1229.2,452.7L1230.0,451.5L1230.8,450.9L1231.6,451.6L1232.4,451.7L1233.2,450.1L1234.0,450.3L1234.8,450.3L1235.6,451.0L1236.4,451.3L1237.2,452.3L1238.0,452.3L1238.8,457.6L1239.6,461.7L1240.4,462.8L1241.2,462.2L1242.0,462.0L1242.8,462.8L1243.6,462.7L1244.4,463.5L1245.2,463.2L1246.0,462.8L1246.8,462.9L1247.6,462.9L1248.4,462.8L1249.2,463.4L1250.0,462.5L1250.8,462.8L1251.6,463.6L1252.4,462.2L1253.2,461.7L1254.0,461.8L1254.8,461.2L1255.6,459.9L1256.4,459.8L1257.2,459.4L1258.0,459.3L1258.8,460.2L1259.6,461.0L1260.4,462.4L1261.2,463.1L1262.0,462.7L1262.8,462.9L1263.6,462.6L1264.4,463.1L1265.2,461.7L1266.0,460.9L1266.8,461.3L1267.6,460.7L1268.4,460.2L1269.2,459.6L1270.0,459.8L1270.8,459.5L1271.6,460.6L1272.4,461.2L1273.2,461.3L1274.0,461.0L1274.8,461.8L1275.6,462.7L1276.4,463.7L1277.2,463.8L1278.0,463.8L1278.8,464.4L1279.6,466.5L1280.4,467.1L1281.2,467.0L1282.0,465.8L1282.8,466.4L1283.6,465.1L1284.4,464.6L1285.2,463.7L1286.0,463.2L1286.8,461.4L1287.6,462.4L1288.4,462.6L1289.2,462.9L1290.0,462.9L1290.8,463.1L1291.6,462.9L1292.4,464.4L1293.2,464.6L1294.0,464.1L1294.8,465.4L1295.6,465.9L1296.4,466.5L1297.2,467.8L1298.0,468.4L1298.8,468.7L1299.6,469.8L1300.4,472.0L1301.2,473.1L1302.0,473.4L1302.8,472.1L1303.6,471.5L1304.4,469.3L1305.2,466.4L1306.0,464.8L1306.8,465.2L1307.6,465.5L1308.4,465.1L1309.2,465.9L1310.0,466.6L1310.8,465.9L1311.6,465.9L1312.4,467.0L1313.2,466.6L1314.0,467.5L1314.8,468.5L1315.6,468.4L1316.4,469.2L1317.2,468.7L1318.0,469.8L1318.8,469.9L1319.6,470.3L1320.4,469.9L1321.2,470.7L1322.0,470.7L1322.8,470.6L1323.6,470.1L1324.4,470.9L1325.2,470.2L1326.0,470.8L1326.8,469.5L1327.6,469.3L1328.4,470.0L1329.2,469.6L1330.0,469.8L1330.8,469.0L1331.6,468.5L1332.4,468.5L1333.2,468.4L1334.0,467.8L1334.8,467.5L1335.6,467.7L1336.4,467.6L1337.2,467.5L1338.0,466.2L1338.8,467.1L1339.6,466.9L1340.4,466.2L1341.2,465.6L1342.0,466.9L1342.8,466.8L1343.6,468.2L1344.4,469.4L1345.2,468.8L1346.0,469.1L1346.8,469.9L1347.6,470.1L1348.4,470.9L1349.2,470.8L1350.0,471.3L1350.8,472.1L1351.6,471.3L1352.4,472.2L1353.2,471.8L1354.0,471.7L1354.8,471.5L1355.6,471.8L1356.4,471.9L1357.2,471.3L1358.0,471.4L1358.8,470.3L1359.6,469.1L1360.4,467.5L1361.2,465.6L1362.0,467.2L1362.8,469.5L1363.6,470.4L1364.4,470.4L1365.2,470.2L1366.0,471.0L1366.8,470.7L1367.6,470.1L1368.4,470.1L1369.2,470.4L1370.0,470.7L1370.8,470.3L1371.6,470.6L1372.4,470.7L1373.2,470.1L1374.0,470.2L1374.8,471.3L1375.6,470.5L1376.4,472.0L1377.2,473.7L1378.0,474.2L1378.8,474.8L1379.6,475.9L1380.4,477.7L1381.2,480.5L1382.0,482.9L1382.8,484.0L1383.6,484.3L1384.4,484.5L1385.2,484.9L1386.0,485.0L1386.8,485.0L1387.6,485.1L1388.4,485.1L1389.2,485.1L1390.0,485.1L1390.8,485.2L1391.6,485.2L1392.4,485.2L1393.2,485.2L1394.0,485.2L1394.8,485.3L1395.6,485.3L1396.4,485.3L1397.2,485.3L1398.0,485.3L1398.8,485.3L1399.6,485.2L1400.4,485.1L1401.2,485.0L1402.0,484.8L1402.8,484.7L1403.6,484.6L1404.4,484.5L1405.2,484.4L1406.0,484.3L1406.8,484.2L1407.6,484.0L1408.4,483.9L1409.2,483.8L1410.0,483.4L1410.8,481.7L1411.6,480.9L1412.4,480.7L1413.2,479.5L1414.0,479.4L1414.8,478.6L1415.6,477.8L1416.4,477.3L1417.2,477.4L1418.0,478.3L1418.8,481.9L1419.6,483.7L1420.4,485.3L1421.2,486.8L1422.0,488.5L1422.8,489.9L1423.6,490.3L1424.4,490.4L1425.2,490.4L1426.0,490.3L1426.8,489.9L1427.6,489.6L1428.4,489.2L1429.2,488.9L1430.0,488.5L1430.8,488.2L1431.6,487.8L1432.4,487.6L1433.2,487.5L1434.0,487.6L1434.8,487.6L1435.6,487.7L1436.4,487.7L1437.2,487.7L1438.0,487.8L1438.8,487.8L1439.6,487.9L1440.4,487.9L1441.2,487.9L1442.0,488.0L1442.8,488.0L1443.6,488.1L1444.4,488.1L1445.2,488.1L1446.0,488.2L1446.8,488.2L1447.6,488.3L1448.4,488.3L1449.2,488.8L1450.0,489.5L1450.8,490.2L1451.6,490.9L1452.4,491.7L1453.2,492.5L1454.0,493.2L1454.8,493.9L1455.6,494.4L1456.4,494.6L1457.2,494.7L1458.0,494.7L1458.8,494.6L1459.6,494.4L1460.4,494.2L1461.2,494.0L1462.0,493.9L1462.8,493.7L1463.6,493.5L1464.4,493.3L1465.2,493.1L1466.0,493.0L1466.8,492.9L1467.6,492.9L1468.4,492.9L1469.2,492.9L1470.0,492.9L1470.8,492.9L1471.6,492.9L1472.4,492.9L1473.2,492.9L1474.0,492.9L1474.8,492.9L1475.6,492.9L1476.4,492.9L1477.2,492.9L1478.0,492.9L1478.8,492.9L1479.6,492.9L1480.4,492.9L1481.2,493.0L1482.0,493.0L1482.8,493.0L1483.6,493.0L1484.4,493.0L1485.2,493.1L1486.0,493.1L1486.8,493.1L1487.6,493.3L1488.4,494.1L1489.2,494.4L1490.0,495.2L1490.8,495.6L1491.6,495.6L1492.4,495.6L1493.2,495.6L1494.0,495.6L1494.8,495.6L1495.6,495.6L1496.4,495.6L1497.2,495.6L1498.0,495.6L1498.8,495.6L1499.6,495.6L1500.4,495.6L1501.2,495.6L1502.0,495.6L1502.8,495.6L1503.6,495.6L1504.4,495.6L1505.2,495.6L1506.0,495.6L1506.8,495.6L1507.6,495.6L1508.4,495.6L1509.2,495.6L1510.0,495.6L1510.8,495.6L1511.6,495.6L1512.4,495.6L1513.2,495.6L1514.0,495.6L1514.8,495.6L1515.6,495.6L1516.4,495.6L1517.2,495.6L1518.0,495.6L1518.8,495.6L1519.6,495.8L1520.4,496.9L1521.2,497.2L1522.0,497.8L1522.8,498.5L1523.6,498.5L1524.4,498.5L1525.2,498.5L1526.0,498.5L1526.8,498.5L1527.6,498.5L1528.4,498.5L1529.2,498.5L1530.0,498.5L1530.8,498.5L1531.6,498.5L1532.4,498.5L1533.2,498.6L1534.0,498.6L1534.8,498.6L1535.6,498.6L1536.4,498.6L1537.2,498.6L1538.0,498.6L1538.8,498.6L1539.6,498.6L1540.4,498.6L1541.2,498.6L1542.0,498.6L1542.8,498.6L1543.6,498.6L1544.4,498.6L1545.2,498.6L1546.0,498.6L1546.8,498.6L1547.6,498.6L1548.4,498.6L1549.2,498.6L1550.0,498.6L1550.8,498.6L1551.6,498.6L1552.4,498.6L1553.2,498.6L1554.0,498.7L1554.8,498.7L1555.6,498.8L1556.4,499.2L1557.2,499.4L1558.0,499.5L1558.8,499.5L1559.6,499.5L1560.4,499.5L1561.2,499.5L1562.0,499.5L1562.8,499.5L1563.6,499.5L1564.4,499.5L1565.2,499.5L1566.0,499.5L1566.8,499.5L1567.6,499.5L1568.4,499.5L1569.2,499.5L1570.0,499.5L1570.8,499.5L1571.6,499.5L1572.4,499.5L1573.2,499.5L1574.0,499.5L1574.8,499.5L1575.6,499.5L1576.4,499.5L1577.2,499.5L1578.0,499.5L1578.8,499.5L1579.6,499.5L1580.4,499.5L1581.2,499.5L1582.0,499.5L1582.8,499.5L1583.6,499.5L1584.4,499.5L1585.2,499.5L1586.0,499.5L1586.8,499.5L1587.6,499.5L1588.4,499.5L1589.2,499.5L1590.0,499.5L1590.8,499.5L1591.6,499.5L1592.4,499.5L1593.2,499.5L1594.0,499.5L1594.8,499.5L1595.6,499.5L1596.4,499.5L1597.2,499.5L1598.0,499.5L1598.8,499.5L1599.6,499.5L1600.4,499.5L1601.2,499.5L1602.0,499.5L1602.8,499.5L1603.6,499.5L1604.4,499.5L1605.2,499.5L1606.0,499.5L1606.8,499.5L1607.6,499.5L1608.4,499.5L1609.2,499.5L1610.0,499.5L1610.8,499.5L1611.6,499.5L1612.4,499.5L1613.2,499.5L1614.0,499.5L1614.8,499.5L1615.6,499.5L1616.4,499.5L1617.2,499.5L1618.0,499.5L1618.8,499.5L1619.6,499.5L1620.4,499.5L1621.2,499.5L1622.0,499.5L1622.8,499.5L1623.6,499.5L1624.4,499.5L1625.2,499.5L1626.0,499.5L1626.8,499.5L1627.6,499.5L1628.4,499.5L1629.2,499.5L1630.0,499.5L1630.8,499.5L1631.6,499.5L1632.4,499.5L1633.2,499.5L1634.0,499.5L1634.8,499.5L1635.6,499.5L1636.4,499.5L1637.2,499.5L1638.0,499.5L1638.8,499.5L1639.6,499.5L1640.4,499.5L1641.2,499.5L1642.0,499.5L1642.8,499.5L1643.6,499.5L1644.4,499.5L1645.2,499.5L1646.0,499.5L1646.8,499.5L1647.6,499.5L1648.4,499.5L1649.2,499.5L1650.0,499.5L1650.8,499.5L1651.6,499.5L1652.4,499.5L1653.2,499.5L1654.0,499.5L1654.8,499.5L1655.6,499.5L1656.4,499.5L1657.2,499.5L1658.0,499.5L1658.8,499.5L1659.6,499.5L1660.4,499.5L1661.2,499.5L1662.0,499.5L1662.8,499.5L1663.6,499.5L1664.4,499.5L1665.2,499.5L1666.0,499.5L1666.8,499.5L1667.6,499.5L1668.4,499.5L1669.2,499.5L1670.0,499.5L1670.8,499.5L1671.6,499.5L1672.4,499.5L1673.2,499.5L1674.0,499.5L1674.8,499.5L1675.6,499.5L1676.4,499.5L1677.2,499.5L1678.0,499.5L1678.8,499.5L1679.6,499.5L1680.4,499.5L1681.2,499.5L1682.0,499.5L1682.8,499.5L1683.6,499.5L1683.6,499.5L1682.8,499.5L1682.0,499.5L1681.2,499.5L1680.4,499.5L1679.6,499.5L1678.8,499.5L1678.0,499.5L1677.2,499.5L1676.4,499.5L1675.6,499.5L1674.8,499.5L1674.0,499.5L1673.2,499.5L1672.4,499.5L1671.6,499.5L1670.8,499.5L1670.0,499.5L1669.2,499.5L1668.4,499.5L1667.6,499.5L1666.8,499.5L1666.0,499.5L1665.2,499.5L1664.4,499.5L1663.6,499.5L1662.8,499.5L1662.0,499.5L1661.2,499.5L1660.4,499.5L1659.6,499.5L1658.8,499.5L1658.0,499.5L1657.2,499.5L1656.4,499.5L1655.6,499.5L1654.8,499.5L1654.0,499.5L1653.2,499.5L1652.4,499.5L1651.6,499.5L1650.8,499.5L1650.0,499.5L1649.2,499.5L1648.4,499.5L1647.6,499.5L1646.8,499.5L1646.0,499.5L1645.2,499.5L1644.4,499.5L1643.6,499.5L1642.8,499.5L1642.0,499.5L1641.2,499.5L1640.4,499.5L1639.6,499.5L1638.8,499.5L1638.0,499.5L1637.2,499.5L1636.4,499.5L1635.6,499.5L1634.8,499.5L1634.0,499.5L1633.2,499.5L1632.4,499.5L1631.6,499.5L1630.8,499.5L1630.0,499.5L1629.2,499.5L1628.4,499.5L1627.6,499.5L1626.8,499.5L1626.0,499.5L1625.2,499.5L1624.4,499.5L1623.6,499.5L1622.8,499.5L1622.0,499.5L1621.2,499.5L1620.4,499.5L1619.6,499.5L1618.8,499.5L1618.0,499.5L1617.2,499.5L1616.4,499.5L1615.6,499.5L1614.8,499.5L1614.0,499.5L1613.2,499.5L1612.4,499.5L1611.6,499.5L1610.8,499.5L1610.0,499.5L1609.2,499.5L1608.4,499.5L1607.6,499.5L1606.8,499.5L1606.0,499.5L1605.2,499.5L1604.4,499.5L1603.6,499.5L1602.8,499.5L1602.0,499.5L1601.2,499.5L1600.4,499.5L1599.6,499.5L1598.8,499.5L1598.0,499.5L1597.2,499.5L1596.4,499.5L1595.6,499.5L1594.8,499.5L1594.0,499.5L1593.2,499.5L1592.4,499.5L1591.6,499.5L1590.8,499.5L1590.0,499.5L1589.2,499.5L1588.4,499.5L1587.6,499.5L1586.8,499.5L1586.0,499.5L1585.2,499.5L1584.4,499.5L1583.6,499.5L1582.8,499.5L1582.0,499.5L1581.2,499.5L1580.4,499.5L1579.6,499.5L1578.8,499.5L1578.0,499.5L1577.2,499.5L1576.4,499.5L1575.6,499.5L1574.8,499.5L1574.0,499.5L1573.2,499.5L1572.4,499.5L1571.6,499.5L1570.8,499.5L1570.0,499.5L1569.2,499.5L1568.4,499.5L1567.6,499.5L1566.8,499.5L1566.0,499.5L1565.2,499.5L1564.4,499.5L1563.6,499.5L1562.8,499.5L1562.0,499.5L1561.2,499.5L1560.4,499.5L1559.6,499.5L1558.8,499.5L1558.0,499.5L1557.2,499.4L1556.4,499.2L1555.6,498.8L1554.8,498.7L1554.0,498.7L1553.2,498.6L1552.4,498.6L1551.6,498.6L1550.8,498.6L1550.0,498.6L1549.2,498.6L1548.4,498.6L1547.6,498.6L1546.8,498.6L1546.0,498.6L1545.2,498.6L1544.4,498.6L1543.6,498.6L1542.8,498.6L1542.0,498.6L1541.2,498.6L1540.4,498.6L1539.6,498.6L1538.8,498.6L1538.0,498.6L1537.2,498.6L1536.4,498.6L1535.6,498.6L1534.8,498.6L1534.0,498.6L1533.2,498.6L1532.4,498.5L1531.6,498.5L1530.8,498.5L1530.0,498.5L1529.2,498.5L1528.4,498.5L1527.6,498.5L1526.8,498.5L1526.0,498.5L1525.2,498.5L1524.4,498.5L1523.6,498.5L1522.8,498.5L1522.0,497.8L1521.2,497.2L1520.4,496.9L1519.6,495.8L1518.8,495.6L1518.0,495.6L1517.2,495.6L1516.4,495.6L1515.6,495.6L1514.8,495.6L1514.0,495.6L1513.2,495.6L1512.4,495.6L1511.6,495.6L1510.8,495.6L1510.0,495.6L1509.2,495.6L1508.4,495.6L1507.6,495.6L1506.8,495.6L1506.0,495.6L1505.2,495.6L1504.4,495.6L1503.6,495.6L1502.8,495.6L1502.0,495.6L1501.2,495.6L1500.4,495.6L1499.6,495.6L1498.8,495.6L1498.0,495.6L1497.2,495.6L1496.4,495.6L1495.6,495.6L1494.8,495.6L1494.0,495.6L1493.2,495.6L1492.4,495.6L1491.6,495.6L1490.8,495.6L1490.0,495.2L1489.2,494.4L1488.4,494.1L1487.6,493.3L1486.8,493.1L1486.0,493.1L1485.2,493.1L1484.4,493.0L1483.6,493.0L1482.8,493.0L1482.0,493.0L1481.2,493.0L1480.4,492.9L1479.6,492.9L1478.8,492.9L1478.0,492.9L1477.2,492.9L1476.4,492.9L1475.6,492.9L1474.8,492.9L1474.0,492.9L1473.2,492.9L1472.4,492.9L1471.6,492.9L1470.8,492.9L1470.0,492.9L1469.2,492.9L1468.4,492.9L1467.6,492.9L1466.8,492.9L1466.0,493.0L1465.2,493.1L1464.4,493.3L1463.6,493.5L1462.8,493.7L1462.0,493.9L1461.2,494.0L1460.4,494.2L1459.6,494.4L1458.8,494.6L1458.0,494.7L1457.2,494.7L1456.4,494.6L1455.6,494.4L1454.8,493.9L1454.0,493.2L1453.2,492.5L1452.4,491.7L1451.6,490.9L1450.8,490.2L1450.0,489.5L1449.2,488.8L1448.4,488.3L1447.6,488.3L1446.8,488.2L1446.0,488.2L1445.2,488.1L1444.4,488.1L1443.6,488.1L1442.8,488.0L1442.0,488.0L1441.2,487.9L1440.4,487.9L1439.6,487.9L1438.8,487.8L1438.0,487.8L1437.2,487.7L1436.4,487.7L1435.6,487.7L1434.8,487.6L1434.0,487.6L1433.2,487.5L1432.4,487.6L1431.6,487.8L1430.8,488.2L1430.0,488.5L1429.2,488.9L1428.4,489.2L1427.6,489.6L1426.8,489.9L1426.0,490.3L1425.2,490.4L1424.4,490.4L1423.6,490.3L1422.8,489.9L1422.0,488.5L1421.2,486.8L1420.4,485.3L1419.6,483.7L1418.8,482.5L1418.0,482.3L1417.2,483.8L1416.4,482.8L1415.6,483.2L1414.8,483.0L1414.0,483.3L1413.2,483.7L1412.4,483.2L1411.6,483.4L1410.8,484.3L1410.0,483.4L1409.2,483.8L1408.4,483.9L1407.6,484.0L1406.8,484.2L1406.0,484.3L1405.2,484.4L1404.4,484.5L1403.6,484.6L1402.8,484.7L1402.0,484.8L1401.2,485.0L1400.4,485.1L1399.6,485.2L1398.8,485.3L1398.0,485.3L1397.2,485.3L1396.4,485.3L1395.6,485.3L1394.8,485.3L1394.0,485.2L1393.2,485.2L1392.4,485.2L1391.6,485.2L1390.8,485.2L1390.0,485.1L1389.2,485.1L1388.4,485.1L1387.6,485.1L1386.8,485.0L1386.0,485.0L1385.2,484.9L1384.4,484.5L1383.6,484.3L1382.8,484.0L1382.0,482.9L1381.2,480.5L1380.4,477.7L1379.6,475.9L1378.8,474.8L1378.0,474.2L1377.2,473.7L1376.4,474.9L1375.6,474.6L1374.8,474.2L1374.0,474.0L1373.2,473.5L1372.4,474.8L1371.6,473.4L1370.8,474.5L1370.0,474.5L1369.2,474.3L1368.4,474.3L1367.6,474.4L1366.8,473.7L1366.0,473.4L1365.2,474.1L1364.4,473.0L1363.6,474.1L1362.8,474.7L1362.0,474.8L1361.2,474.8L1360.4,474.1L1359.6,474.2L1358.8,475.3L1358.0,474.9L1357.2,475.2L1356.4,474.7L1355.6,475.2L1354.8,475.1L1354.0,475.1L1353.2,476.5L1352.4,475.3L1351.6,475.7L1350.8,474.7L1350.0,475.5L1349.2,474.1L1348.4,475.2L1347.6,474.0L1346.8,474.7L1346.0,474.6L1345.2,474.5L1344.4,474.9L1343.6,475.3L1342.8,475.4L1342.0,474.8L1341.2,475.1L1340.4,474.7L1339.6,476.0L1338.8,475.6L1338.0,475.2L1337.2,476.1L1336.4,476.1L1335.6,475.2L1334.8,476.3L1334.0,476.5L1333.2,475.6L1332.4,475.9L1331.6,476.2L1330.8,475.8L1330.0,475.5L1329.2,474.8L1328.4,475.2L1327.6,474.7L1326.8,475.8L1326.0,475.5L1325.2,474.1L1324.4,474.4L1323.6,474.0L1322.8,474.7L1322.0,473.5L1321.2,473.9L1320.4,473.1L1319.6,473.9L1318.8,473.0L1318.0,473.4L1317.2,473.0L1316.4,472.9L1315.6,472.2L1314.8,472.7L1314.0,471.6L1313.2,471.9L1312.4,472.7L1311.6,472.2L1310.8,472.3L1310.0,472.0L1309.2,472.3L1308.4,472.6L1307.6,473.3L1306.8,473.0L1306.0,473.7L1305.2,473.9L1304.4,474.4L1303.6,474.5L1302.8,473.9L1302.0,473.4L1301.2,474.9L1300.4,473.9L1299.6,473.1L1298.8,473.9L1298.0,473.0L1297.2,472.7L1296.4,472.6L1295.6,471.8L1294.8,471.6L1294.0,471.5L1293.2,470.8L1292.4,470.6L1291.6,469.2L1290.8,469.4L1290.0,468.6L1289.2,468.3L1288.4,468.1L1287.6,468.0L1286.8,468.7L1286.0,468.9L1285.2,467.6L1284.4,468.6L1283.6,468.8L1282.8,468.3L1282.0,469.8L1281.2,469.5L1280.4,469.8L1279.6,469.9L1278.8,469.7L1278.0,469.3L1277.2,469.6L1276.4,470.6L1275.6,470.6L1274.8,470.6L1274.0,470.6L1273.2,470.5L1272.4,470.3L1271.6,469.7L1270.8,470.3L1270.0,469.3L1269.2,470.5L1268.4,469.7L1267.6,469.4L1266.8,469.5L1266.0,470.5L1265.2,469.6L1264.4,469.9L1263.6,469.2L1262.8,469.5L1262.0,469.0L1261.2,470.3L1260.4,469.6L1259.6,469.8L1258.8,470.0L1258.0,469.2L1257.2,469.3L1256.4,469.6L1255.6,468.6L1254.8,468.7L1254.0,469.1L1253.2,468.8L1252.4,468.4L1251.6,469.8L1250.8,469.4L1250.0,469.7L1249.2,469.0L1248.4,469.5L1247.6,469.1L1246.8,468.5L1246.0,469.3L1245.2,469.1L1244.4,468.5L1243.6,468.8L1242.8,468.5L1242.0,468.2L1241.2,467.6L1240.4,466.9L1239.6,466.5L1238.8,465.6L1238.0,465.6L1237.2,466.1L1236.4,464.3L1235.6,464.3L1234.8,464.3L1234.0,463.9L1233.2,464.0L1232.4,463.7L1231.6,463.6L1230.8,463.3L1230.0,463.3L1229.2,464.1L1228.4,463.5L1227.6,463.8L1226.8,464.6L1226.0,464.3L1225.2,463.4L1224.4,464.0L1223.6,463.5L1222.8,464.2L1222.0,464.9L1221.2,464.5L1220.4,464.0L1219.6,463.9L1218.8,463.3L1218.0,462.8L1217.2,462.6L1216.4,462.7L1215.6,462.5L1214.8,461.5L1214.0,461.2L1213.2,461.3L1212.4,461.0L1211.6,459.5L1210.8,459.0L1210.0,459.1L1209.2,459.1L1208.4,458.1L1207.6,458.1L1206.8,458.4L1206.0,457.9L1205.2,457.9L1204.4,458.0L1203.6,457.4L1202.8,457.4L1202.0,456.1L1201.2,456.5L1200.4,456.2L1199.6,456.4L1198.8,456.2L1198.0,455.3L1197.2,454.6L1196.4,454.7L1195.6,453.8L1194.8,454.1L1194.0,452.5L1193.2,451.7L1192.4,451.8L1191.6,450.8L1190.8,450.4L1190.0,450.9L1189.2,450.3L1188.4,447.7L1187.6,447.0L1186.8,444.5L1186.0,443.9L1185.2,441.9L1184.4,439.9L1183.6,439.0L1182.8,438.5L1182.0,437.6L1181.2,437.5L1180.4,436.9L1179.6,436.5L1178.8,436.9L1178.0,435.8L1177.2,435.7L1176.4,435.0L1175.6,435.1L1174.8,433.9L1174.0,434.4L1173.2,433.6L1172.4,432.2L1171.6,432.2L1170.8,431.4L1170.0,430.7L1169.2,429.9L1168.4,429.9L1167.6,428.5L1166.8,428.4L1166.0,427.6L1165.2,427.2L1164.4,426.9L1163.6,426.7L1162.8,425.9L1162.0,425.2L1161.2,424.8L1160.4,424.5L1159.6,425.1L1158.8,424.1L1158.0,424.8L1157.2,424.4L1156.4,423.6L1155.6,422.9L1154.8,423.0L1154.0,422.6L1153.2,420.9L1152.4,419.8L1151.6,419.1L1150.8,418.7L1150.0,417.5L1149.2,417.2L1148.4,415.8L1147.6,415.5L1146.8,414.1L1146.0,413.3L1145.2,413.0L1144.4,410.4L1143.6,410.5L1142.8,408.3L1142.0,408.0L1141.2,405.4L1140.4,405.0L1139.6,403.7L1138.8,402.2L1138.0,400.6L1137.2,399.0L1136.4,399.0L1135.6,397.0L1134.8,395.8L1134.0,393.4L1133.2,391.2L1132.4,388.9L1131.6,385.9L1130.8,383.7L1130.0,381.9L1129.2,380.6L1128.4,380.6L1127.6,379.5L1126.8,379.8L1126.0,379.1L1125.2,378.9L1124.4,378.4L1123.6,378.0L1122.8,377.3L1122.0,374.0L1121.2,369.7L1120.4,365.7L1119.6,364.5L1118.8,363.5L1118.0,361.8L1117.2,359.7L1116.4,358.1L1115.6,357.5L1114.8,355.8L1114.0,354.2L1113.2,352.2L1112.4,350.9L1111.6,349.8L1110.8,347.9L1110.0,346.0L1109.2,343.3L1108.4,342.0L1107.6,339.5L1106.8,337.0L1106.0,303.2L1105.2,288.2Z" fill="#ff0000" stroke="#ff0000" stroke-width="1.5" stroke-linejoin="round"/>
<path d="M1100.6,-10.0L1101.6,140.0L1103.7,260.0L1105.0,285.0L1105.2,266.3L1106.0,302.1L1106.8,331.5L1107.6,331.4L1108.4,340.4L1109.2,305.9L1110.0,303.8L1110.8,321.9L1111.6,331.9L1112.4,343.2L1113.2,339.1L1114.0,336.2L1114.8,336.1L1115.6,337.7L1116.4,346.9L1117.2,339.1L1118.0,346.1L1118.8,365.3L1119.6,367.1L1120.4,369.2L1121.2,366.4L1122.0,362.5L1122.8,366.1L1123.6,355.8L1124.4,364.7L1125.2,362.8L1126.0,350.6L1126.8,350.6L1127.6,382.9L1128.4,363.2L1129.2,361.7L1130.0,366.9L1130.8,379.4L1131.6,378.8L1132.4,391.4L1133.2,387.9L1134.0,389.6L1134.8,371.4L1135.6,393.2L1136.4,399.7L1137.2,402.3L1138.0,400.9L1138.8,402.2L1139.6,402.3L1140.4,407.4L1141.2,400.7L1142.0,401.2L1142.8,408.6L1143.6,412.6L1144.4,413.0L1145.2,412.0L1146.0,406.5L1146.8,408.0L1147.6,415.2L1148.4,417.6L1149.2,410.9L1150.0,409.0L1150.8,414.7L1151.6,408.1L1152.4,414.8L1153.2,405.2L1154.0,411.0L1154.8,403.8L1155.6,414.1L1156.4,414.2L1157.2,414.2L1158.0,416.8L1158.8,418.9L1159.6,418.6L1160.4,409.5L1161.2,418.9L1162.0,417.8L1162.8,415.8L1163.6,428.3L1164.4,421.2L1165.2,419.2L1166.0,420.5L1166.8,427.4L1167.6,417.1L1168.4,428.6L1169.2,431.2L1170.0,423.9L1170.8,427.0L1171.6,425.0L1172.4,429.5L1173.2,411.8L1174.0,415.4L1174.8,434.1L1175.6,437.3L1176.4,437.8L1177.2,438.2L1178.0,403.2L1178.8,406.5L1179.6,409.5L1180.4,410.2L1181.2,412.5L1182.0,414.8L1182.8,440.7L1183.6,425.4L1184.4,439.3L1185.2,418.4L1186.0,445.9L1186.8,428.3L1187.6,447.9L1188.4,434.9L1189.2,442.2L1190.0,452.9L1190.8,440.2L1191.6,451.6L1192.4,442.7L1193.2,440.7L1194.0,437.8L1194.8,449.4L1195.6,439.7L1196.4,440.2L1197.2,448.4L1198.0,444.4L1198.8,442.6L1199.6,453.7L1200.4,449.8L1201.2,448.4L1202.0,453.7L1202.8,452.5L1203.6,441.7L1204.4,446.7L1205.2,453.1L1206.0,449.8L1206.8,444.3L1207.6,454.5L1208.4,452.2L1209.2,444.2L1210.0,454.0L1210.8,460.2L1211.6,455.4L1212.4,456.9L1213.2,456.4L1214.0,463.1L1214.8,459.0L1215.6,462.1L1216.4,456.3L1217.2,452.2L1218.0,454.4L1218.8,459.6L1219.6,456.0L1220.4,460.3L1221.2,461.0L1222.0,461.0L1222.8,464.9L1223.6,451.7L1224.4,456.3L1225.2,444.6L1226.0,455.9L1226.8,449.0L1227.6,453.8L1228.4,454.5L1229.2,457.7L1230.0,450.5L1230.8,448.9L1231.6,451.8L1232.4,450.3L1233.2,462.4L1234.0,454.6L1234.8,447.4L1235.6,459.8L1236.4,466.5L1237.2,468.1L1238.0,467.4L1238.8,462.7L1239.6,463.6L1240.4,460.6L1241.2,459.8L1242.0,464.6L1242.8,468.8L1243.6,471.5L1244.4,466.6L1245.2,464.1L1246.0,463.1L1246.8,467.6L1247.6,463.0L1248.4,471.7L1249.2,466.1L1250.0,463.6L1250.8,466.4L1251.6,462.8L1252.4,466.5L1253.2,462.3L1254.0,467.9L1254.8,460.5L1255.6,457.8L1256.4,457.3L1257.2,469.0L1258.0,463.9L1258.8,457.8L1259.6,464.2L1260.4,459.2L1261.2,463.4L1262.0,464.1L1262.8,464.4L1263.6,460.2L1264.4,462.7L1265.2,467.7L1266.0,471.7L1266.8,464.7L1267.6,465.4L1268.4,472.5L1269.2,465.7L1270.0,466.3L1270.8,472.8L1271.6,465.9L1272.4,472.5L1273.2,470.8L1274.0,471.8L1274.8,466.1L1275.6,473.1L1276.4,467.8L1277.2,472.8L1278.0,467.8L1278.8,466.9L1279.6,472.3L1280.4,468.2L1281.2,471.8L1282.0,469.0L1282.8,470.7L1283.6,462.2L1284.4,464.8L1285.2,464.6L1286.0,465.2L1286.8,459.5L1287.6,459.2L1288.4,460.3L1289.2,464.5L1290.0,461.0L1290.8,463.2L1291.6,467.8L1292.4,462.6L1293.2,466.6L1294.0,469.6L1294.8,463.7L1295.6,462.5L1296.4,463.5L1297.2,469.8L1298.0,475.7L1298.8,470.4L1299.6,472.9L1300.4,476.5L1301.2,476.1L1302.0,473.4L1302.8,474.8L1303.6,476.5L1304.4,471.5L1305.2,474.2L1306.0,476.1L1306.8,471.6L1307.6,469.4L1308.4,468.8L1309.2,469.3L1310.0,472.5L1310.8,471.2L1311.6,467.2L1312.4,465.7L1313.2,469.8L1314.0,471.0L1314.8,471.7L1315.6,471.3L1316.4,466.0L1317.2,471.3L1318.0,471.8L1318.8,474.2L1319.6,467.9L1320.4,467.4L1321.2,471.2L1322.0,472.2L1322.8,468.7L1323.6,468.3L1324.4,471.2L1325.2,477.6L1326.0,477.7L1326.8,474.4L1327.6,473.8L1328.4,477.3L1329.2,473.6L1330.0,470.5L1330.8,470.4L1331.6,468.8L1332.4,469.0L1333.2,476.1L1334.0,467.7L1334.8,473.0L1335.6,466.3L1336.4,471.3L1337.2,478.5L1338.0,473.7L1338.8,471.3L1339.6,475.0L1340.4,472.3L1341.2,470.5L1342.0,471.3L1342.8,466.0L1343.6,474.1L1344.4,470.5L1345.2,470.2L1346.0,468.3L1346.8,471.4L1347.6,469.2L1348.4,468.2L1349.2,471.5L1350.0,474.5L1350.8,475.6L1351.6,474.3L1352.4,475.3L1353.2,470.6L1354.0,473.2L1354.8,475.3L1355.6,473.2L1356.4,469.7L1357.2,474.0L1358.0,472.5L1358.8,472.0L1359.6,476.5L1360.4,475.8L1361.2,473.1L1362.0,467.9L1362.8,469.1L1363.6,476.5L1364.4,476.4L1365.2,474.9L1366.0,469.5L1366.8,471.4L1367.6,471.8L1368.4,473.8L1369.2,471.7L1370.0,468.8L1370.8,468.0L1371.6,471.4L1372.4,468.6L1373.2,469.0L1374.0,468.0L1374.8,468.8L1375.6,472.0L1376.4,474.6L1377.2,471.1L1378.0,475.0L1378.8,474.0L1379.6,476.8L1380.4,476.9L1381.2,480.1L1382.0,482.5L1382.8,482.9L1383.6,482.8L1384.4,482.3L1385.2,486.0L1386.0,484.2L1386.8,483.2L1387.6,485.5L1388.4,483.7L1389.2,486.9L1390.0,485.4L1390.8,486.6L1391.6,483.9L1392.4,484.4L1393.2,483.4L1394.0,482.8L1394.8,485.3L1395.6,483.5L1396.4,484.2L1397.2,484.2L1398.0,487.2L1398.8,484.5L1399.6,485.6L1400.4,487.5L1401.2,486.9L1402.0,485.2L1402.8,482.3L1403.6,482.4L1404.4,483.9L1405.2,486.1L1406.0,483.0L1406.8,484.5L1407.6,484.3L1408.4,485.9L1409.2,484.1L1410.0,485.6L1410.8,481.6L1411.6,482.9L1412.4,482.0L1413.2,480.1L1414.0,478.6L1414.8,477.1L1415.6,479.5L1416.4,476.1L1417.2,477.9L1418.0,477.8L1418.8,483.9L1419.6,483.6L1420.4,486.8L1421.2,487.4L1422.0,488.8L1422.8,490.3L1423.6,490.1L1424.4,490.7L1425.2,492.1L1426.0,492.5L1426.8,492.3L1427.6,489.7L1428.4,491.8L1429.2,489.2L1430.0,491.2L1430.8,489.6L1431.6,489.3L1432.4,486.3L1433.2,487.6L1434.0,488.3L1434.8,485.6L1435.6,487.2L1436.4,485.5L1437.2,487.3L1438.0,484.7L1438.8,486.5L1439.6,486.1L1440.4,485.5L1441.2,487.8L1442.0,487.1L1442.8,488.5L1443.6,485.9L1444.4,485.1L1445.2,485.1L1446.0,485.4L1446.8,488.6L1447.6,491.1L1448.4,488.0L1449.2,486.8L1450.0,489.5L1450.8,490.4L1451.6,490.8L1452.4,492.4L1453.2,493.1L1454.0,493.3L1454.8,494.0L1455.6,494.4L1456.4,494.5L1457.2,494.6L1458.0,495.5L1458.8,494.9L1459.6,494.4L1460.4,494.3L1461.2,494.6L1462.0,494.2L1462.8,494.3L1463.6,494.2L1464.4,494.3L1465.2,493.8L1466.0,494.0L1466.8,493.8L1467.6,493.6L1468.4,493.1L1469.2,492.1L1470.0,492.0L1470.8,492.0L1471.6,492.6L1472.4,493.7L1473.2,493.6L1474.0,492.9L1474.8,492.9L1475.6,493.2L1476.4,493.5L1477.2,493.3L1478.0,493.0L1478.8,492.8L1479.6,492.6L1480.4,492.8L1481.2,493.4L1482.0,492.9L1482.8,492.7L1483.6,492.4L1484.4,492.8L1485.2,492.8L1486.0,493.2L1486.8,493.6L1487.6,493.0L1488.4,493.2L1489.2,495.3L1490.0,495.3L1490.8,495.3L1491.6,495.3L1492.4,495.7L1493.2,495.0L1494.0,495.0L1494.8,495.0L1495.6,494.9L1496.4,494.7L1497.2,495.0L1498.0,494.9L1498.8,495.0L1499.6,494.8L1500.4,494.8L1501.2,494.7L1502.0,496.1L1502.8,496.1L1503.6,495.8L1504.4,496.5L1505.2,496.1L1506.0,495.6L1506.8,495.4L1507.6,494.8L1508.4,495.3L1509.2,495.3L1510.0,495.1L1510.8,496.3L1511.6,496.1L1512.4,496.3L1513.2,496.1L1514.0,496.5L1514.8,496.4L1515.6,496.4L1516.4,496.0L1517.2,496.0L1518.0,495.3L1518.8,494.7L1519.6,495.1L1520.4,495.6L1521.2,497.6L1522.0,497.8L1522.8,498.8L1523.6,498.9L1524.4,498.5L1525.2,499.2L1526.0,498.1L1526.8,497.8L1527.6,497.8L1528.4,497.8L1529.2,497.8L1530.0,497.9L1530.8,498.1L1531.6,498.3L1532.4,498.8L1533.2,498.3L1534.0,498.4L1534.8,498.4L1535.6,497.9L1536.4,497.9L1537.2,497.9L1538.0,498.5L1538.8,498.7L1539.6,498.8L1540.4,498.6L1541.2,498.7L1542.0,498.8L1542.8,498.6L1543.6,498.7L1544.4,499.2L1545.2,498.8L1546.0,499.1L1546.8,499.3L1547.6,499.2L1548.4,499.2L1549.2,499.0L1550.0,498.9L1550.8,498.8L1551.6,498.7L1552.4,499.5L1553.2,498.5L1554.0,498.9L1554.8,498.6L1555.6,499.2L1556.4,499.4L1557.2,499.6L1558.0,499.6L1558.8,500.0L1559.6,500.0L1560.4,499.2L1561.2,499.6L1562.0,499.9L1562.8,499.8L1563.6,499.3L1564.4,499.5L1565.2,499.5L1566.0,499.8L1566.8,500.0L1567.6,499.9L1568.4,500.0L1569.2,499.8L1570.0,499.8L1570.8,500.0L1571.6,500.0L1572.4,500.0L1573.2,500.0L1574.0,500.0L1574.8,500.0L1575.6,500.0L1576.4,499.9L1577.2,499.9L1578.0,499.0L1578.8,499.3L1579.6,499.5L1580.4,499.6L1581.2,499.7L1582.0,499.4L1582.8,499.9L1583.6,499.8L1584.4,499.3L1585.2,499.3L1586.0,499.6L1586.8,499.3L1587.6,499.9L1588.4,499.8L1589.2,499.8L1590.0,500.0L1590.8,499.5L1591.6,499.9L1592.4,500.0L1593.2,500.0L1594.0,499.6L1594.8,499.4L1595.6,499.1L1596.4,499.6L1597.2,499.5L1598.0,500.0L1598.8,500.0L1599.6,499.7L1600.4,499.4L1601.2,499.3L1602.0,499.5L1602.8,499.5L1603.6,499.0L1604.4,499.4L1605.2,499.0L1606.0,499.2L1606.8,499.5L1607.6,499.4L1608.4,499.6L1609.2,500.0L1610.0,499.6L1610.8,499.5L1611.6,499.2L1612.4,499.3L1613.2,499.3L1614.0,499.4L1614.8,499.5L1615.6,499.1L1616.4,499.6L1617.2,499.4L1618.0,499.5L1618.8,500.0L1619.6,499.5L1620.4,499.0L1621.2,499.0L1622.0,499.2L1622.8,499.0L1623.6,499.4L1624.4,499.8L1625.2,500.0L1626.0,500.0L1626.8,500.0L1627.6,500.0L1628.4,499.7L1629.2,499.9L1630.0,499.7L1630.8,499.7L1631.6,500.0L1632.4,499.9L1633.2,499.1L1634.0,499.4L1634.8,499.3L1635.6,499.0L1636.4,499.0L1637.2,499.4L1638.0,499.4L1638.8,499.5L1639.6,499.3L1640.4,499.3L1641.2,499.2L1642.0,499.0L1642.8,499.0L1643.6,499.0L1644.4,499.1L1645.2,499.0L1646.0,499.0L1646.8,499.1L1647.6,499.3L1648.4,499.8L1649.2,499.6L1650.0,499.2L1650.8,499.4L1651.6,499.3L1652.4,499.2L1653.2,499.8L1654.0,499.2L1654.8,499.4L1655.6,499.6L1656.4,499.5L1657.2,499.8L1658.0,499.7L1658.8,500.0L1659.6,500.0L1660.4,499.8L1661.2,499.7L1662.0,500.0L1662.8,500.0L1663.6,500.0L1664.4,499.6L1665.2,500.0L1666.0,499.7L1666.8,499.7L1667.6,500.0L1668.4,499.8L1669.2,499.4L1670.0,500.0L1670.8,499.5L1671.6,499.8L1672.4,499.3L1673.2,499.7L1674.0,499.4L1674.8,499.1L1675.6,499.1L1676.4,499.4L1677.2,499.7L1678.0,499.7L1678.8,500.0L1679.6,499.6L1680.4,499.2L1681.2,499.1L1682.0,499.0L1682.8,499.0L1683.6,499.5" fill="none" stroke="#ff0000" stroke-width="4.2" stroke-linejoin="round" stroke-linecap="round"/>
<path d="M1521,498.4H1560" stroke="#dd1020" stroke-width="4.4"/>
<path d="M1556,499.2H1684.5" stroke="#b8122e" stroke-width="5" stroke-linecap="round"/>
</g>
<clipPath id="cia"><rect x="515.9" y="215.3" width="194.0" height="142.8"/></clipPath>
<clipPath id="cib"><rect x="1390.9" y="215.3" width="194.0" height="142.8"/></clipPath>
<g clip-path="url(#cia)">
<path d="M515.9,282.4L516.6,285.5L517.3,284.9L518.0,279.7L518.7,283.7L519.4,284.1L520.1,286.0L520.8,286.7L521.5,286.9L522.2,284.4L522.9,275.3L523.6,276.5L524.3,284.5L525.0,285.6L525.7,278.6L526.4,277.0L527.1,283.8L527.8,281.9L528.5,278.1L529.2,279.8L529.9,280.0L530.6,274.5L531.3,271.5L532.0,275.9L532.7,270.4L533.4,273.8L534.1,276.5L534.8,268.6L535.5,279.2L536.2,273.6L536.9,266.9L537.6,266.4L538.3,269.4L539.0,271.0L539.7,275.0L540.4,277.2L541.1,287.2L541.8,287.2L542.5,287.4L543.2,281.7L543.9,283.4L544.6,288.0L545.3,280.9L546.0,281.3L546.7,281.7L547.4,281.5L548.1,285.4L548.8,280.5L549.5,289.1L550.2,291.5L550.9,291.6L551.6,285.0L552.3,285.9L553.0,282.5L553.7,281.8L554.4,286.3L555.1,285.9L555.8,283.8L556.5,289.7L557.2,282.0L557.9,287.2L558.6,280.4L559.3,280.2L560.0,280.8L560.7,281.9L561.4,279.6L562.1,277.7L562.8,277.4L563.5,276.3L564.2,275.6L564.9,277.1L565.6,276.5L566.3,287.1L567.0,276.9L567.7,277.4L568.4,286.2L569.1,289.2L569.8,278.5L570.5,277.4L571.2,276.6L571.9,274.7L572.6,278.6L573.3,282.4L574.0,276.4L574.7,281.1L575.4,278.4L576.1,277.4L576.8,273.3L577.5,284.9L578.2,287.2L578.9,289.0L579.6,278.4L580.3,280.9L581.0,281.9L581.7,282.5L582.4,283.4L583.1,292.3L583.8,292.1L584.5,292.2L585.2,292.8L585.9,282.7L586.6,283.0L587.3,292.7L588.0,293.3L588.7,293.1L589.4,288.1L590.1,280.4L590.8,280.5L591.5,279.9L592.2,279.7L592.9,284.8L593.6,291.9L594.3,279.7L595.0,284.2L595.7,280.0L596.4,278.7L597.1,278.4L597.8,278.1L598.5,280.0L599.2,278.8L599.9,281.8L600.6,278.8L601.3,279.3L602.0,279.2L602.7,286.9L603.4,281.0L604.1,288.6L604.8,284.7L605.5,283.7L606.2,290.5L606.9,280.0L607.6,281.9L608.3,278.3L609.0,280.7L609.7,276.7L610.4,274.7L611.1,277.1L611.8,284.7L612.5,282.5L613.2,285.6L613.9,278.0L614.6,275.6L615.3,277.8L616.0,273.0L616.7,273.3L617.4,272.4L618.1,272.3L618.8,273.9L619.5,276.6L620.2,276.4L620.9,284.7L621.6,285.6L622.3,287.8L623.0,289.9L623.7,296.1L624.4,283.8L625.1,290.5L625.8,285.6L626.5,293.6L627.2,295.0L627.9,289.9L628.6,288.9L629.3,287.1L630.0,283.4L630.7,284.3L631.4,283.8L632.1,284.0L632.8,286.0L633.5,280.2L634.2,286.1L634.9,289.9L635.6,284.3L636.3,280.9L637.0,279.2L637.7,276.6L638.4,285.4L639.1,285.4L639.8,291.5L640.5,291.7L641.2,290.5L641.9,285.9L642.6,278.6L643.3,292.5L644.0,289.8L644.7,287.2L645.4,285.2L646.1,283.8L646.8,293.2L647.5,277.7L648.2,282.2L648.9,282.3L649.6,282.5L650.3,279.9L651.0,280.3L651.7,282.5L652.4,284.4L653.1,288.5L653.8,293.7L654.5,276.5L655.2,282.5L655.9,273.2L656.6,279.7L657.3,270.6L658.0,285.9L658.7,268.6L659.4,275.7L660.1,293.3L660.8,276.5L661.5,277.1L662.2,289.5L662.9,285.3L663.6,287.3L664.3,285.3L665.0,281.4L665.7,282.0L666.4,286.8L667.1,290.4L667.8,284.5L668.5,274.0L669.2,283.8L669.9,276.7L670.6,279.5L671.3,278.5L672.0,279.6L672.7,289.2L673.4,287.7L674.1,278.8L674.8,280.0L675.5,281.5L676.2,279.5L676.9,285.5L677.6,284.9L678.3,280.9L679.0,289.2L679.7,288.8L680.4,284.7L681.1,287.3L681.8,289.9L682.5,289.5L683.2,285.1L683.9,282.9L684.6,286.2L685.3,280.3L686.0,282.3L686.7,278.8L687.4,282.5L688.1,286.6L688.8,282.5L689.5,279.2L690.2,279.0L690.9,275.4L691.6,277.4L692.3,272.8L693.0,280.8L693.7,281.6L694.4,283.6L695.1,290.2L695.8,286.4L696.5,289.0L697.2,288.6L697.9,290.5L698.6,281.6L699.3,280.6L700.0,281.9L700.7,281.6L701.4,282.1L702.1,281.1L702.8,282.7L703.5,291.8L704.2,291.9L704.9,293.0L705.6,292.9L706.3,293.0L707.0,292.9L707.7,289.2L708.4,289.7L709.1,283.8L709.8,283.9" fill="none" stroke="#000" stroke-width="5.0" stroke-linejoin="round" stroke-linecap="round"/>
<path d="M515.9,349H709.9" stroke="#e8141c" stroke-width="3.6"/>
</g>
<g clip-path="url(#cib)">
<path d="M1390.9,253.7L1391.6,255.7L1392.3,260.0L1393.0,258.7L1393.7,253.4L1394.4,252.9L1395.1,254.4L1395.8,256.9L1396.5,258.9L1397.2,259.5L1397.9,257.1L1398.6,260.1L1399.3,260.1L1400.0,260.1L1400.7,259.1L1401.4,258.8L1402.1,253.2L1402.8,256.6L1403.5,259.3L1404.2,259.0L1404.9,253.2L1405.6,249.0L1406.3,248.8L1407.0,250.4L1407.7,248.0L1408.4,250.2L1409.1,258.7L1409.8,262.6L1410.5,259.7L1411.2,256.3L1411.9,261.5L1412.6,258.0L1413.3,263.0L1414.0,264.6L1414.7,258.1L1415.4,254.7L1416.1,254.9L1416.8,254.2L1417.5,254.1L1418.2,253.9L1418.9,253.7L1419.6,253.7L1420.3,253.5L1421.0,257.3L1421.7,262.0L1422.4,256.4L1423.1,254.8L1423.8,262.4L1424.5,261.8L1425.2,262.1L1425.9,261.9L1426.6,258.5L1427.3,255.8L1428.0,255.1L1428.7,252.3L1429.4,261.0L1430.1,261.5L1430.8,261.5L1431.5,261.7L1432.2,261.5L1432.9,260.0L1433.6,261.7L1434.3,260.8L1435.0,257.6L1435.7,255.4L1436.4,261.7L1437.1,261.1L1437.8,259.3L1438.5,254.7L1439.2,255.4L1439.9,250.9L1440.6,253.6L1441.3,250.9L1442.0,247.2L1442.7,247.4L1443.4,248.1L1444.1,248.2L1444.8,250.3L1445.5,253.9L1446.2,254.2L1446.9,257.7L1447.6,253.6L1448.3,256.1L1449.0,258.7L1449.7,258.9L1450.4,255.7L1451.1,256.3L1451.8,259.3L1452.5,260.1L1453.2,260.3L1453.9,260.6L1454.6,260.9L1455.3,259.5L1456.0,259.0L1456.7,261.7L1457.4,258.6L1458.1,254.3L1458.8,254.6L1459.5,254.8L1460.2,254.9L1460.9,256.5L1461.6,254.8L1462.3,254.1L1463.0,253.2L1463.7,255.5L1464.4,253.9L1465.1,260.1L1465.8,255.4L1466.5,258.4L1467.2,257.6L1467.9,255.8L1468.6,255.4L1469.3,254.8L1470.0,253.4L1470.7,245.6L1471.4,237.5L1472.1,250.3L1472.8,252.3L1473.5,241.2L1474.2,245.2L1474.9,245.6L1475.6,242.8L1476.3,246.1L1477.0,247.6L1477.7,242.6L1478.4,245.9L1479.1,243.5L1479.8,245.9L1480.5,243.3L1481.2,246.1L1481.9,253.3L1482.6,258.1L1483.3,254.6L1484.0,251.2L1484.7,255.8L1485.4,258.0L1486.1,258.9L1486.8,259.2L1487.5,259.4L1488.2,256.9L1488.9,252.5L1489.6,254.4L1490.3,254.4L1491.0,253.5L1491.7,254.3L1492.4,261.3L1493.1,259.8L1493.8,259.6L1494.5,261.0L1495.2,257.9L1495.9,259.8L1496.6,259.0L1497.3,263.1L1498.0,261.9L1498.7,260.2L1499.4,257.5L1500.1,256.5L1500.8,256.7L1501.5,259.1L1502.2,256.5L1502.9,258.6L1503.6,262.9L1504.3,264.5L1505.0,263.9L1505.7,264.7L1506.4,262.0L1507.1,255.8L1507.8,252.1L1508.5,253.1L1509.2,261.3L1509.9,257.5L1510.6,251.7L1511.3,253.8L1512.0,259.1L1512.7,263.5L1513.4,263.2L1514.1,263.0L1514.8,262.8L1515.5,262.5L1516.2,259.2L1516.9,262.1L1517.6,261.8L1518.3,261.7L1519.0,261.7L1519.7,262.3L1520.4,254.8L1521.1,261.1L1521.8,260.9L1522.5,258.5L1523.2,263.6L1523.9,263.5L1524.6,261.9L1525.3,264.0L1526.0,265.3L1526.7,265.8L1527.4,265.0L1528.1,262.0L1528.8,262.7L1529.5,264.0L1530.2,264.1L1530.9,265.5L1531.6,265.3L1532.3,263.9L1533.0,264.9L1533.7,264.8L1534.4,264.6L1535.1,264.5L1535.8,264.3L1536.5,264.2L1537.2,263.3L1537.9,263.8L1538.6,263.7L1539.3,261.4L1540.0,261.2L1540.7,261.8L1541.4,262.4L1542.1,260.2L1542.8,262.4L1543.5,262.8L1544.2,262.0L1544.9,262.7L1545.6,261.7L1546.3,258.6L1547.0,261.4L1547.7,262.4L1548.4,259.8L1549.1,258.4L1549.8,261.6L1550.5,255.2L1551.2,244.6L1551.9,231.7L1552.6,261.9L1553.3,260.6L1554.0,260.2L1554.7,260.7L1555.4,255.9L1556.1,258.9L1556.8,257.3L1557.5,258.0L1558.2,265.1L1558.9,261.9L1559.6,260.0L1560.3,261.9L1561.0,264.5L1561.7,265.6L1562.4,260.7L1563.1,263.0L1563.8,259.7L1564.5,257.0L1565.2,256.3L1565.9,260.3L1566.6,260.2L1567.3,257.7L1568.0,256.8L1568.7,259.9L1569.4,260.7L1570.1,262.8L1570.8,263.0L1571.5,263.1L1572.2,260.8L1572.9,260.9L1573.6,260.1L1574.3,261.7L1575.0,261.0L1575.7,261.4L1576.4,261.0L1577.1,261.7L1577.8,262.7L1578.5,260.8L1579.2,261.2L1579.9,262.7L1580.6,261.0L1581.3,263.1L1582.0,258.1L1582.7,257.0L1583.4,260.8L1584.1,255.9L1584.8,257.3" fill="none" stroke="#000" stroke-width="5.0" stroke-linejoin="round" stroke-linecap="round"/>
<path d="M1390.9,355.6H1584.9" stroke="#e8141c" stroke-width="4.4"/>
</g>
<rect x="193.1" y="25.3" width="645.2" height="476.6" fill="none" stroke="#000" stroke-width="3.4"/>
<rect x="515.9" y="215.3" width="194.0" height="142.8" fill="none" stroke="#000" stroke-width="3.0"/>
<rect x="1068.1" y="25.3" width="645.2" height="476.6" fill="none" stroke="#000" stroke-width="3.4"/>
<rect x="1390.9" y="215.3" width="194.0" height="142.8" fill="none" stroke="#000" stroke-width="3.0"/>
<g font-family="'Liberation Sans','DejaVu Sans',sans-serif" font-size="47.0" fill="#000"><text x="4.4" y="49.8">(a)</text><text x="879.4" y="49.8">(b)</text></g>
</svg>
</body>
</html>
